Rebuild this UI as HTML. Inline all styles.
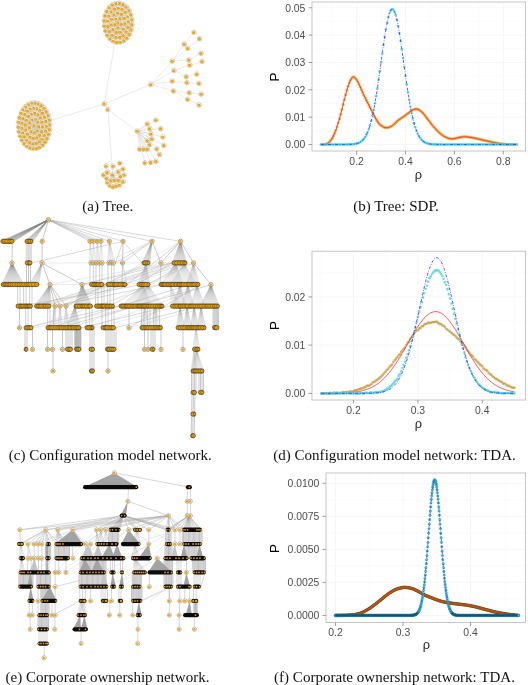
<!DOCTYPE html>
<html><head><meta charset="utf-8"><title>Figure</title>
<style>
html,body{margin:0;padding:0;background:#fff}
svg{display:block}
.cap{font-family:"Liberation Serif",serif;font-size:15.05px;fill:#111}
.tk{font-family:"Liberation Sans",sans-serif;font-size:10.4px;fill:#4d4d4d}
.ax{font-family:"Liberation Sans",sans-serif;font-size:13.5px;fill:#000}
.ar{font-family:"Liberation Sans",sans-serif;font-size:12.8px;fill:#222}
.e{stroke:#d4d4d4;stroke-width:.5;fill:none}
.e2{stroke:#a9a9a9;stroke-width:.45;fill:none}
.e3{stroke:#909090;stroke-width:.5;fill:none}
.e5{stroke:#adadad;stroke-width:.5;fill:none}
.e6{stroke:#a2a2a2;stroke-width:.5;fill:none}
.e4{stroke:#6c6c6c;stroke-opacity:.8;stroke-width:.5;fill:none}
.fa{stroke:#7a7a7a;stroke-opacity:.42;stroke-width:.35;fill:none}
.fb{stroke:#8c8c8c;stroke-opacity:.36;stroke-width:.35;fill:none}
.tr{fill:#a3a3a3;stroke:none}
.tr2{fill:#c4c4c4;stroke:none}
.bk{fill:#0a0a0a}
.gM{stroke:#f0f0f0;stroke-width:.6;fill:none}
.gm{stroke:#f7f7f7;stroke-width:.5;fill:none}
.bd{stroke:#c6c6c6;stroke-width:1;fill:none}
.tm{stroke:#787878;stroke-width:.7;fill:none}
</style></head><body>
<svg width="528" height="685" viewBox="0 0 528 685">
<defs>
<radialGradient id="og" cx="40%" cy="60%" r="65%"><stop offset="0" stop-color="#ffb400"/><stop offset=".7" stop-color="#f0a000"/><stop offset="1" stop-color="#c98200"/></radialGradient>
<g id="na"><circle r="2.35" fill="#fff" stroke="#adadad" stroke-width=".55"/><circle cx="-.25" cy=".25" r="1.62" fill="url(#og)"/></g>
<g id="nc"><circle r="2.15" fill="#fff" stroke="#6c6c6c" stroke-width=".6"/><circle cx="-.2" cy=".2" r="1.38" fill="url(#og)"/></g>
<g id="nd"><circle r="2.1" fill="#f2a200" stroke="#4a4a4a" stroke-opacity=".5" stroke-width=".55"/></g>
<g id="ng"><circle r="2.1" fill="#e8a41c" stroke="#3a3a3a" stroke-opacity=".8" stroke-width=".5"/><circle cx="-.1" cy=".1" r="1.3" fill="#f5a500"/></g>
<g id="ne"><circle r="2.1" fill="#fff" stroke="#858585" stroke-width=".5"/><circle cx="-.25" cy=".25" r="1.3" fill="url(#og)"/></g>
<g id="nf"><circle r="2.15" fill="#111"/><circle r="1.25" fill="#f0a000"/></g>
</defs>
<rect width="528" height="685" fill="#fff"/>
<g id="pa">
<path class="e" d="M118.2 22.7L121.5 24.1"/><path class="e" d="M118.2 22.7L118.2 27.6"/><path class="e" d="M118.2 22.7L114.9 24.3"/><path class="e" d="M118.2 22.7L116.1 18.8"/><path class="e" d="M118.2 22.7L120.2 18.7"/><path class="e" d="M118.2 22.7L123.6 28.8"/><path class="e" d="M118.2 22.7L120.4 32"/><path class="e" d="M118.2 22.7L116.5 32.2"/><path class="e" d="M118.2 22.7L113.2 29.4"/><path class="e" d="M118.2 22.7L111.4 24.5"/><path class="e" d="M118.2 22.7L111.8 19"/><path class="e" d="M118.2 22.7L114.2 14.7"/><path class="e" d="M118.2 22.7L117.9 12.9"/><path class="e" d="M118.2 22.7L121.7 14.2"/><path class="e" d="M118.2 22.7L124.4 18.2"/><path class="e" d="M118.2 22.7L125.1 23.7"/><path class="e" d="M118.2 22.7L123.5 35.4"/><path class="e" d="M118.2 22.7L119.9 37.2"/><path class="e" d="M118.2 22.7L116 37.1"/><path class="e" d="M118.2 22.7L112.5 35"/><path class="e" d="M118.2 22.7L109.7 31.3"/><path class="e" d="M118.2 22.7L108.1 26.4"/><path class="e" d="M118.2 22.7L107.8 21"/><path class="e" d="M118.2 22.7L109 15.8"/><path class="e" d="M118.2 22.7L111.4 11.6"/><path class="e" d="M118.2 22.7L114.7 8.9"/><path class="e" d="M118.2 22.7L118.4 8"/><path class="e" d="M118.2 22.7L122.2 9.1"/><path class="e" d="M118.2 22.7L125.4 12.1"/><path class="e" d="M118.2 22.7L127.6 16.5"/><path class="e" d="M118.2 22.7L128.6 21.7"/><path class="e" d="M118.2 22.7L128.2 27.1"/><path class="e" d="M118.2 22.7L126.4 31.8"/><path class="e" d="M118.2 22.7L120.4 42"/><path class="e" d="M118.2 22.7L116.8 42.2"/><path class="e" d="M118.2 22.7L113.3 41"/><path class="e" d="M118.2 22.7L110.1 38.6"/><path class="e" d="M118.2 22.7L107.4 35.1"/><path class="e" d="M118.2 22.7L105.5 30.7"/><path class="e" d="M118.2 22.7L104.5 25.8"/><path class="e" d="M118.2 22.7L104.4 20.7"/><path class="e" d="M118.2 22.7L105.2 15.7"/><path class="e" d="M118.2 22.7L106.9 11.2"/><path class="e" d="M118.2 22.7L109.4 7.5"/><path class="e" d="M118.2 22.7L112.5 4.8"/><path class="e" d="M118.2 22.7L116 3.4"/><path class="e" d="M118.2 22.7L119.6 3.2"/><path class="e" d="M118.2 22.7L123.1 4.4"/><path class="e" d="M118.2 22.7L126.3 6.8"/><path class="e" d="M118.2 22.7L129 10.3"/><path class="e" d="M118.2 22.7L130.9 14.7"/><path class="e" d="M118.2 22.7L131.9 19.6"/><path class="e" d="M118.2 22.7L132 24.7"/><path class="e" d="M118.2 22.7L131.2 29.7"/><path class="e" d="M118.2 22.7L129.5 34.2"/><path class="e" d="M118.2 22.7L127 37.9"/><path class="e" d="M118.2 22.7L123.9 40.6"/><path class="e" d="M34.2 125.7L38.9 126.4"/><path class="e" d="M34.2 125.7L37.5 130.6"/><path class="e" d="M34.2 125.7L34.5 132.5"/><path class="e" d="M34.2 125.7L31.5 131.3"/><path class="e" d="M34.2 125.7L29.7 127.4"/><path class="e" d="M34.2 125.7L30 122.7"/><path class="e" d="M34.2 125.7L32.3 119.5"/><path class="e" d="M34.2 125.7L35.5 119.1"/><path class="e" d="M34.2 125.7L38.1 121.8"/><path class="e" d="M34.2 125.7L41.8 131.4"/><path class="e" d="M34.2 125.7L39.8 135.2"/><path class="e" d="M34.2 125.7L36.9 137.6"/><path class="e" d="M34.2 125.7L33.5 138.2"/><path class="e" d="M34.2 125.7L30.3 136.9"/><path class="e" d="M34.2 125.7L27.7 133.9"/><path class="e" d="M34.2 125.7L26 129.6"/><path class="e" d="M34.2 125.7L25.6 124.7"/><path class="e" d="M34.2 125.7L26.6 120"/><path class="e" d="M34.2 125.7L28.6 116.2"/><path class="e" d="M34.2 125.7L31.5 113.8"/><path class="e" d="M34.2 125.7L34.9 113.2"/><path class="e" d="M34.2 125.7L38.1 114.5"/><path class="e" d="M34.2 125.7L40.7 117.5"/><path class="e" d="M34.2 125.7L42.4 121.8"/><path class="e" d="M34.2 125.7L42.8 126.7"/><path class="e" d="M34.2 125.7L42.3 139"/><path class="e" d="M34.2 125.7L39.6 141.7"/><path class="e" d="M34.2 125.7L36.4 143.2"/><path class="e" d="M34.2 125.7L33.1 143.5"/><path class="e" d="M34.2 125.7L29.9 142.4"/><path class="e" d="M34.2 125.7L27 140"/><path class="e" d="M34.2 125.7L24.6 136.7"/><path class="e" d="M34.2 125.7L22.9 132.5"/><path class="e" d="M34.2 125.7L22.1 127.8"/><path class="e" d="M34.2 125.7L22.2 122.9"/><path class="e" d="M34.2 125.7L23.1 118.3"/><path class="e" d="M34.2 125.7L24.9 114.2"/><path class="e" d="M34.2 125.7L27.4 110.9"/><path class="e" d="M34.2 125.7L30.4 108.8"/><path class="e" d="M34.2 125.7L33.6 107.9"/><path class="e" d="M34.2 125.7L36.9 108.3"/><path class="e" d="M34.2 125.7L40 110"/><path class="e" d="M34.2 125.7L42.7 112.9"/><path class="e" d="M34.2 125.7L44.7 116.8"/><path class="e" d="M34.2 125.7L46 121.2"/><path class="e" d="M34.2 125.7L46.4 126.1"/><path class="e" d="M34.2 125.7L45.8 130.9"/><path class="e" d="M34.2 125.7L44.5 135.3"/><path class="e" d="M34.2 125.7L39.7 147.1"/><path class="e" d="M34.2 125.7L36.6 148.3"/><path class="e" d="M34.2 125.7L33.3 148.5"/><path class="e" d="M34.2 125.7L30.1 147.7"/><path class="e" d="M34.2 125.7L27 146"/><path class="e" d="M34.2 125.7L24.3 143.4"/><path class="e" d="M34.2 125.7L22 140"/><path class="e" d="M34.2 125.7L20.3 136"/><path class="e" d="M34.2 125.7L19.1 131.5"/><path class="e" d="M34.2 125.7L18.6 126.8"/><path class="e" d="M34.2 125.7L18.8 122"/><path class="e" d="M34.2 125.7L19.7 117.4"/><path class="e" d="M34.2 125.7L21.2 113.1"/><path class="e" d="M34.2 125.7L23.2 109.5"/><path class="e" d="M34.2 125.7L25.8 106.5"/><path class="e" d="M34.2 125.7L28.7 104.3"/><path class="e" d="M34.2 125.7L31.8 103.1"/><path class="e" d="M34.2 125.7L35.1 102.9"/><path class="e" d="M34.2 125.7L38.3 103.7"/><path class="e" d="M34.2 125.7L41.4 105.4"/><path class="e" d="M34.2 125.7L44.1 108"/><path class="e" d="M34.2 125.7L46.4 111.4"/><path class="e" d="M34.2 125.7L48.1 115.4"/><path class="e" d="M34.2 125.7L49.3 119.9"/><path class="e" d="M34.2 125.7L49.8 124.6"/><path class="e" d="M34.2 125.7L49.6 129.4"/><path class="e" d="M34.2 125.7L48.7 134"/><path class="e" d="M34.2 125.7L47.2 138.3"/><path class="e" d="M34.2 125.7L45.2 141.9"/><path class="e" d="M34.2 125.7L42.6 144.9"/><path class="e" d="M104.3 103.8L118 24"/><path class="e" d="M104.3 103.8L34.2 125.7"/><path class="e" d="M104.3 103.8L150.8 84.5"/><path class="e" d="M104.3 103.8L107.9 109.5"/><path class="e" d="M107.9 109.5L137.3 131"/><path class="e" d="M107.9 109.5L112.7 174.9"/><path class="e" d="M150.8 84.5L172.3 61.1"/><path class="e" d="M150.8 84.5L174 70.5"/><path class="e" d="M150.8 84.5L172.3 81.1"/><path class="e" d="M150.8 84.5L173.5 90.9"/><path class="e" d="M172.3 61.1L184.3 44.1"/><path class="e" d="M184.3 44.1L193.9 32.3"/><path class="e" d="M172.3 61.1L187.8 48.3"/><path class="e" d="M187.8 48.3L199.6 38.7"/><path class="e" d="M172.3 61.1L189 59.9"/><path class="e" d="M189 59.9L201.1 53.3"/><path class="e" d="M174 70.5L189.8 65.1"/><path class="e" d="M189.8 65.1L202.1 61.4"/><path class="e" d="M174 70.5L186.3 76.7"/><path class="e" d="M186.3 76.7L196.9 74.2"/><path class="e" d="M172.3 81.1L187 82.6"/><path class="e" d="M187 82.6L199.1 83.3"/><path class="e" d="M173.5 90.9L189.3 92.7"/><path class="e" d="M189.3 92.7L201.3 94.1"/><path class="e" d="M173.5 90.9L187.8 99.3"/><path class="e" d="M187.8 99.3L199.1 105"/><path class="e" d="M137.3 131L155.9 120"/><path class="e" d="M137.3 131L147.4 123.8"/><path class="e" d="M137.3 131L149.8 128.7"/><path class="e" d="M137.3 131L160.8 128.7"/><path class="e" d="M137.3 131L151 133.8"/><path class="e" d="M137.3 131L162.9 137"/><path class="e" d="M137.3 131L151.9 138.9"/><path class="e" d="M137.3 131L147.4 140.5"/><path class="e" d="M137.3 131L149.8 144.6"/><path class="e" d="M137.3 131L163.9 145.4"/><path class="e" d="M137.3 131L139.8 149.2"/><path class="e" d="M137.3 131L143.8 149.2"/><path class="e" d="M137.3 131L147.4 149.2"/><path class="e" d="M137.3 131L156.9 148.8"/><path class="e" d="M137.3 131L159.7 154.5"/><path class="e" d="M137.3 131L144.9 162.8"/><path class="e" d="M137.3 131L150.8 162.4"/><path class="e" d="M137.3 131L156.1 161.3"/><path class="e" d="M112.7 174.9L106.1 166"/><path class="e" d="M112.7 174.9L113.1 166"/><path class="e" d="M112.7 174.9L119.9 163.2"/><path class="e" d="M112.7 174.9L123.1 168.9"/><path class="e" d="M112.7 174.9L107.4 172.3"/><path class="e" d="M112.7 174.9L118.4 171.7"/><path class="e" d="M112.7 174.9L103.6 174.9"/><path class="e" d="M112.7 174.9L124.1 174.9"/><path class="e" d="M112.7 174.9L120.7 176.4"/><path class="e" d="M112.7 174.9L106.7 178.3"/><path class="e" d="M112.7 174.9L110.8 180.6"/><path class="e" d="M112.7 174.9L114.6 180.2"/><path class="e" d="M112.7 174.9L118.4 180.2"/><path class="e" d="M112.7 174.9L123.1 181.7"/><path class="e" d="M112.7 174.9L107.4 182.5"/><path class="e" d="M112.7 174.9L109.9 185.5"/><path class="e" d="M112.7 174.9L113.1 186.9"/><path class="e" d="M112.7 174.9L116.1 185.9"/><path class="e" d="M112.7 174.9L119.4 185"/>
<use href="#na" x="123.9" y="40.6"/>
<use href="#na" x="127" y="37.9"/>
<use href="#na" x="129.5" y="34.2"/>
<use href="#na" x="131.2" y="29.7"/>
<use href="#na" x="132" y="24.7"/>
<use href="#na" x="131.9" y="19.6"/>
<use href="#na" x="130.9" y="14.7"/>
<use href="#na" x="129" y="10.3"/>
<use href="#na" x="126.3" y="6.8"/>
<use href="#na" x="123.1" y="4.4"/>
<use href="#na" x="119.6" y="3.2"/>
<use href="#na" x="116" y="3.4"/>
<use href="#na" x="112.5" y="4.8"/>
<use href="#na" x="109.4" y="7.5"/>
<use href="#na" x="106.9" y="11.2"/>
<use href="#na" x="105.2" y="15.7"/>
<use href="#na" x="104.4" y="20.7"/>
<use href="#na" x="104.5" y="25.8"/>
<use href="#na" x="105.5" y="30.7"/>
<use href="#na" x="107.4" y="35.1"/>
<use href="#na" x="110.1" y="38.6"/>
<use href="#na" x="113.3" y="41"/>
<use href="#na" x="116.8" y="42.2"/>
<use href="#na" x="120.4" y="42"/>
<use href="#na" x="126.4" y="31.8"/>
<use href="#na" x="128.2" y="27.1"/>
<use href="#na" x="128.6" y="21.7"/>
<use href="#na" x="127.6" y="16.5"/>
<use href="#na" x="125.4" y="12.1"/>
<use href="#na" x="122.2" y="9.1"/>
<use href="#na" x="118.4" y="8"/>
<use href="#na" x="114.7" y="8.9"/>
<use href="#na" x="111.4" y="11.6"/>
<use href="#na" x="109" y="15.8"/>
<use href="#na" x="107.8" y="21"/>
<use href="#na" x="108.1" y="26.4"/>
<use href="#na" x="109.7" y="31.3"/>
<use href="#na" x="112.5" y="35"/>
<use href="#na" x="116" y="37.1"/>
<use href="#na" x="119.9" y="37.2"/>
<use href="#na" x="123.5" y="35.4"/>
<use href="#na" x="125.1" y="23.7"/>
<use href="#na" x="124.4" y="18.2"/>
<use href="#na" x="121.7" y="14.2"/>
<use href="#na" x="117.9" y="12.9"/>
<use href="#na" x="114.2" y="14.7"/>
<use href="#na" x="111.8" y="19"/>
<use href="#na" x="111.4" y="24.5"/>
<use href="#na" x="113.2" y="29.4"/>
<use href="#na" x="116.5" y="32.2"/>
<use href="#na" x="120.4" y="32"/>
<use href="#na" x="123.6" y="28.8"/>
<use href="#na" x="120.2" y="18.7"/>
<use href="#na" x="116.1" y="18.8"/>
<use href="#na" x="114.9" y="24.3"/>
<use href="#na" x="118.2" y="27.6"/>
<use href="#na" x="121.5" y="24.1"/>
<use href="#na" x="118.2" y="22.7"/>
<use href="#na" x="42.6" y="144.9"/>
<use href="#na" x="45.2" y="141.9"/>
<use href="#na" x="47.2" y="138.3"/>
<use href="#na" x="48.7" y="134"/>
<use href="#na" x="49.6" y="129.4"/>
<use href="#na" x="49.8" y="124.6"/>
<use href="#na" x="49.3" y="119.9"/>
<use href="#na" x="48.1" y="115.4"/>
<use href="#na" x="46.4" y="111.4"/>
<use href="#na" x="44.1" y="108"/>
<use href="#na" x="41.4" y="105.4"/>
<use href="#na" x="38.3" y="103.7"/>
<use href="#na" x="35.1" y="102.9"/>
<use href="#na" x="31.8" y="103.1"/>
<use href="#na" x="28.7" y="104.3"/>
<use href="#na" x="25.8" y="106.5"/>
<use href="#na" x="23.2" y="109.5"/>
<use href="#na" x="21.2" y="113.1"/>
<use href="#na" x="19.7" y="117.4"/>
<use href="#na" x="18.8" y="122"/>
<use href="#na" x="18.6" y="126.8"/>
<use href="#na" x="19.1" y="131.5"/>
<use href="#na" x="20.3" y="136"/>
<use href="#na" x="22" y="140"/>
<use href="#na" x="24.3" y="143.4"/>
<use href="#na" x="27" y="146"/>
<use href="#na" x="30.1" y="147.7"/>
<use href="#na" x="33.3" y="148.5"/>
<use href="#na" x="36.6" y="148.3"/>
<use href="#na" x="39.7" y="147.1"/>
<use href="#na" x="44.5" y="135.3"/>
<use href="#na" x="45.8" y="130.9"/>
<use href="#na" x="46.4" y="126.1"/>
<use href="#na" x="46" y="121.2"/>
<use href="#na" x="44.7" y="116.8"/>
<use href="#na" x="42.7" y="112.9"/>
<use href="#na" x="40" y="110"/>
<use href="#na" x="36.9" y="108.3"/>
<use href="#na" x="33.6" y="107.9"/>
<use href="#na" x="30.4" y="108.8"/>
<use href="#na" x="27.4" y="110.9"/>
<use href="#na" x="24.9" y="114.2"/>
<use href="#na" x="23.1" y="118.3"/>
<use href="#na" x="22.2" y="122.9"/>
<use href="#na" x="22.1" y="127.8"/>
<use href="#na" x="22.9" y="132.5"/>
<use href="#na" x="24.6" y="136.7"/>
<use href="#na" x="27" y="140"/>
<use href="#na" x="29.9" y="142.4"/>
<use href="#na" x="33.1" y="143.5"/>
<use href="#na" x="36.4" y="143.2"/>
<use href="#na" x="39.6" y="141.7"/>
<use href="#na" x="42.3" y="139"/>
<use href="#na" x="42.8" y="126.7"/>
<use href="#na" x="42.4" y="121.8"/>
<use href="#na" x="40.7" y="117.5"/>
<use href="#na" x="38.1" y="114.5"/>
<use href="#na" x="34.9" y="113.2"/>
<use href="#na" x="31.5" y="113.8"/>
<use href="#na" x="28.6" y="116.2"/>
<use href="#na" x="26.6" y="120"/>
<use href="#na" x="25.6" y="124.7"/>
<use href="#na" x="26" y="129.6"/>
<use href="#na" x="27.7" y="133.9"/>
<use href="#na" x="30.3" y="136.9"/>
<use href="#na" x="33.5" y="138.2"/>
<use href="#na" x="36.9" y="137.6"/>
<use href="#na" x="39.8" y="135.2"/>
<use href="#na" x="41.8" y="131.4"/>
<use href="#na" x="38.1" y="121.8"/>
<use href="#na" x="35.5" y="119.1"/>
<use href="#na" x="32.3" y="119.5"/>
<use href="#na" x="30" y="122.7"/>
<use href="#na" x="29.7" y="127.4"/>
<use href="#na" x="31.5" y="131.3"/>
<use href="#na" x="34.5" y="132.5"/>
<use href="#na" x="37.5" y="130.6"/>
<use href="#na" x="38.9" y="126.4"/>
<use href="#na" x="34.2" y="125.7"/>
<use href="#na" x="172.3" y="61.1"/>
<use href="#na" x="174" y="70.5"/>
<use href="#na" x="172.3" y="81.1"/>
<use href="#na" x="173.5" y="90.9"/>
<use href="#na" x="184.3" y="44.1"/>
<use href="#na" x="193.9" y="32.3"/>
<use href="#na" x="187.8" y="48.3"/>
<use href="#na" x="199.6" y="38.7"/>
<use href="#na" x="189" y="59.9"/>
<use href="#na" x="201.1" y="53.3"/>
<use href="#na" x="189.8" y="65.1"/>
<use href="#na" x="202.1" y="61.4"/>
<use href="#na" x="186.3" y="76.7"/>
<use href="#na" x="196.9" y="74.2"/>
<use href="#na" x="187" y="82.6"/>
<use href="#na" x="199.1" y="83.3"/>
<use href="#na" x="189.3" y="92.7"/>
<use href="#na" x="201.3" y="94.1"/>
<use href="#na" x="187.8" y="99.3"/>
<use href="#na" x="199.1" y="105"/>
<use href="#na" x="155.9" y="120"/>
<use href="#na" x="147.4" y="123.8"/>
<use href="#na" x="149.8" y="128.7"/>
<use href="#na" x="160.8" y="128.7"/>
<use href="#na" x="151" y="133.8"/>
<use href="#na" x="162.9" y="137"/>
<use href="#na" x="151.9" y="138.9"/>
<use href="#na" x="147.4" y="140.5"/>
<use href="#na" x="149.8" y="144.6"/>
<use href="#na" x="163.9" y="145.4"/>
<use href="#na" x="139.8" y="149.2"/>
<use href="#na" x="143.8" y="149.2"/>
<use href="#na" x="147.4" y="149.2"/>
<use href="#na" x="156.9" y="148.8"/>
<use href="#na" x="159.7" y="154.5"/>
<use href="#na" x="144.9" y="162.8"/>
<use href="#na" x="150.8" y="162.4"/>
<use href="#na" x="156.1" y="161.3"/>
<use href="#na" x="106.1" y="166"/>
<use href="#na" x="113.1" y="166"/>
<use href="#na" x="119.9" y="163.2"/>
<use href="#na" x="123.1" y="168.9"/>
<use href="#na" x="107.4" y="172.3"/>
<use href="#na" x="118.4" y="171.7"/>
<use href="#na" x="103.6" y="174.9"/>
<use href="#na" x="124.1" y="174.9"/>
<use href="#na" x="120.7" y="176.4"/>
<use href="#na" x="106.7" y="178.3"/>
<use href="#na" x="110.8" y="180.6"/>
<use href="#na" x="114.6" y="180.2"/>
<use href="#na" x="118.4" y="180.2"/>
<use href="#na" x="123.1" y="181.7"/>
<use href="#na" x="107.4" y="182.5"/>
<use href="#na" x="109.9" y="185.5"/>
<use href="#na" x="113.1" y="186.9"/>
<use href="#na" x="116.1" y="185.9"/>
<use href="#na" x="119.4" y="185"/>
<use href="#na" x="112.7" y="174.9"/>
<use href="#na" x="104.3" y="103.8"/>
<use href="#na" x="107.9" y="109.5"/>
<use href="#na" x="150.8" y="84.5"/>
<use href="#na" x="137.3" y="131"/>
</g>
<g id="pc">
<path class="e3" d="M48.4 219.8L42.2 241.3"/><path class="e2" d="M48.4 219.8L90 241.3"/><path class="e2" d="M48.4 219.8L93.2 241.3"/><path class="e2" d="M48.4 219.8L97.2 241.3"/><path class="e2" d="M48.4 219.8L101 241.3"/><path class="e2" d="M48.4 219.8L109.4 241.3"/><path class="e2" d="M48.4 219.8L123 241.3"/><path class="e2" d="M48.4 219.8L152 241.3"/><path class="e2" d="M48.4 219.8L180.5 241.3"/><path class="e3" d="M12.4 241.3L12 262.9"/><path class="e2" d="M26.2 241.3L26.2 262.9M27.2 241.3L27.2 262.9M28.3 241.3L28.3 262.9M29.3 241.3L29.3 262.9M30.4 241.3L30.4 262.9M31.4 241.3L31.4 262.9"/><path class="e3" d="M26.5 262.9L26.5 284.6M28.5 262.9L28.5 284.6M30.5 262.9L30.5 284.6"/><path class="e3" d="M42.2 241.3L42 262.9"/><path class="e3" d="M123 241.3L122.5 262.9"/><path class="e2" d="M123 241.3L115.5 262.9"/><path class="e2" d="M123 241.3L142 262.9"/><path class="e3" d="M152 241.3L161 262.9"/><path class="e2" d="M152 241.3L122.5 262.9"/><path class="e3" d="M180.5 241.3L161 262.9"/><path class="e3" d="M180.5 241.3L193.5 262.9"/><path class="e2" d="M32 262.9L123 241.3"/><path class="e" d="M42 262.9L89 262.9"/><path class="e" d="M50 284.6L89 284.6"/><path class="e" d="M104 262.9L172 262.9"/><path class="e3" d="M42 262.9L50 284.6"/><path class="e3" d="M42 262.9L82 284.6"/><path class="e6" d="M90 262.9L90 284.6"/><path class="e6" d="M93.6 262.9L93.6 284.6"/><path class="e6" d="M96 262.9L96 284.6"/><path class="e6" d="M99.6 262.9L99.6 284.6"/><path class="e6" d="M102 262.9L102 284.6"/><path class="e6" d="M108 262.9L108 284.6"/><path class="e6" d="M111.6 262.9L111.6 284.6"/><path class="e6" d="M114 262.9L114 284.6"/><path class="e3" d="M122.5 262.9L122 284.6"/><path class="e2" d="M122.5 262.9L127 284.6"/><path class="e3" d="M161 262.9L160 284.6"/><path class="e3" d="M193.5 262.9L211 284.6"/><path class="e6" d="M17.6 284.6L17.6 306.1"/><path class="e6" d="M20 284.6L20 306.1"/><path class="e6" d="M23.6 284.6L23.6 306.1"/><path class="e6" d="M26 284.6L26 306.1"/><path class="e6" d="M29.6 284.6L29.6 306.1"/><path class="e6" d="M32 284.6L32 306.1"/><path class="e3" d="M50 284.6L55 306.1"/><path class="e3" d="M50 284.6L60 306.1"/><path class="e3" d="M50 284.6L66 306.1"/><path class="e6" d="M95.6 284.6L95.6 306.1"/><path class="e6" d="M98 284.6L98 306.1"/><path class="e6" d="M101.6 284.6L101.6 306.1"/><path class="e6" d="M104 284.6L104 306.1"/><path class="e6" d="M107.6 284.6L107.6 306.1"/><path class="e6" d="M110 284.6L110 306.1"/><path class="e6" d="M113.6 284.6L113.6 306.1"/><path class="e2" d="M36 306.1L172 262.9"/><path class="e" d="M40 306.1L176 262.9"/><path class="e2" d="M44 306.1L180 262.9"/><path class="e" d="M48 306.1L184 262.9"/><path class="e2" d="M60 306.1L187 262.9"/><path class="e" d="M66 306.1L193.5 262.9"/><path class="e2" d="M20 306.1L142 284.6"/><path class="e" d="M50 284.6L172 262.9"/><path class="e2" d="M55 306.1L161 284.6"/><path class="e" d="M82 284.6L161 262.9"/><path class="e2" d="M82 284.6L172 262.9"/><path class="e" d="M100 306.1L193.5 262.9"/><path class="e2" d="M110 306.1L186 262.9"/><path class="e" d="M30 327.8L160 284.6"/><path class="e2" d="M50 327.8L190 284.6"/><path class="e" d="M70 327.8L200 284.6"/><path class="e2" d="M60 327.8L211 284.6"/><path class="e" d="M90 327.8L211 284.6"/><path class="e2" d="M129 327.8L200 284.6"/><path class="e" d="M129 327.8L211 306.1"/><path class="e2" d="M25 327.8L120 306.1"/><path class="e" d="M33 327.8L140 306.1"/><path class="e2" d="M81 327.8L170 306.1"/><path class="e" d="M94 327.8L180 306.1"/><path class="e2" d="M115 327.8L200 306.1"/><path class="e" d="M60 306.1L150 262.9"/><path class="e2" d="M66 306.1L146 262.9"/><path class="e" d="M104 284.6L180.5 241.3"/><path class="e2" d="M127 284.6L180.5 241.3"/><path class="e" d="M104 262.9L152 241.3"/><path class="e2" d="M115.5 262.9L152 241.3"/><path class="e" d="M150 284.6L193.5 262.9"/><path class="e2" d="M137 284.6L172 262.9"/><path class="e6" d="M25.6 306.1L25.6 327.8"/><path class="e6" d="M28 306.1L28 327.8"/><path class="e6" d="M31.6 306.1L31.6 327.8"/><path class="e3" d="M19.5 306.1L19.5 327.8"/><path class="e6" d="M47.6 306.1L47.6 327.8"/><path class="e6" d="M50 306.1L50 327.8"/><path class="e6" d="M53.6 306.1L53.6 327.8"/><path class="e6" d="M86 306.1L86 327.8"/><path class="e6" d="M89.6 306.1L89.6 327.8"/><path class="e6" d="M92 306.1L92 327.8"/><path class="e6" d="M102 306.1L102 327.8"/><path class="e6" d="M105.6 306.1L105.6 327.8"/><path class="e6" d="M108 306.1L108 327.8"/><path class="e6" d="M111.6 306.1L111.6 327.8"/><path class="e6" d="M114 306.1L114 327.8"/><path class="e3" d="M129 306.1L129 327.8"/><path class="e6" d="M141.6 306.1L141.6 327.8"/><path class="e6" d="M144 306.1L144 327.8"/><path class="e6" d="M147.6 306.1L147.6 327.8"/><path class="e6" d="M150 306.1L150 327.8"/><path class="e6" d="M153.6 306.1L153.6 327.8"/><path class="e6" d="M156 306.1L156 327.8"/><path class="e6" d="M159.6 306.1L159.6 327.8"/><path class="e3" d="M213 306.1L213 327.8M214.1 306.1L214.1 327.8M215.2 306.1L215.2 327.8M216.3 306.1L216.3 327.8M217.4 306.1L217.4 327.8M218.5 306.1L218.5 327.8"/><path class="e3" d="M25 327.8L25 349.4"/><path class="e3" d="M27 327.8L27 349.4"/><path class="e3" d="M32.5 327.8L32.5 349.4"/><path class="e3" d="M47.5 327.8L47.5 349.4"/><path class="e3" d="M52.5 327.8L52.5 349.4"/><path class="e3" d="M62.5 327.8L62.5 349.4"/><path class="e3" d="M66 327.8L66 349.4"/><path class="e3" d="M68 327.8L68 349.4"/><path class="e3" d="M70 327.8L70 349.4"/><path class="e3" d="M72 327.8L72 349.4"/><path class="e3" d="M75 327.8L75 349.4"/><path class="e3" d="M77 327.8L77 349.4"/><path class="e3" d="M79 327.8L79 349.4"/><path class="e3" d="M81 327.8L81 349.4"/><path class="e3" d="M90 327.8L90 349.4"/><path class="e3" d="M92 327.8L92 349.4"/><path class="e3" d="M94 327.8L94 349.4"/><path class="e3" d="M106 327.8L106 349.4"/><path class="e3" d="M108 327.8L108 349.4"/><path class="e3" d="M110 327.8L110 349.4"/><path class="e3" d="M112 327.8L112 349.4"/><path class="e3" d="M114 327.8L114 349.4"/><path class="e3" d="M116 327.8L116 349.4"/><path class="e3" d="M144.5 327.8L144.5 349.4"/><path class="e3" d="M148 327.8L148 349.4"/><path class="e3" d="M151 327.8L151 349.4"/><path class="e3" d="M153 327.8L153 349.4"/><path class="e3" d="M155 327.8L155 349.4"/><path class="e3" d="M161 327.8L161 349.4"/><path class="e3" d="M183 327.8L183 349.4"/><path class="e3" d="M75 327.8L75 349.4M75.8 327.8L75.8 349.4M76.6 327.8L76.6 349.4M77.4 327.8L77.4 349.4M78.1 327.8L78.1 349.4M78.9 327.8L78.9 349.4M79.7 327.8L79.7 349.4M80.5 327.8L80.5 349.4"/><path class="e3" d="M53 349.4L53 371"/><path class="e3" d="M90 349.4L90 371"/><path class="e3" d="M92 349.4L92 371"/><path class="e3" d="M94 349.4L94 371"/><path class="e3" d="M108 349.4L108 371"/><path class="e3" d="M191.5 371L191.5 392.6"/><path class="e3" d="M193 371L193 392.6"/><path class="e3" d="M194.5 371L194.5 392.6"/><path class="e3" d="M196 371L196 392.6"/><path class="e3" d="M199 371L199 392.6"/><path class="e3" d="M200.5 371L200.5 392.6"/><path class="e3" d="M202 371L202 392.6"/><path class="e3" d="M203.5 371L203.5 392.6"/><path class="e3" d="M192 392.6L191.7 414.1"/><path class="e3" d="M193.5 392.6L193.2 414.1"/><path class="e3" d="M195 392.6L194.7 414.1"/><path class="e3" d="M191.5 414.1L191.2 435.8"/><path class="e3" d="M193 414.1L192.7 435.8"/><path class="e3" d="M194.5 414.1L194.2 435.8"/>
<path class="fa" d="M48.4 219.8L0.8 241.3M48.4 219.8L1.2 241.3M48.4 219.8L1.6 241.3M48.4 219.8L2 241.3M48.4 219.8L2.4 241.3M48.4 219.8L2.8 241.3M48.4 219.8L3.2 241.3M48.4 219.8L3.6 241.3M48.4 219.8L4 241.3M48.4 219.8L4.4 241.3M48.4 219.8L4.8 241.3M48.4 219.8L5.2 241.3M48.4 219.8L5.6 241.3M48.4 219.8L6 241.3M48.4 219.8L6.4 241.3M48.4 219.8L6.8 241.3M48.4 219.8L7.2 241.3M48.4 219.8L7.6 241.3M48.4 219.8L8 241.3M48.4 219.8L8.4 241.3M48.4 219.8L8.8 241.3M48.4 219.8L9.2 241.3M48.4 219.8L9.6 241.3M48.4 219.8L10 241.3M48.4 219.8L10.4 241.3M48.4 219.8L10.8 241.3M48.4 219.8L11.2 241.3M48.4 219.8L11.6 241.3M48.4 219.8L12 241.3M48.4 219.8L12.4 241.3M48.4 219.8L12.8 241.3M48.4 219.8L13.2 241.3M48.4 219.8L13.6 241.3M48.4 219.8L14 241.3"/><path class="fa" d="M48.4 219.8L25 241.3M48.4 219.8L25.4 241.3M48.4 219.8L25.8 241.3M48.4 219.8L26.1 241.3M48.4 219.8L26.5 241.3M48.4 219.8L26.9 241.3M48.4 219.8L27.3 241.3M48.4 219.8L27.7 241.3M48.4 219.8L28 241.3M48.4 219.8L28.4 241.3M48.4 219.8L28.8 241.3M48.4 219.8L29.2 241.3M48.4 219.8L29.6 241.3M48.4 219.8L30 241.3M48.4 219.8L30.3 241.3M48.4 219.8L30.7 241.3M48.4 219.8L31.1 241.3M48.4 219.8L31.5 241.3M48.4 219.8L31.9 241.3M48.4 219.8L32.2 241.3M48.4 219.8L32.6 241.3M48.4 219.8L33 241.3"/><path class="fb" d="M90 241.3L89 262.9M90 241.3L90 262.9M90 241.3L91 262.9M90 241.3L92 262.9M90 241.3L93 262.9"/><path class="fb" d="M93.2 241.3L92 262.9M93.2 241.3L93.2 262.9M93.2 241.3L94.5 262.9M93.2 241.3L95.8 262.9M93.2 241.3L97 262.9"/><path class="fb" d="M97.2 241.3L96 262.9M97.2 241.3L97 262.9M97.2 241.3L98 262.9M97.2 241.3L99 262.9M97.2 241.3L100 262.9"/><path class="fb" d="M101 241.3L99 262.9M101 241.3L100.2 262.9M101 241.3L101.5 262.9M101 241.3L102.8 262.9M101 241.3L104 262.9"/><path class="fb" d="M109.4 241.3L107 262.9M109.4 241.3L107.9 262.9M109.4 241.3L108.9 262.9M109.4 241.3L109.8 262.9M109.4 241.3L110.8 262.9M109.4 241.3L111.7 262.9M109.4 241.3L112.7 262.9M109.4 241.3L113.6 262.9M109.4 241.3L114.6 262.9M109.4 241.3L115.5 262.9"/><path class="fa" d="M152 241.3L142 262.9M152 241.3L142.5 262.9M152 241.3L143.1 262.9M152 241.3L143.6 262.9M152 241.3L144.1 262.9M152 241.3L144.7 262.9M152 241.3L145.2 262.9M152 241.3L145.7 262.9M152 241.3L146.3 262.9M152 241.3L146.8 262.9M152 241.3L147.3 262.9M152 241.3L147.9 262.9M152 241.3L148.4 262.9M152 241.3L148.9 262.9M152 241.3L149.5 262.9M152 241.3L150 262.9"/><path class="fa" d="M180.5 241.3L172 262.9M180.5 241.3L172.6 262.9M180.5 241.3L173.2 262.9M180.5 241.3L173.8 262.9M180.5 241.3L174.4 262.9M180.5 241.3L175 262.9M180.5 241.3L175.6 262.9M180.5 241.3L176.2 262.9M180.5 241.3L176.8 262.9M180.5 241.3L177.4 262.9M180.5 241.3L178 262.9M180.5 241.3L178.6 262.9M180.5 241.3L179.2 262.9M180.5 241.3L179.8 262.9M180.5 241.3L180.4 262.9M180.5 241.3L181 262.9M180.5 241.3L181.6 262.9M180.5 241.3L182.2 262.9M180.5 241.3L182.8 262.9M180.5 241.3L183.4 262.9M180.5 241.3L184 262.9M180.5 241.3L184.6 262.9M180.5 241.3L185.2 262.9M180.5 241.3L185.8 262.9M180.5 241.3L186.4 262.9M180.5 241.3L187 262.9"/><path class="fa" d="M12 262.9L1.2 284.6M12 262.9L1.9 284.6M12 262.9L2.5 284.6M12 262.9L3.2 284.6M12 262.9L3.8 284.6M12 262.9L4.5 284.6M12 262.9L5.1 284.6M12 262.9L5.8 284.6M12 262.9L6.4 284.6M12 262.9L7.1 284.6M12 262.9L7.7 284.6M12 262.9L8.4 284.6M12 262.9L9 284.6M12 262.9L9.7 284.6M12 262.9L10.3 284.6M12 262.9L11 284.6M12 262.9L11.6 284.6M12 262.9L12.3 284.6M12 262.9L12.9 284.6M12 262.9L13.6 284.6M12 262.9L14.2 284.6M12 262.9L14.9 284.6M12 262.9L15.5 284.6M12 262.9L16.2 284.6M12 262.9L16.8 284.6M12 262.9L17.5 284.6M12 262.9L18.1 284.6M12 262.9L18.8 284.6M12 262.9L19.4 284.6M12 262.9L20.1 284.6M12 262.9L20.7 284.6M12 262.9L21.4 284.6M12 262.9L22 284.6M12 262.9L22.7 284.6M12 262.9L23.3 284.6M12 262.9L24 284.6"/><path class="fa" d="M42 262.9L29 284.6M42 262.9L29.8 284.6M42 262.9L30.5 284.6M42 262.9L31.3 284.6M42 262.9L32.1 284.6M42 262.9L32.8 284.6M42 262.9L33.6 284.6M42 262.9L34.4 284.6M42 262.9L35.2 284.6M42 262.9L35.9 284.6M42 262.9L36.7 284.6M42 262.9L37.5 284.6M42 262.9L38.2 284.6M42 262.9L39 284.6"/><path class="fa" d="M146 262.9L138 284.6M146 262.9L138.9 284.6M146 262.9L139.8 284.6M146 262.9L140.8 284.6M146 262.9L141.7 284.6M146 262.9L142.6 284.6M146 262.9L143.5 284.6M146 262.9L144.5 284.6M146 262.9L145.4 284.6M146 262.9L146.3 284.6M146 262.9L147.2 284.6M146 262.9L148.2 284.6M146 262.9L149.1 284.6M146 262.9L150 284.6"/><path class="fb" d="M176 262.9L160 284.6M176 262.9L160.9 284.6M176 262.9L161.8 284.6M176 262.9L162.8 284.6M176 262.9L163.7 284.6M176 262.9L164.6 284.6M176 262.9L165.5 284.6M176 262.9L166.4 284.6M176 262.9L167.4 284.6M176 262.9L168.3 284.6M176 262.9L169.2 284.6M176 262.9L170.1 284.6M176 262.9L171 284.6M176 262.9L172 284.6M176 262.9L172.9 284.6M176 262.9L173.8 284.6M176 262.9L174.7 284.6M176 262.9L175.6 284.6M176 262.9L176.6 284.6M176 262.9L177.5 284.6M176 262.9L178.4 284.6M176 262.9L179.3 284.6M176 262.9L180.2 284.6M176 262.9L181.2 284.6M176 262.9L182.1 284.6M176 262.9L183 284.6"/><path class="fb" d="M184 262.9L170 284.6M184 262.9L171.1 284.6M184 262.9L172.2 284.6M184 262.9L173.2 284.6M184 262.9L174.3 284.6M184 262.9L175.4 284.6M184 262.9L176.5 284.6M184 262.9L177.6 284.6M184 262.9L178.6 284.6M184 262.9L179.7 284.6M184 262.9L180.8 284.6M184 262.9L181.9 284.6M184 262.9L183 284.6M184 262.9L184 284.6M184 262.9L185.1 284.6M184 262.9L186.2 284.6M184 262.9L187.3 284.6M184 262.9L188.4 284.6M184 262.9L189.4 284.6M184 262.9L190.5 284.6M184 262.9L191.6 284.6M184 262.9L192.7 284.6M184 262.9L193.8 284.6M184 262.9L194.8 284.6M184 262.9L195.9 284.6M184 262.9L197 284.6"/><path class="fa" d="M193.5 262.9L186 284.6M193.5 262.9L187.1 284.6M193.5 262.9L188.2 284.6M193.5 262.9L189.2 284.6M193.5 262.9L190.3 284.6M193.5 262.9L191.4 284.6M193.5 262.9L192.5 284.6M193.5 262.9L193.5 284.6M193.5 262.9L194.6 284.6M193.5 262.9L195.7 284.6M193.5 262.9L196.8 284.6M193.5 262.9L197.8 284.6M193.5 262.9L198.9 284.6M193.5 262.9L200 284.6"/><path class="fa" d="M50 284.6L34.5 306.1M50 284.6L35.2 306.1M50 284.6L35.9 306.1M50 284.6L36.7 306.1M50 284.6L37.4 306.1M50 284.6L38.1 306.1M50 284.6L38.8 306.1M50 284.6L39.5 306.1M50 284.6L40.2 306.1M50 284.6L41 306.1M50 284.6L41.7 306.1M50 284.6L42.4 306.1M50 284.6L43.1 306.1M50 284.6L43.8 306.1M50 284.6L44.5 306.1M50 284.6L45.3 306.1M50 284.6L46 306.1M50 284.6L46.7 306.1M50 284.6L47.4 306.1M50 284.6L48.1 306.1M50 284.6L48.8 306.1M50 284.6L49.6 306.1M50 284.6L50.3 306.1M50 284.6L51 306.1"/><path class="fa" d="M82 284.6L74 306.1M82 284.6L74.7 306.1M82 284.6L75.5 306.1M82 284.6L76.2 306.1M82 284.6L77 306.1M82 284.6L77.7 306.1M82 284.6L78.4 306.1M82 284.6L79.2 306.1M82 284.6L79.9 306.1M82 284.6L80.7 306.1M82 284.6L81.4 306.1M82 284.6L82.1 306.1M82 284.6L82.9 306.1M82 284.6L83.6 306.1M82 284.6L84.4 306.1M82 284.6L85.1 306.1M82 284.6L85.8 306.1M82 284.6L86.6 306.1M82 284.6L87.3 306.1M82 284.6L88.1 306.1M82 284.6L88.8 306.1M82 284.6L89.5 306.1M82 284.6L90.3 306.1M82 284.6L91 306.1M82 284.6L91.8 306.1M82 284.6L92.5 306.1"/><path class="fb" d="M143 284.6L121 306.1M143 284.6L122.1 306.1M143 284.6L123.1 306.1M143 284.6L124.2 306.1M143 284.6L125.3 306.1M143 284.6L126.3 306.1M143 284.6L127.4 306.1M143 284.6L128.5 306.1M143 284.6L129.6 306.1M143 284.6L130.6 306.1M143 284.6L131.7 306.1M143 284.6L132.8 306.1M143 284.6L133.8 306.1M143 284.6L134.9 306.1M143 284.6L136 306.1M143 284.6L137 306.1M143 284.6L138.1 306.1M143 284.6L139.2 306.1M143 284.6L140.2 306.1M143 284.6L141.3 306.1M143 284.6L142.4 306.1M143 284.6L143.4 306.1M143 284.6L144.5 306.1M143 284.6L145.6 306.1M143 284.6L146.7 306.1M143 284.6L147.7 306.1M143 284.6L148.8 306.1M143 284.6L149.9 306.1M143 284.6L150.9 306.1M143 284.6L152 306.1"/><path class="fb" d="M148 284.6L132 306.1M148 284.6L133.2 306.1M148 284.6L134.5 306.1M148 284.6L135.7 306.1M148 284.6L137 306.1M148 284.6L138.2 306.1M148 284.6L139.4 306.1M148 284.6L140.7 306.1M148 284.6L141.9 306.1M148 284.6L143.2 306.1M148 284.6L144.4 306.1M148 284.6L145.6 306.1M148 284.6L146.9 306.1M148 284.6L148.1 306.1M148 284.6L149.4 306.1M148 284.6L150.6 306.1M148 284.6L151.8 306.1M148 284.6L153.1 306.1M148 284.6L154.3 306.1M148 284.6L155.6 306.1M148 284.6L156.8 306.1M148 284.6L158 306.1M148 284.6L159.3 306.1M148 284.6L160.5 306.1M148 284.6L161.8 306.1M148 284.6L163 306.1"/><path class="fb" d="M170 284.6L171 306.1M170 284.6L172.1 306.1M170 284.6L173.2 306.1M170 284.6L174.3 306.1M170 284.6L175.4 306.1M170 284.6L176.6 306.1M170 284.6L177.7 306.1M170 284.6L178.8 306.1M170 284.6L179.9 306.1M170 284.6L181 306.1"/><path class="fa" d="M180 284.6L172 306.1M180 284.6L173.1 306.1M180 284.6L174.2 306.1M180 284.6L175.2 306.1M180 284.6L176.3 306.1M180 284.6L177.4 306.1M180 284.6L178.5 306.1M180 284.6L179.5 306.1M180 284.6L180.6 306.1M180 284.6L181.7 306.1M180 284.6L182.8 306.1M180 284.6L183.8 306.1M180 284.6L184.9 306.1M180 284.6L186 306.1"/><path class="fa" d="M188 284.6L181 306.1M188 284.6L182 306.1M188 284.6L183 306.1M188 284.6L184 306.1M188 284.6L185 306.1M188 284.6L186 306.1M188 284.6L187 306.1M188 284.6L188 306.1M188 284.6L189 306.1M188 284.6L190 306.1M188 284.6L191 306.1M188 284.6L192 306.1M188 284.6L193 306.1M188 284.6L194 306.1"/><path class="fa" d="M197 284.6L190 306.1M197 284.6L191.2 306.1M197 284.6L192.3 306.1M197 284.6L193.5 306.1M197 284.6L194.6 306.1M197 284.6L195.8 306.1M197 284.6L196.9 306.1M197 284.6L198.1 306.1M197 284.6L199.2 306.1M197 284.6L200.4 306.1M197 284.6L201.5 306.1M197 284.6L202.7 306.1M197 284.6L203.8 306.1M197 284.6L205 306.1"/><path class="fa" d="M211 284.6L200 306.1M211 284.6L200.8 306.1M211 284.6L201.6 306.1M211 284.6L202.3 306.1M211 284.6L203.1 306.1M211 284.6L203.9 306.1M211 284.6L204.7 306.1M211 284.6L205.5 306.1M211 284.6L206.2 306.1M211 284.6L207 306.1M211 284.6L207.8 306.1M211 284.6L208.6 306.1M211 284.6L209.4 306.1M211 284.6L210.1 306.1M211 284.6L210.9 306.1M211 284.6L211.7 306.1M211 284.6L212.5 306.1M211 284.6L213.3 306.1M211 284.6L214 306.1M211 284.6L214.8 306.1M211 284.6L215.6 306.1M211 284.6L216.4 306.1M211 284.6L217.2 306.1M211 284.6L217.9 306.1M211 284.6L218.7 306.1M211 284.6L219.5 306.1"/><path class="fb" d="M55 306.1L50 327.8M55 306.1L50.9 327.8M55 306.1L51.8 327.8M55 306.1L52.6 327.8M55 306.1L53.5 327.8M55 306.1L54.4 327.8M55 306.1L55.2 327.8M55 306.1L56.1 327.8M55 306.1L57 327.8"/><path class="fb" d="M60 306.1L57 327.8M60 306.1L57.8 327.8M60 306.1L58.5 327.8M60 306.1L59.2 327.8M60 306.1L60 327.8M60 306.1L60.8 327.8M60 306.1L61.5 327.8M60 306.1L62.2 327.8M60 306.1L63 327.8"/><path class="fb" d="M66 306.1L63 327.8M66 306.1L63.9 327.8M66 306.1L64.8 327.8M66 306.1L65.6 327.8M66 306.1L66.5 327.8M66 306.1L67.4 327.8M66 306.1L68.2 327.8M66 306.1L69.1 327.8M66 306.1L70 327.8"/><path class="fa" d="M75 306.1L66 327.8M75 306.1L66.9 327.8M75 306.1L67.8 327.8M75 306.1L68.6 327.8M75 306.1L69.5 327.8M75 306.1L70.4 327.8M75 306.1L71.3 327.8M75 306.1L72.2 327.8M75 306.1L73.1 327.8M75 306.1L73.9 327.8M75 306.1L74.8 327.8M75 306.1L75.7 327.8M75 306.1L76.6 327.8M75 306.1L77.5 327.8M75 306.1L78.4 327.8M75 306.1L79.2 327.8M75 306.1L80.1 327.8M75 306.1L81 327.8"/><path class="fb" d="M145 306.1L140 327.8M145 306.1L141.1 327.8M145 306.1L142.2 327.8M145 306.1L143.3 327.8M145 306.1L144.4 327.8M145 306.1L145.6 327.8M145 306.1L146.7 327.8M145 306.1L147.8 327.8M145 306.1L148.9 327.8M145 306.1L150 327.8"/><path class="fb" d="M155 306.1L150 327.8M155 306.1L151.3 327.8M155 306.1L152.7 327.8M155 306.1L154 327.8M155 306.1L155.3 327.8M155 306.1L156.7 327.8M155 306.1L158 327.8M155 306.1L159.3 327.8M155 306.1L160.7 327.8M155 306.1L162 327.8"/><path class="fa" d="M180 306.1L176 327.8M180 306.1L176.8 327.8M180 306.1L177.6 327.8M180 306.1L178.5 327.8M180 306.1L179.3 327.8M180 306.1L180.1 327.8M180 306.1L180.9 327.8M180 306.1L181.7 327.8M180 306.1L182.5 327.8M180 306.1L183.4 327.8M180 306.1L184.2 327.8M180 306.1L185 327.8"/><path class="fa" d="M187 306.1L183 327.8M187 306.1L183.8 327.8M187 306.1L184.6 327.8M187 306.1L185.5 327.8M187 306.1L186.3 327.8M187 306.1L187.1 327.8M187 306.1L187.9 327.8M187 306.1L188.7 327.8M187 306.1L189.5 327.8M187 306.1L190.4 327.8M187 306.1L191.2 327.8M187 306.1L192 327.8"/><path class="fa" d="M194 306.1L190 327.8M194 306.1L190.8 327.8M194 306.1L191.6 327.8M194 306.1L192.5 327.8M194 306.1L193.3 327.8M194 306.1L194.1 327.8M194 306.1L194.9 327.8M194 306.1L195.7 327.8M194 306.1L196.5 327.8M194 306.1L197.4 327.8M194 306.1L198.2 327.8M194 306.1L199 327.8"/><path class="fa" d="M201 306.1L197 327.8M201 306.1L197.8 327.8M201 306.1L198.6 327.8M201 306.1L199.5 327.8M201 306.1L200.3 327.8M201 306.1L201.1 327.8M201 306.1L201.9 327.8M201 306.1L202.7 327.8M201 306.1L203.5 327.8M201 306.1L204.4 327.8M201 306.1L205.2 327.8M201 306.1L206 327.8"/><path class="fa" d="M196 327.8L192.5 349.4M196 327.8L193.6 349.4M196 327.8L194.6 349.4M196 327.8L195.7 349.4M196 327.8L196.8 349.4M196 327.8L197.9 349.4M196 327.8L198.9 349.4M196 327.8L200 349.4"/><path class="fa" d="M196.5 349.4L191 371M196.5 349.4L192 371M196.5 349.4L193 371M196.5 349.4L194 371M196.5 349.4L195 371M196.5 349.4L196 371M196.5 349.4L197 371M196.5 349.4L198 371M196.5 349.4L199 371M196.5 349.4L200 371M196.5 349.4L201 371M196.5 349.4L202 371M196.5 349.4L203 371M196.5 349.4L204 371"/><path class="fa" d="M194 349.4L191 371M194 349.4L192.2 371M194 349.4L193.4 371M194 349.4L194.6 371M194 349.4L195.8 371M194 349.4L197 371"/>
<use href="#nc" x="48.4" y="219.8"/>
<rect x="0.8" y="239.2" width="13.2" height="4.2" rx="2.1" fill="#e29a00" stroke="#1e1e1e" stroke-opacity=".85" stroke-width=".7"/>
<path d="M4.5 239.2a2.1 2.1 0 0 0 0 4.2M6.7 239.2a2.1 2.1 0 0 0 0 4.2M9.8 239.2a2.1 2.1 0 0 0 0 4.2M11.9 239.2a2.1 2.1 0 0 0 0 4.2" fill="none" stroke="#262626" stroke-opacity=".62" stroke-width=".55"/>
<rect x="25" y="239.2" width="8" height="4.2" rx="2.1" fill="#e29a00" stroke="#1e1e1e" stroke-opacity=".85" stroke-width=".7"/>
<path d="M28.9 239.2a2.1 2.1 0 0 0 0 4.2M30.3 239.2a2.1 2.1 0 0 0 0 4.2M32.5 239.2a2.1 2.1 0 0 0 0 4.2" fill="none" stroke="#262626" stroke-opacity=".62" stroke-width=".55"/>
<use href="#nc" x="42.2" y="241.3"/>
<use href="#nc" x="90" y="241.3"/>
<use href="#nc" x="93.2" y="241.3"/>
<use href="#nc" x="97.2" y="241.3"/>
<use href="#nc" x="101" y="241.3"/>
<use href="#nc" x="109.4" y="241.3"/>
<use href="#nc" x="123" y="241.3"/>
<use href="#nc" x="152" y="241.3"/>
<use href="#nc" x="180.5" y="241.3"/>
<use href="#nc" x="12" y="262.9"/>
<rect x="25.2" y="260.8" width="6.8" height="4.2" rx="2.1" fill="#e29a00" stroke="#1e1e1e" stroke-opacity=".85" stroke-width=".7"/>
<path d="M29.4 260.8a2.1 2.1 0 0 0 0 4.2M30.4 260.8a2.1 2.1 0 0 0 0 4.2" fill="none" stroke="#262626" stroke-opacity=".62" stroke-width=".55"/>
<use href="#nc" x="42" y="262.9"/>
<use href="#nc" x="91.1" y="262.9"/>
<use href="#nc" x="93.8" y="262.9"/>
<use href="#nc" x="96.5" y="262.9"/>
<use href="#nc" x="99.2" y="262.9"/>
<use href="#nc" x="101.9" y="262.9"/>
<use href="#nc" x="109.1" y="262.9"/>
<use href="#nc" x="111.2" y="262.9"/>
<use href="#nc" x="113.4" y="262.9"/>
<use href="#nc" x="122.5" y="262.9"/>
<rect x="142" y="260.8" width="8" height="4.2" rx="2.1" fill="#e29a00" stroke="#1e1e1e" stroke-opacity=".85" stroke-width=".7"/>
<path d="M145.1 260.8a2.1 2.1 0 0 0 0 4.2M147.3 260.8a2.1 2.1 0 0 0 0 4.2M149.4 260.8a2.1 2.1 0 0 0 0 4.2" fill="none" stroke="#262626" stroke-opacity=".62" stroke-width=".55"/>
<use href="#nc" x="161" y="262.9"/>
<rect x="172" y="260.8" width="15" height="4.2" rx="2.1" fill="#e29a00" stroke="#1e1e1e" stroke-opacity=".85" stroke-width=".7"/>
<path d="M176.6 260.8a2.1 2.1 0 0 0 0 4.2M179.7 260.8a2.1 2.1 0 0 0 0 4.2M182.2 260.8a2.1 2.1 0 0 0 0 4.2M184.6 260.8a2.1 2.1 0 0 0 0 4.2M186 260.8a2.1 2.1 0 0 0 0 4.2" fill="none" stroke="#262626" stroke-opacity=".62" stroke-width=".55"/>
<use href="#nc" x="193.5" y="262.9"/>
<rect x="1.2" y="282.4" width="37.8" height="4.2" rx="2.1" fill="#e29a00" stroke="#1e1e1e" stroke-opacity=".85" stroke-width=".7"/>
<path d="M5 282.4a2.1 2.1 0 0 0 0 4.2M6.1 282.4a2.1 2.1 0 0 0 0 4.2M7.6 282.4a2.1 2.1 0 0 0 0 4.2M9.1 282.4a2.1 2.1 0 0 0 0 4.2M10.2 282.4a2.1 2.1 0 0 0 0 4.2M12.2 282.4a2.1 2.1 0 0 0 0 4.2M14.2 282.4a2.1 2.1 0 0 0 0 4.2M17.1 282.4a2.1 2.1 0 0 0 0 4.2M19.3 282.4a2.1 2.1 0 0 0 0 4.2M21.7 282.4a2.1 2.1 0 0 0 0 4.2M23.8 282.4a2.1 2.1 0 0 0 0 4.2M26.3 282.4a2.1 2.1 0 0 0 0 4.2M28.4 282.4a2.1 2.1 0 0 0 0 4.2M30 282.4a2.1 2.1 0 0 0 0 4.2M33.2 282.4a2.1 2.1 0 0 0 0 4.2M36.5 282.4a2.1 2.1 0 0 0 0 4.2" fill="none" stroke="#262626" stroke-opacity=".62" stroke-width=".55"/>
<use href="#nc" x="50" y="284.6"/>
<use href="#nc" x="82" y="284.6"/>
<rect x="89.5" y="282.4" width="14.5" height="4.2" rx="2.1" fill="#e29a00" stroke="#1e1e1e" stroke-opacity=".85" stroke-width=".7"/>
<path d="M93.6 282.4a2.1 2.1 0 0 0 0 4.2M95 282.4a2.1 2.1 0 0 0 0 4.2M96.2 282.4a2.1 2.1 0 0 0 0 4.2M97.5 282.4a2.1 2.1 0 0 0 0 4.2M98.4 282.4a2.1 2.1 0 0 0 0 4.2M100.6 282.4a2.1 2.1 0 0 0 0 4.2M102.1 282.4a2.1 2.1 0 0 0 0 4.2" fill="none" stroke="#262626" stroke-opacity=".62" stroke-width=".55"/>
<rect x="106" y="282.4" width="21" height="4.2" rx="2.1" fill="#e29a00" stroke="#1e1e1e" stroke-opacity=".85" stroke-width=".7"/>
<path d="M109.6 282.4a2.1 2.1 0 0 0 0 4.2M112.1 282.4a2.1 2.1 0 0 0 0 4.2M114.4 282.4a2.1 2.1 0 0 0 0 4.2M115.2 282.4a2.1 2.1 0 0 0 0 4.2M116.4 282.4a2.1 2.1 0 0 0 0 4.2M118.8 282.4a2.1 2.1 0 0 0 0 4.2M120.5 282.4a2.1 2.1 0 0 0 0 4.2M123 282.4a2.1 2.1 0 0 0 0 4.2M124.5 282.4a2.1 2.1 0 0 0 0 4.2M125.5 282.4a2.1 2.1 0 0 0 0 4.2" fill="none" stroke="#262626" stroke-opacity=".62" stroke-width=".55"/>
<rect x="137" y="282.4" width="13" height="4.2" rx="2.1" fill="#e29a00" stroke="#1e1e1e" stroke-opacity=".85" stroke-width=".7"/>
<path d="M141.2 282.4a2.1 2.1 0 0 0 0 4.2M142.8 282.4a2.1 2.1 0 0 0 0 4.2M144 282.4a2.1 2.1 0 0 0 0 4.2M145.8 282.4a2.1 2.1 0 0 0 0 4.2M148.9 282.4a2.1 2.1 0 0 0 0 4.2" fill="none" stroke="#262626" stroke-opacity=".62" stroke-width=".55"/>
<rect x="159" y="282.4" width="41" height="4.2" rx="2.1" fill="#e29a00" stroke="#1e1e1e" stroke-opacity=".85" stroke-width=".7"/>
<path d="M162.1 282.4a2.1 2.1 0 0 0 0 4.2M163.3 282.4a2.1 2.1 0 0 0 0 4.2M164.3 282.4a2.1 2.1 0 0 0 0 4.2M165.2 282.4a2.1 2.1 0 0 0 0 4.2M167.5 282.4a2.1 2.1 0 0 0 0 4.2M168.6 282.4a2.1 2.1 0 0 0 0 4.2M170.4 282.4a2.1 2.1 0 0 0 0 4.2M172 282.4a2.1 2.1 0 0 0 0 4.2M173.1 282.4a2.1 2.1 0 0 0 0 4.2M175.3 282.4a2.1 2.1 0 0 0 0 4.2M176.3 282.4a2.1 2.1 0 0 0 0 4.2M178.3 282.4a2.1 2.1 0 0 0 0 4.2M179.3 282.4a2.1 2.1 0 0 0 0 4.2M180.8 282.4a2.1 2.1 0 0 0 0 4.2M182 282.4a2.1 2.1 0 0 0 0 4.2M183.3 282.4a2.1 2.1 0 0 0 0 4.2M185.8 282.4a2.1 2.1 0 0 0 0 4.2M188.1 282.4a2.1 2.1 0 0 0 0 4.2M189.4 282.4a2.1 2.1 0 0 0 0 4.2M191.8 282.4a2.1 2.1 0 0 0 0 4.2M193 282.4a2.1 2.1 0 0 0 0 4.2M194.5 282.4a2.1 2.1 0 0 0 0 4.2M196.9 282.4a2.1 2.1 0 0 0 0 4.2M198.8 282.4a2.1 2.1 0 0 0 0 4.2" fill="none" stroke="#262626" stroke-opacity=".62" stroke-width=".55"/>
<use href="#nc" x="211" y="284.6"/>
<rect x="16" y="304" width="16.5" height="4.2" rx="2.1" fill="#e29a00" stroke="#1e1e1e" stroke-opacity=".85" stroke-width=".7"/>
<path d="M20.6 304a2.1 2.1 0 0 0 0 4.2M21.8 304a2.1 2.1 0 0 0 0 4.2M23 304a2.1 2.1 0 0 0 0 4.2M25.2 304a2.1 2.1 0 0 0 0 4.2M26.6 304a2.1 2.1 0 0 0 0 4.2M27.9 304a2.1 2.1 0 0 0 0 4.2M28.9 304a2.1 2.1 0 0 0 0 4.2M29.8 304a2.1 2.1 0 0 0 0 4.2M31.7 304a2.1 2.1 0 0 0 0 4.2" fill="none" stroke="#262626" stroke-opacity=".62" stroke-width=".55"/>
<rect x="34.5" y="304" width="16.5" height="4.2" rx="2.1" fill="#e29a00" stroke="#1e1e1e" stroke-opacity=".85" stroke-width=".7"/>
<path d="M38.4 304a2.1 2.1 0 0 0 0 4.2M39.9 304a2.1 2.1 0 0 0 0 4.2M41.5 304a2.1 2.1 0 0 0 0 4.2M44 304a2.1 2.1 0 0 0 0 4.2M45.7 304a2.1 2.1 0 0 0 0 4.2M47.5 304a2.1 2.1 0 0 0 0 4.2M49.9 304a2.1 2.1 0 0 0 0 4.2" fill="none" stroke="#262626" stroke-opacity=".62" stroke-width=".55"/>
<use href="#nc" x="55" y="306.1"/>
<use href="#nc" x="60" y="306.1"/>
<use href="#nc" x="66" y="306.1"/>
<rect x="74" y="304" width="18.5" height="4.2" rx="2.1" fill="#e29a00" stroke="#1e1e1e" stroke-opacity=".85" stroke-width=".7"/>
<path d="M77.2 304a2.1 2.1 0 0 0 0 4.2M79.6 304a2.1 2.1 0 0 0 0 4.2M81.9 304a2.1 2.1 0 0 0 0 4.2M83.1 304a2.1 2.1 0 0 0 0 4.2M84.3 304a2.1 2.1 0 0 0 0 4.2M86.4 304a2.1 2.1 0 0 0 0 4.2M88.9 304a2.1 2.1 0 0 0 0 4.2M90 304a2.1 2.1 0 0 0 0 4.2" fill="none" stroke="#262626" stroke-opacity=".62" stroke-width=".55"/>
<rect x="94.5" y="304" width="20" height="4.2" rx="2.1" fill="#e29a00" stroke="#1e1e1e" stroke-opacity=".85" stroke-width=".7"/>
<path d="M98.9 304a2.1 2.1 0 0 0 0 4.2M100.8 304a2.1 2.1 0 0 0 0 4.2M102.3 304a2.1 2.1 0 0 0 0 4.2M103.3 304a2.1 2.1 0 0 0 0 4.2M104.2 304a2.1 2.1 0 0 0 0 4.2M106.7 304a2.1 2.1 0 0 0 0 4.2M108 304a2.1 2.1 0 0 0 0 4.2M110 304a2.1 2.1 0 0 0 0 4.2M111.3 304a2.1 2.1 0 0 0 0 4.2M113.6 304a2.1 2.1 0 0 0 0 4.2" fill="none" stroke="#262626" stroke-opacity=".62" stroke-width=".55"/>
<rect x="119" y="304" width="45" height="4.2" rx="2.1" fill="#e29a00" stroke="#1e1e1e" stroke-opacity=".85" stroke-width=".7"/>
<path d="M122.4 304a2.1 2.1 0 0 0 0 4.2M123.5 304a2.1 2.1 0 0 0 0 4.2M125.6 304a2.1 2.1 0 0 0 0 4.2M126.5 304a2.1 2.1 0 0 0 0 4.2M127.7 304a2.1 2.1 0 0 0 0 4.2M129.6 304a2.1 2.1 0 0 0 0 4.2M131.9 304a2.1 2.1 0 0 0 0 4.2M133.8 304a2.1 2.1 0 0 0 0 4.2M135.1 304a2.1 2.1 0 0 0 0 4.2M137.5 304a2.1 2.1 0 0 0 0 4.2M138.7 304a2.1 2.1 0 0 0 0 4.2M139.5 304a2.1 2.1 0 0 0 0 4.2M140.8 304a2.1 2.1 0 0 0 0 4.2M142.4 304a2.1 2.1 0 0 0 0 4.2M143.3 304a2.1 2.1 0 0 0 0 4.2M144.5 304a2.1 2.1 0 0 0 0 4.2M145.9 304a2.1 2.1 0 0 0 0 4.2M147.8 304a2.1 2.1 0 0 0 0 4.2M148.8 304a2.1 2.1 0 0 0 0 4.2M150.2 304a2.1 2.1 0 0 0 0 4.2M152.6 304a2.1 2.1 0 0 0 0 4.2M155.2 304a2.1 2.1 0 0 0 0 4.2M157.2 304a2.1 2.1 0 0 0 0 4.2M159.2 304a2.1 2.1 0 0 0 0 4.2M161.1 304a2.1 2.1 0 0 0 0 4.2M162.1 304a2.1 2.1 0 0 0 0 4.2M163 304a2.1 2.1 0 0 0 0 4.2" fill="none" stroke="#262626" stroke-opacity=".62" stroke-width=".55"/>
<rect x="170.5" y="304" width="49" height="4.2" rx="2.1" fill="#e29a00" stroke="#1e1e1e" stroke-opacity=".85" stroke-width=".7"/>
<path d="M174.9 304a2.1 2.1 0 0 0 0 4.2M177 304a2.1 2.1 0 0 0 0 4.2M179.5 304a2.1 2.1 0 0 0 0 4.2M180.4 304a2.1 2.1 0 0 0 0 4.2M182.3 304a2.1 2.1 0 0 0 0 4.2M184 304a2.1 2.1 0 0 0 0 4.2M186.1 304a2.1 2.1 0 0 0 0 4.2M187.5 304a2.1 2.1 0 0 0 0 4.2M190.1 304a2.1 2.1 0 0 0 0 4.2M191 304a2.1 2.1 0 0 0 0 4.2M192.8 304a2.1 2.1 0 0 0 0 4.2M194.9 304a2.1 2.1 0 0 0 0 4.2M197.3 304a2.1 2.1 0 0 0 0 4.2M199.5 304a2.1 2.1 0 0 0 0 4.2M201.5 304a2.1 2.1 0 0 0 0 4.2M203.8 304a2.1 2.1 0 0 0 0 4.2M206.2 304a2.1 2.1 0 0 0 0 4.2M207.6 304a2.1 2.1 0 0 0 0 4.2M209.7 304a2.1 2.1 0 0 0 0 4.2M212.1 304a2.1 2.1 0 0 0 0 4.2M214.5 304a2.1 2.1 0 0 0 0 4.2M216 304a2.1 2.1 0 0 0 0 4.2M218.2 304a2.1 2.1 0 0 0 0 4.2" fill="none" stroke="#262626" stroke-opacity=".62" stroke-width=".55"/>
<use href="#nc" x="19.5" y="327.8"/>
<rect x="24" y="325.6" width="9" height="4.2" rx="2.1" fill="#e29a00" stroke="#1e1e1e" stroke-opacity=".85" stroke-width=".7"/>
<path d="M27.9 325.6a2.1 2.1 0 0 0 0 4.2M29.8 325.6a2.1 2.1 0 0 0 0 4.2M31.3 325.6a2.1 2.1 0 0 0 0 4.2" fill="none" stroke="#262626" stroke-opacity=".62" stroke-width=".55"/>
<rect x="46" y="325.6" width="35" height="4.2" rx="2.1" fill="#e29a00" stroke="#1e1e1e" stroke-opacity=".85" stroke-width=".7"/>
<path d="M49.9 325.6a2.1 2.1 0 0 0 0 4.2M50.9 325.6a2.1 2.1 0 0 0 0 4.2M52.8 325.6a2.1 2.1 0 0 0 0 4.2M55.4 325.6a2.1 2.1 0 0 0 0 4.2M57.8 325.6a2.1 2.1 0 0 0 0 4.2M59.9 325.6a2.1 2.1 0 0 0 0 4.2M61.4 325.6a2.1 2.1 0 0 0 0 4.2M63.5 325.6a2.1 2.1 0 0 0 0 4.2M65.4 325.6a2.1 2.1 0 0 0 0 4.2M67 325.6a2.1 2.1 0 0 0 0 4.2M69.3 325.6a2.1 2.1 0 0 0 0 4.2M70.2 325.6a2.1 2.1 0 0 0 0 4.2M72.4 325.6a2.1 2.1 0 0 0 0 4.2M73.2 325.6a2.1 2.1 0 0 0 0 4.2M75.1 325.6a2.1 2.1 0 0 0 0 4.2M76.8 325.6a2.1 2.1 0 0 0 0 4.2M78 325.6a2.1 2.1 0 0 0 0 4.2M80.1 325.6a2.1 2.1 0 0 0 0 4.2" fill="none" stroke="#262626" stroke-opacity=".62" stroke-width=".55"/>
<rect x="85" y="325.6" width="9" height="4.2" rx="2.1" fill="#e29a00" stroke="#1e1e1e" stroke-opacity=".85" stroke-width=".7"/>
<path d="M88.9 325.6a2.1 2.1 0 0 0 0 4.2M91.4 325.6a2.1 2.1 0 0 0 0 4.2M92.7 325.6a2.1 2.1 0 0 0 0 4.2M93.5 325.6a2.1 2.1 0 0 0 0 4.2" fill="none" stroke="#262626" stroke-opacity=".62" stroke-width=".55"/>
<rect x="101" y="325.6" width="14.5" height="4.2" rx="2.1" fill="#e29a00" stroke="#1e1e1e" stroke-opacity=".85" stroke-width=".7"/>
<path d="M105.1 325.6a2.1 2.1 0 0 0 0 4.2M106.2 325.6a2.1 2.1 0 0 0 0 4.2M107.3 325.6a2.1 2.1 0 0 0 0 4.2M109.8 325.6a2.1 2.1 0 0 0 0 4.2M111.7 325.6a2.1 2.1 0 0 0 0 4.2M113.3 325.6a2.1 2.1 0 0 0 0 4.2" fill="none" stroke="#262626" stroke-opacity=".62" stroke-width=".55"/>
<use href="#nc" x="129" y="327.8"/>
<rect x="140" y="325.6" width="22.5" height="4.2" rx="2.1" fill="#e29a00" stroke="#1e1e1e" stroke-opacity=".85" stroke-width=".7"/>
<path d="M143.5 325.6a2.1 2.1 0 0 0 0 4.2M145.5 325.6a2.1 2.1 0 0 0 0 4.2M146.6 325.6a2.1 2.1 0 0 0 0 4.2M148.2 325.6a2.1 2.1 0 0 0 0 4.2M150.4 325.6a2.1 2.1 0 0 0 0 4.2M152.9 325.6a2.1 2.1 0 0 0 0 4.2M155.3 325.6a2.1 2.1 0 0 0 0 4.2M156.8 325.6a2.1 2.1 0 0 0 0 4.2M158.6 325.6a2.1 2.1 0 0 0 0 4.2M160 325.6a2.1 2.1 0 0 0 0 4.2M161 325.6a2.1 2.1 0 0 0 0 4.2" fill="none" stroke="#262626" stroke-opacity=".62" stroke-width=".55"/>
<rect x="176" y="325.6" width="30" height="4.2" rx="2.1" fill="#e29a00" stroke="#1e1e1e" stroke-opacity=".85" stroke-width=".7"/>
<path d="M180.3 325.6a2.1 2.1 0 0 0 0 4.2M182.7 325.6a2.1 2.1 0 0 0 0 4.2M184.7 325.6a2.1 2.1 0 0 0 0 4.2M187.2 325.6a2.1 2.1 0 0 0 0 4.2M188.5 325.6a2.1 2.1 0 0 0 0 4.2M189.6 325.6a2.1 2.1 0 0 0 0 4.2M191.3 325.6a2.1 2.1 0 0 0 0 4.2M192.6 325.6a2.1 2.1 0 0 0 0 4.2M193.7 325.6a2.1 2.1 0 0 0 0 4.2M195.3 325.6a2.1 2.1 0 0 0 0 4.2M197.2 325.6a2.1 2.1 0 0 0 0 4.2M198.9 325.6a2.1 2.1 0 0 0 0 4.2M200.3 325.6a2.1 2.1 0 0 0 0 4.2M202.6 325.6a2.1 2.1 0 0 0 0 4.2M205.1 325.6a2.1 2.1 0 0 0 0 4.2" fill="none" stroke="#262626" stroke-opacity=".62" stroke-width=".55"/>
<rect x="212.5" y="325.6" width="6.5" height="4.2" rx="2.1" fill="#e29a00" stroke="#1e1e1e" stroke-opacity=".85" stroke-width=".7"/>
<path d="M215.5 325.6a2.1 2.1 0 0 0 0 4.2M216.4 325.6a2.1 2.1 0 0 0 0 4.2" fill="none" stroke="#262626" stroke-opacity=".62" stroke-width=".55"/>
<rect x="24" y="347.2" width="4" height="4.2" rx="2.1" fill="#e29a00" stroke="#1e1e1e" stroke-opacity=".85" stroke-width=".7"/>
<path d="M27 347.2a2.1 2.1 0 0 0 0 4.2" fill="none" stroke="#262626" stroke-opacity=".62" stroke-width=".55"/>
<use href="#nc" x="32.5" y="349.4"/>
<use href="#nc" x="47.5" y="349.4"/>
<use href="#nc" x="52.5" y="349.4"/>
<use href="#nc" x="62.5" y="349.4"/>
<rect x="65.5" y="347.2" width="7" height="4.2" rx="2.1" fill="#e29a00" stroke="#1e1e1e" stroke-opacity=".85" stroke-width=".7"/>
<path d="M69.4 347.2a2.1 2.1 0 0 0 0 4.2M70.7 347.2a2.1 2.1 0 0 0 0 4.2" fill="none" stroke="#262626" stroke-opacity=".62" stroke-width=".55"/>
<rect x="74.5" y="347.2" width="6.5" height="4.2" rx="2.1" fill="#e29a00" stroke="#1e1e1e" stroke-opacity=".85" stroke-width=".7"/>
<path d="M77.4 347.2a2.1 2.1 0 0 0 0 4.2M78.5 347.2a2.1 2.1 0 0 0 0 4.2M80.1 347.2a2.1 2.1 0 0 0 0 4.2" fill="none" stroke="#262626" stroke-opacity=".62" stroke-width=".55"/>
<rect x="89" y="347.2" width="5.5" height="4.2" rx="2.1" fill="#e29a00" stroke="#1e1e1e" stroke-opacity=".85" stroke-width=".7"/>
<path d="M93.3 347.2a2.1 2.1 0 0 0 0 4.2" fill="none" stroke="#262626" stroke-opacity=".62" stroke-width=".55"/>
<rect x="105.5" y="347.2" width="10.5" height="4.2" rx="2.1" fill="#e29a00" stroke="#1e1e1e" stroke-opacity=".85" stroke-width=".7"/>
<path d="M108.6 347.2a2.1 2.1 0 0 0 0 4.2M109.5 347.2a2.1 2.1 0 0 0 0 4.2M111.5 347.2a2.1 2.1 0 0 0 0 4.2M113.1 347.2a2.1 2.1 0 0 0 0 4.2M115 347.2a2.1 2.1 0 0 0 0 4.2" fill="none" stroke="#262626" stroke-opacity=".62" stroke-width=".55"/>
<use href="#nc" x="144.5" y="349.4"/>
<use href="#nc" x="148" y="349.4"/>
<rect x="150" y="347.2" width="5" height="4.2" rx="2.1" fill="#e29a00" stroke="#1e1e1e" stroke-opacity=".85" stroke-width=".7"/>
<path d="M154.3 347.2a2.1 2.1 0 0 0 0 4.2" fill="none" stroke="#262626" stroke-opacity=".62" stroke-width=".55"/>
<use href="#nc" x="161" y="349.4"/>
<use href="#nc" x="183" y="349.4"/>
<rect x="192.5" y="347.2" width="7.5" height="4.2" rx="2.1" fill="#e29a00" stroke="#1e1e1e" stroke-opacity=".85" stroke-width=".7"/>
<path d="M196.6 347.2a2.1 2.1 0 0 0 0 4.2M197.7 347.2a2.1 2.1 0 0 0 0 4.2M199.4 347.2a2.1 2.1 0 0 0 0 4.2" fill="none" stroke="#262626" stroke-opacity=".62" stroke-width=".55"/>
<use href="#nc" x="53" y="371"/>
<rect x="89.3" y="368.9" width="5.2" height="4.2" rx="2.1" fill="#e29a00" stroke="#1e1e1e" stroke-opacity=".85" stroke-width=".7"/>
<path d="M92.2 368.9a2.1 2.1 0 0 0 0 4.2M93.9 368.9a2.1 2.1 0 0 0 0 4.2" fill="none" stroke="#262626" stroke-opacity=".62" stroke-width=".55"/>
<use href="#nc" x="108" y="371"/>
<rect x="191" y="368.9" width="13" height="4.2" rx="2.1" fill="#e29a00" stroke="#1e1e1e" stroke-opacity=".85" stroke-width=".7"/>
<path d="M194.2 368.9a2.1 2.1 0 0 0 0 4.2M195.5 368.9a2.1 2.1 0 0 0 0 4.2M196.9 368.9a2.1 2.1 0 0 0 0 4.2M199 368.9a2.1 2.1 0 0 0 0 4.2M200.7 368.9a2.1 2.1 0 0 0 0 4.2M202.6 368.9a2.1 2.1 0 0 0 0 4.2" fill="none" stroke="#262626" stroke-opacity=".62" stroke-width=".55"/>
<rect x="191" y="390.4" width="5.5" height="4.2" rx="2.1" fill="#e29a00" stroke="#1e1e1e" stroke-opacity=".85" stroke-width=".7"/>
<path d="M194.6 390.4a2.1 2.1 0 0 0 0 4.2" fill="none" stroke="#262626" stroke-opacity=".62" stroke-width=".55"/>
<rect x="198.5" y="390.4" width="5.5" height="4.2" rx="2.1" fill="#e29a00" stroke="#1e1e1e" stroke-opacity=".85" stroke-width=".7"/>
<path d="M202.9 390.4a2.1 2.1 0 0 0 0 4.2" fill="none" stroke="#262626" stroke-opacity=".62" stroke-width=".55"/>
<rect x="190.8" y="412" width="5" height="4.2" rx="2.1" fill="#e29a00" stroke="#1e1e1e" stroke-opacity=".85" stroke-width=".7"/>
<path d="M195.3 412a2.1 2.1 0 0 0 0 4.2" fill="none" stroke="#262626" stroke-opacity=".62" stroke-width=".55"/>
<rect x="190.6" y="433.6" width="4.8" height="4.2" rx="2.1" fill="#e29a00" stroke="#1e1e1e" stroke-opacity=".85" stroke-width=".7"/>
<path d="M193.7 433.6a2.1 2.1 0 0 0 0 4.2" fill="none" stroke="#262626" stroke-opacity=".62" stroke-width=".55"/>
</g>
<g id="pe">
<path class="e5" d="M114.4 472.9L188.8 487.1"/><path class="e5" d="M128.5 487.1L127.9 501.3"/><path class="e5" d="M127.9 501.3L168.6 515.6"/><path class="e5" d="M187.3 487.1L187.3 501.3"/><path class="e5" d="M187.3 501.3L187.3 515.6"/><path class="e5" d="M190.4 487.1L190.4 501.3"/><path class="e5" d="M190.4 501.3L190.4 515.6"/><path class="e2" d="M123 515.6L19.8 529.8"/><path class="e2" d="M123 515.6L45.8 529.8"/><path class="e2" d="M123 515.6L57.7 529.8"/><path class="e2" d="M123 515.6L72.7 529.8"/><path class="e2" d="M123 515.6L96.6 529.8"/><path class="e2" d="M123 515.6L100.7 529.8"/><path class="e2" d="M123 515.6L105.8 529.8"/><path class="e2" d="M123 515.6L128.7 529.8"/><path class="e2" d="M123 515.6L135.2 529.8"/><path class="e2" d="M123 515.6L137.5 529.8"/><path class="e2" d="M123 515.6L139.8 529.8"/><path class="e2" d="M123 515.6L148.8 529.8"/><path class="e2" d="M123 515.6L166 529.8"/><path class="e2" d="M123 515.6L168 529.8"/><path class="e2" d="M123 515.6L170 529.8"/><path class="e2" d="M123 515.6L175 529.8"/><path class="e2" d="M123 515.6L180 529.8"/><path class="e2" d="M168.6 515.6L19.8 529.8"/><path class="e2" d="M168.6 515.6L45.8 529.8"/><path class="e2" d="M168.6 515.6L57.7 529.8"/><path class="e2" d="M168.6 515.6L72.7 529.8"/><path class="e2" d="M168.6 515.6L96.6 529.8"/><path class="e2" d="M168.6 515.6L105.8 529.8"/><path class="e2" d="M168.6 515.6L128.7 529.8"/><path class="e2" d="M168.6 515.6L137.5 529.8"/><path class="e2" d="M168.6 515.6L148.8 529.8"/><path class="e2" d="M168.6 515.6L166 529.8"/><path class="e2" d="M168.6 515.6L168 529.8"/><path class="e2" d="M168.6 515.6L170 529.8"/><path class="e2" d="M168.6 515.6L175 529.8"/><path class="e2" d="M168.6 515.6L180 529.8"/><path class="e2" d="M168.6 515.6L185 529.8"/><path class="e6" d="M188.8 515.6L166.5 529.8"/><path class="e6" d="M188.8 515.6L168.5 529.8"/><path class="e6" d="M188.8 515.6L170 529.8"/><path class="e6" d="M188.8 515.6L175 529.8"/><path class="e6" d="M188.8 515.6L180 529.8"/><path class="e6" d="M188.8 515.6L183 529.8"/><path class="e6" d="M188.8 515.6L194.5 529.8"/><path class="e6" d="M188.8 515.6L197 529.8"/><path class="e6" d="M188.8 515.6L199.5 529.8"/><path class="e6" d="M188.8 515.6L201.5 529.8"/><path class="e" d="M123 515.6L28 544"/><path class="e" d="M123 515.6L34 544"/><path class="e" d="M123 515.6L41.7 544"/><path class="e" d="M123 515.6L85.4 544"/><path class="e" d="M123 515.6L90.6 544"/><path class="e" d="M123 515.6L148.8 544"/><path class="e" d="M123 515.6L175 544"/><path class="e5" d="M19.8 529.8L20.5 544"/><path class="e2" d="M45.8 529.8L19.5 544"/><path class="e2" d="M45.8 529.8L21.5 544"/><path class="e2" d="M45.8 529.8L28 544"/><path class="e2" d="M45.8 529.8L34 544"/><path class="e2" d="M45.8 529.8L38 544"/><path class="e2" d="M45.8 529.8L41.7 544"/><path class="e2" d="M45.8 529.8L46 544"/><path class="e2" d="M45.8 529.8L48 544"/><path class="e2" d="M45.8 529.8L50 544"/><path class="e2" d="M45.8 529.8L56 544"/><path class="e2" d="M45.8 529.8L60 544"/><path class="e2" d="M72.7 529.8L85.4 544"/><path class="e4" d="M108.8 529.8L108.8 544M110 529.8L110 544M111.3 529.8L111.3 544M112.5 529.8L112.5 544M113.8 529.8L113.8 544M115 529.8L115 544M116.2 529.8L116.2 544M117.5 529.8L117.5 544M118.7 529.8L118.7 544"/><path class="e5" d="M148.8 529.8L148.8 544"/><path class="e4" d="M165.7 529.8L165.7 544M167 529.8L167 544M168.3 529.8L168.3 544M169.7 529.8L169.7 544M171 529.8L171 544"/><path class="e5" d="M175 529.8L175 544"/><path class="e5" d="M180 529.8L180 544"/><path class="e4" d="M182.3 529.8L182.3 544M183.5 529.8L183.5 544M184.8 529.8L184.8 544M186 529.8L186 544M187.2 529.8L187.2 544M188.5 529.8L188.5 544M189.7 529.8L189.7 544M190.9 529.8L190.9 544M192.2 529.8L192.2 544M193.4 529.8L193.4 544M194.6 529.8L194.6 544M195.8 529.8L195.8 544M197.1 529.8L197.1 544M198.3 529.8L198.3 544M199.5 529.8L199.5 544M200.8 529.8L200.8 544M202 529.8L202 544"/><path class="e5" d="M28 544L28.3 558.2"/><path class="e5" d="M34 544L34.3 558.2"/><path class="e5" d="M38 544L38.3 558.2"/><path class="e5" d="M41.7 544L42 558.2"/><path class="e5" d="M28 544L31 558.2"/><path class="e4" d="M45.8 544L45.8 558.2M47 544L47 558.2M48.2 544L48.2 558.2M49.4 544L49.4 558.2M50.6 544L50.6 558.2"/><path class="e4" d="M54.8 544L54.8 558.2M56 544L56 558.2M57.2 544L57.2 558.2M58.5 544L58.5 558.2M59.7 544L59.7 558.2M60.9 544L60.9 558.2M62.1 544L62.1 558.2M63.4 544L63.4 558.2M64.6 544L64.6 558.2M65.8 544L65.8 558.2M67 544L67 558.2M68.3 544L68.3 558.2M69.5 544L69.5 558.2"/><path class="e5" d="M72 544L73 558.2"/><path class="e5" d="M85.4 544L85.4 558.2"/><path class="e5" d="M90.6 544L90.6 558.2"/><path class="e4" d="M165 544L165 558.2M166.2 544L166.2 558.2M167.3 544L167.3 558.2M168.5 544L168.5 558.2M169.7 544L169.7 558.2M170.8 544L170.8 558.2M172 544L172 558.2"/><path class="e4" d="M186 544L186 558.2M187.2 544L187.2 558.2M188.4 544L188.4 558.2M189.7 544L189.7 558.2M190.9 544L190.9 558.2M192.1 544L192.1 558.2M193.3 544L193.3 558.2M194.6 544L194.6 558.2M195.8 544L195.8 558.2M197 544L197 558.2"/><path class="e5" d="M28 558.2L27 572.4"/><path class="e5" d="M31 558.2L31 572.4"/><path class="e5" d="M38.5 558.2L38.5 572.4"/><path class="e5" d="M41.7 558.2L41.7 572.4"/><path class="e5" d="M47 558.2L47 572.4"/><path class="e5" d="M49 558.2L49 572.4"/><path class="e4" d="M46 544L46 572.4M46.8 544L46.8 572.4M47.6 544L47.6 572.4"/><path class="e5" d="M55.2 558.2L55.2 572.4"/><path class="e5" d="M58.8 558.2L58.8 572.4"/><path class="e5" d="M66 558.2L66 572.4"/><path class="e4" d="M80 558.2L80 572.4M81.2 558.2L81.2 572.4M82.4 558.2L82.4 572.4M83.5 558.2L83.5 572.4M84.7 558.2L84.7 572.4M85.9 558.2L85.9 572.4M87.1 558.2L87.1 572.4M88.3 558.2L88.3 572.4M89.5 558.2L89.5 572.4M90.6 558.2L90.6 572.4M91.8 558.2L91.8 572.4M93 558.2L93 572.4M94.2 558.2L94.2 572.4M95.4 558.2L95.4 572.4M96.5 558.2L96.5 572.4M97.7 558.2L97.7 572.4M98.9 558.2L98.9 572.4M100.1 558.2L100.1 572.4M101.3 558.2L101.3 572.4M102.5 558.2L102.5 572.4M103.6 558.2L103.6 572.4M104.8 558.2L104.8 572.4M106 558.2L106 572.4"/><path class="e5" d="M110.5 558.2L110.5 572.4"/><path class="e5" d="M112.5 558.2L112.5 572.4"/><path class="e5" d="M114.5 558.2L114.5 572.4"/><path class="e5" d="M120.5 558.2L120.5 572.4"/><path class="e5" d="M122.5 558.2L122.5 572.4"/><path class="e4" d="M164 558.2L164 572.4M165.2 558.2L165.2 572.4M166.4 558.2L166.4 572.4M167.6 558.2L167.6 572.4M168.9 558.2L168.9 572.4M170.1 558.2L170.1 572.4M171.3 558.2L171.3 572.4M172.5 558.2L172.5 572.4"/><path class="e5" d="M177 558.2L177 572.4"/><path class="e5" d="M179 558.2L179 572.4"/><path class="e5" d="M181 558.2L181 572.4"/><path class="e5" d="M186.5 558.2L186.5 572.4"/><path class="e4" d="M192.7 558.2L192.7 572.4M193.9 558.2L193.9 572.4M195 558.2L195 572.4M196.2 558.2L196.2 572.4M197.4 558.2L197.4 572.4M198.5 558.2L198.5 572.4M199.7 558.2L199.7 572.4M200.8 558.2L200.8 572.4M202 558.2L202 572.4M203.2 558.2L203.2 572.4M204.3 558.2L204.3 572.4M205.5 558.2L205.5 572.4"/><path class="e4" d="M18.8 572.4L18.8 586.7M20 572.4L20 586.7M21.2 572.4L21.2 586.7M22.4 572.4L22.4 586.7M23.5 572.4L23.5 586.7M24.7 572.4L24.7 586.7M25.9 572.4L25.9 586.7M27.1 572.4L27.1 586.7M28.3 572.4L28.3 586.7M29.5 572.4L29.5 586.7M30.6 572.4L30.6 586.7M31.8 572.4L31.8 586.7M33 572.4L33 586.7"/><path class="e4" d="M36.8 572.4L36.8 586.7M38 572.4L38 586.7M39.3 572.4L39.3 586.7M40.5 572.4L40.5 586.7M41.7 572.4L41.7 586.7M43 572.4L43 586.7M44.2 572.4L44.2 586.7M45.5 572.4L45.5 586.7M46.7 572.4L46.7 586.7M47.9 572.4L47.9 586.7M49.2 572.4L49.2 586.7M50.4 572.4L50.4 586.7"/><path class="e5" d="M55.2 572.4L55.2 586.7"/><path class="e4" d="M79 572.4L79 586.7M80.2 572.4L80.2 586.7M81.5 572.4L81.5 586.7M82.7 572.4L82.7 586.7M83.9 572.4L83.9 586.7M85.1 572.4L85.1 586.7M86.4 572.4L86.4 586.7M87.6 572.4L87.6 586.7M88.8 572.4L88.8 586.7M90 572.4L90 586.7M91.3 572.4L91.3 586.7M92.5 572.4L92.5 586.7M93.7 572.4L93.7 586.7M95 572.4L95 586.7M96.2 572.4L96.2 586.7M97.4 572.4L97.4 586.7M98.6 572.4L98.6 586.7M99.9 572.4L99.9 586.7M101.1 572.4L101.1 586.7M102.3 572.4L102.3 586.7M103.5 572.4L103.5 586.7M104.8 572.4L104.8 586.7M106 572.4L106 586.7"/><path class="e4" d="M132.3 572.4L132.3 586.7M133.4 572.4L133.4 586.7M134.6 572.4L134.6 586.7M135.7 572.4L135.7 586.7M136.8 572.4L136.8 586.7M137.9 572.4L137.9 586.7M139.1 572.4L139.1 586.7M140.2 572.4L140.2 586.7M141.3 572.4L141.3 586.7"/><path class="e5" d="M149.4 572.4L149.4 586.7"/><path class="e4" d="M164 572.4L164 586.7M165.3 572.4L165.3 586.7M166.5 572.4L166.5 586.7M167.8 572.4L167.8 586.7M169 572.4L169 586.7M170.3 572.4L170.3 586.7M171.5 572.4L171.5 586.7M172.8 572.4L172.8 586.7"/><path class="e5" d="M177 572.4L177 586.7"/><path class="e5" d="M179 572.4L179 586.7"/><path class="e5" d="M181 572.4L181 586.7"/><path class="e5" d="M194 572.4L194 586.7"/><path class="e5" d="M196 572.4L196 586.7"/><path class="e5" d="M198 572.4L198 586.7"/><path class="e5" d="M200 572.4L200 586.7"/><path class="e5" d="M205 572.4L201 586.7"/><path class="e5" d="M38 586.7L38 600.9"/><path class="e4" d="M40.8 586.7L40.8 600.9M42 586.7L42 600.9M43.1 586.7L43.1 600.9M44.3 586.7L44.3 600.9M45.5 586.7L45.5 600.9M46.7 586.7L46.7 600.9M47.8 586.7L47.8 600.9M49 586.7L49 600.9"/><path class="e5" d="M55.2 586.7L55.2 600.9"/><path class="e2" d="M55.2 586.7L80 580.4"/><path class="e5" d="M79.8 586.7L79.8 600.9"/><path class="e5" d="M82.6 586.7L82.6 600.9"/><path class="e5" d="M85.4 586.7L85.4 600.9"/><path class="e5" d="M90.6 586.7L90.6 600.9"/><path class="e5" d="M101 586.7L101 600.9"/><path class="e5" d="M103 586.7L103 600.9"/><path class="e5" d="M105 586.7L105 600.9"/><path class="e5" d="M107.5 586.7L107.5 600.9"/><path class="e5" d="M111.5 586.7L111.5 600.9"/><path class="e5" d="M119 586.7L119 600.9"/><path class="e5" d="M121 586.7L121 600.9"/><path class="e4" d="M131.5 586.7L131.5 600.9M132.7 586.7L132.7 600.9M133.8 586.7L133.8 600.9M135 586.7L135 600.9M136.2 586.7L136.2 600.9M137.3 586.7L137.3 600.9M138.5 586.7L138.5 600.9M139.7 586.7L139.7 600.9M140.8 586.7L140.8 600.9M142 586.7L142 600.9"/><path class="e5" d="M169.4 586.7L169.4 600.9"/><path class="e5" d="M179.8 586.7L179.8 600.9"/><path class="e5" d="M184.8 586.7L184.8 600.9"/><path class="e5" d="M189.6 586.7L189.6 600.9"/><path class="e5" d="M193.5 586.7L193.5 600.9"/><path class="e5" d="M196.2 586.7L196.2 600.9"/><path class="e2" d="M141 600.9L170 586.7"/><path class="e2" d="M53 615.1L80 600.9"/><path class="e5" d="M29.2 600.9L29.2 615.1"/><path class="e5" d="M32.3 600.9L32.3 615.1"/><path class="e5" d="M38 600.9L38 615.1"/><path class="e5" d="M52 600.9L52 615.1"/><path class="e5" d="M55.2 600.9L55.2 615.1"/><path class="e5" d="M109.8 600.9L109.8 615.1"/><path class="e5" d="M119.8 600.9L119.8 615.1"/><path class="e5" d="M132.7 600.9L132.7 615.1"/><path class="e5" d="M169.4 600.9L169.4 615.1"/><path class="e5" d="M179.5 600.9L179.5 615.1"/><path class="e4" d="M40.8 600.9L40.8 615.1M42 600.9L42 615.1M43.1 600.9L43.1 615.1M44.3 600.9L44.3 615.1M45.5 600.9L45.5 615.1M46.7 600.9L46.7 615.1M47.8 600.9L47.8 615.1M49 600.9L49 615.1"/><path class="e4" d="M193.8 600.9L193.8 615.1M194.7 600.9L194.7 615.1M195.5 600.9L195.5 615.1M196.3 600.9L196.3 615.1M197.2 600.9L197.2 615.1"/><path class="e5" d="M30.2 615.1L30.2 629.3"/><path class="e4" d="M38 615.1L38 629.3M39.2 615.1L39.2 629.3M40.3 615.1L40.3 629.3M41.5 615.1L41.5 629.3M42.7 615.1L42.7 629.3M43.8 615.1L43.8 629.3M45 615.1L45 629.3M46.2 615.1L46.2 629.3M47.3 615.1L47.3 629.3M48.5 615.1L48.5 629.3"/><path class="e5" d="M55 615.1L54.8 629.3"/><path class="e5" d="M138 615.1L138 629.3"/><path class="e5" d="M179.2 615.1L179.2 629.3"/><path class="e5" d="M194.4 615.1L194.4 629.3"/><path class="e5" d="M39 629.3L39 643.5"/><path class="e5" d="M41 629.3L41 643.5"/><path class="e5" d="M43 629.3L43 643.5"/><path class="e5" d="M45 629.3L45 643.5"/><path class="e5" d="M47 629.3L47 643.5"/><path class="e5" d="M81.2 629.3L81.2 643.5"/><path class="e5" d="M138 629.3L137.7 643.5"/><path class="e5" d="M44.2 643.5L44.2 657.8"/><path class="e2" d="M168.7 515.6L169.2 600.9"/><path class="e" d="M205 558.2L150 600.9"/><path class="e" d="M205 572.4L142 600.9"/><path class="e" d="M192 558.2L100 586.7"/><path class="e" d="M165 544L124 586.7"/><path class="e" d="M157.3 558.2L110 586.7"/><path class="e" d="M148.8 544L85 586.7"/><path class="e" d="M120 529.8L60 572.4"/><path class="e" d="M108 529.8L30 572.4"/><path class="e" d="M175 529.8L125 558.2"/><path class="e" d="M180 529.8L80 558.2"/><path class="e" d="M128.7 529.8L66 572.4"/><path class="e" d="M96.6 529.8L55 572.4"/><path class="e" d="M72.7 529.8L110 572.4"/>
<path class="tr" d="M114.4 472.9L84 487.1L137.5 487.1Z"/><path class="tr" d="M127.9 501.3L120.5 515.6L126 515.6Z"/><path class="fa" d="M123 515.6L108.8 529.8M123 515.6L109.5 529.8M123 515.6L110.2 529.8M123 515.6L110.9 529.8M123 515.6L111.6 529.8M123 515.6L112.2 529.8M123 515.6L112.9 529.8M123 515.6L113.6 529.8M123 515.6L114.3 529.8M123 515.6L115 529.8M123 515.6L115.7 529.8M123 515.6L116.4 529.8M123 515.6L117.1 529.8M123 515.6L117.7 529.8M123 515.6L118.4 529.8M123 515.6L119.1 529.8M123 515.6L119.8 529.8M123 515.6L120.5 529.8"/><path class="fa" d="M188.8 515.6L184.2 529.8M188.8 515.6L184.7 529.8M188.8 515.6L185.3 529.8M188.8 515.6L185.8 529.8M188.8 515.6L186.3 529.8M188.8 515.6L186.9 529.8M188.8 515.6L187.4 529.8M188.8 515.6L187.9 529.8M188.8 515.6L188.5 529.8M188.8 515.6L189 529.8M188.8 515.6L189.5 529.8M188.8 515.6L190.1 529.8M188.8 515.6L190.6 529.8M188.8 515.6L191.1 529.8M188.8 515.6L191.7 529.8M188.8 515.6L192.2 529.8"/><path class="fa" d="M57.7 529.8L54.6 544M57.7 529.8L55.6 544M57.7 529.8L56.7 544M57.7 529.8L57.7 544M57.7 529.8L58.7 544M57.7 529.8L59.8 544M57.7 529.8L60.8 544M57.7 529.8L61.9 544M57.7 529.8L62.9 544M57.7 529.8L63.9 544M57.7 529.8L65 544M57.7 529.8L66 544"/><path class="tr" d="M72.7 529.8L55 544L83 544Z"/><path class="fa" d="M96.6 529.8L95.4 544M96.6 529.8L96.3 544M96.6 529.8L97.2 544M96.6 529.8L98.2 544M96.6 529.8L99.1 544M96.6 529.8L100 544"/><path class="fa" d="M100.7 529.8L98 544M100.7 529.8L99.2 544M100.7 529.8L100.4 544M100.7 529.8L101.6 544M100.7 529.8L102.8 544M100.7 529.8L104 544"/><path class="fa" d="M105.8 529.8L102 544M105.8 529.8L103.6 544M105.8 529.8L105.2 544M105.8 529.8L106.8 544M105.8 529.8L108.4 544M105.8 529.8L110 544"/><path class="tr" d="M128.7 529.8L121.3 544L140 544Z"/><path class="fa" d="M137.5 529.8L131 544M137.5 529.8L132.4 544M137.5 529.8L133.7 544M137.5 529.8L135.1 544M137.5 529.8L136.5 544M137.5 529.8L137.9 544M137.5 529.8L139.2 544M137.5 529.8L140.6 544"/><path class="fa" d="M20.5 544L18.8 558.2M20.5 544L20 558.2M20.5 544L21.2 558.2M20.5 544L22.5 558.2M20.5 544L23.8 558.2M20.5 544L25 558.2"/><path class="tr2" d="M88 544L81 558.2L94 558.2Z"/><path class="tr2" d="M98 544L93 558.2L103 558.2Z"/><path class="tr" d="M109.4 544L101 558.2L115 558.2Z"/><path class="tr" d="M117 544L112 558.2L122.5 558.2Z"/><path class="tr" d="M148.8 544L138.5 558.2L151.5 558.2Z"/><path class="fa" d="M135 544L131 558.2M135 544L132.1 558.2M135 544L133.2 558.2M135 544L134.4 558.2M135 544L135.5 558.2M135 544L136.6 558.2M135 544L137.8 558.2M135 544L138.9 558.2M135 544L140 558.2"/><path class="tr2" d="M174.7 544L171.2 558.2L178 558.2Z"/><path class="tr" d="M184 544L180.5 558.2L187.5 558.2Z"/><path class="tr" d="M199.5 544L196 558.2L203.5 558.2Z"/><path class="fa" d="M21.5 558.2L18.8 572.4M21.5 558.2L19.8 572.4M21.5 558.2L20.8 572.4M21.5 558.2L21.9 572.4M21.5 558.2L22.9 572.4M21.5 558.2L24 572.4M21.5 558.2L25 572.4"/><path class="tr2" d="M34.4 558.2L29.5 572.4L38.5 572.4Z"/><path class="tr" d="M85 558.2L79 572.4L92 572.4Z"/><path class="tr" d="M97 558.2L91 572.4L104 572.4Z"/><path class="fa" d="M135 558.2L132.3 572.4M135 558.2L133.4 572.4M135 558.2L134.5 572.4M135 558.2L135.7 572.4M135 558.2L136.8 572.4M135 558.2L137.9 572.4M135 558.2L139 572.4M135 558.2L140.2 572.4M135 558.2L141.3 572.4M135 558.2L142.4 572.4M135 558.2L143.5 572.4M135 558.2L144.7 572.4M135 558.2L145.8 572.4M135 558.2L146.9 572.4"/><path class="tr" d="M157.3 558.2L148 572.4L172.5 572.4Z"/><path class="tr" d="M30.6 572.4L27 586.7L33 586.7Z"/><path class="tr2" d="M104 572.4L100 586.7L108 586.7Z"/><path class="tr" d="M112.5 572.4L110.4 586.7L116 586.7Z"/><path class="tr" d="M122 572.4L119 586.7L124 586.7Z"/><path class="tr" d="M186.4 572.4L183.3 586.7L190 586.7Z"/><path class="tr" d="M30.6 586.7L28 600.9L33.8 600.9Z"/><path class="tr" d="M50 586.7L41 600.9L56.5 600.9Z"/><path class="fa" d="M81 600.9L76.7 615.1M81 600.9L78.2 615.1M81 600.9L79.6 615.1M81 600.9L81.1 615.1M81 600.9L82.6 615.1M81 600.9L84.1 615.1M81 600.9L85.5 615.1M81 600.9L87 615.1"/><path class="fa" d="M84 600.9L78 615.1M84 600.9L79.8 615.1M84 600.9L81.6 615.1M84 600.9L83.4 615.1M84 600.9L85.2 615.1M84 600.9L87 615.1"/><path class="tr" d="M139 600.9L136 615.1L141.5 615.1Z"/><path class="tr" d="M189.6 600.9L185.6 615.1L192 615.1Z"/><path class="tr" d="M80.2 615.1L73 629.3L81 629.3Z"/><path class="tr" d="M84.4 615.1L81 629.3L87.5 629.3Z"/>
<use href="#ne" x="114.4" y="472.9"/>
<rect class="bk" x="83" y="485" width="55.3" height="4.3" rx="2.15"/>
<circle cx="136.3" cy="487.1" r="0.88" fill="#e89a00"/>
<rect class="bk" x="185.8" y="485" width="6.1" height="4.3" rx="2.15"/>
<circle cx="189.4" cy="487.1" r="0.88" fill="#e89a00"/>
<use href="#ne" x="127.9" y="501.3"/>
<use href="#ne" x="187.3" y="501.3"/>
<use href="#ne" x="190.4" y="501.3"/>
<rect class="bk" x="119.6" y="513.4" width="7.1" height="4.3" rx="2.15"/>
<circle cx="121.6" cy="515.6" r="0.88" fill="#e89a00"/>
<circle cx="124.6" cy="515.6" r="0.88" fill="#e89a00"/>
<use href="#ne" x="168.6" y="515.6"/>
<use href="#ne" x="187.3" y="515.6"/>
<use href="#ne" x="190.4" y="515.6"/>
<use href="#ne" x="19.8" y="529.8"/>
<use href="#ne" x="45.8" y="529.8"/>
<use href="#ne" x="57.7" y="529.8"/>
<use href="#ne" x="72.7" y="529.8"/>
<use href="#ne" x="96.6" y="529.8"/>
<use href="#ne" x="100.7" y="529.8"/>
<use href="#ne" x="105.8" y="529.8"/>
<rect class="bk" x="108.8" y="527.6" width="11.7" height="4.3" rx="2.15"/>
<circle cx="110" cy="529.8" r="0.88" fill="#e89a00"/>
<circle cx="112.5" cy="529.8" r="0.88" fill="#e89a00"/>
<circle cx="116" cy="529.8" r="0.88" fill="#e89a00"/>
<circle cx="119.5" cy="529.8" r="0.88" fill="#e89a00"/>
<use href="#ne" x="128.7" y="529.8"/>
<use href="#nf" x="135.2" y="529.8"/>
<use href="#nf" x="137.5" y="529.8"/>
<use href="#nf" x="139.8" y="529.8"/>
<use href="#ne" x="148.8" y="529.8"/>
<rect class="bk" x="165.7" y="527.6" width="4.8" height="4.3" rx="2.15"/>
<circle cx="166.8" cy="529.8" r="0.88" fill="#e89a00"/>
<circle cx="169.3" cy="529.8" r="0.88" fill="#e89a00"/>
<use href="#ne" x="175" y="529.8"/>
<use href="#ne" x="180" y="529.8"/>
<rect class="bk" x="182" y="527.6" width="20" height="4.3" rx="2.15"/>
<circle cx="183" cy="529.8" r="0.88" fill="#e89a00"/>
<circle cx="185" cy="529.8" r="0.88" fill="#e89a00"/>
<circle cx="187.5" cy="529.8" r="0.88" fill="#e89a00"/>
<circle cx="197" cy="529.8" r="0.88" fill="#e89a00"/>
<circle cx="199" cy="529.8" r="0.88" fill="#e89a00"/>
<circle cx="201" cy="529.8" r="0.88" fill="#e89a00"/>
<use href="#nf" x="19.3" y="544"/>
<use href="#nf" x="21.7" y="544"/>
<use href="#ne" x="28" y="544"/>
<use href="#ne" x="34" y="544"/>
<use href="#ne" x="38" y="544"/>
<use href="#ne" x="41.7" y="544"/>
<rect class="bk" x="45.8" y="541.9" width="5.2" height="4.3" rx="2.15"/>
<circle cx="47" cy="544" r="0.88" fill="#e89a00"/>
<circle cx="49.8" cy="544" r="0.88" fill="#e89a00"/>
<rect class="bk" x="54.6" y="541.9" width="28.7" height="4.3" rx="2.15"/>
<circle cx="56" cy="544" r="0.88" fill="#e89a00"/>
<circle cx="58" cy="544" r="0.88" fill="#e89a00"/>
<circle cx="60" cy="544" r="0.88" fill="#e89a00"/>
<circle cx="63" cy="544" r="0.88" fill="#e89a00"/>
<circle cx="81.5" cy="544" r="0.88" fill="#e89a00"/>
<use href="#ne" x="85.4" y="544"/>
<use href="#ne" x="90.6" y="544"/>
<rect class="bk" x="95.4" y="541.9" width="23.3" height="4.3" rx="2.15"/>
<circle cx="96.5" cy="544" r="0.88" fill="#e89a00"/>
<circle cx="99" cy="544" r="0.88" fill="#e89a00"/>
<circle cx="101.5" cy="544" r="0.88" fill="#e89a00"/>
<circle cx="104" cy="544" r="0.88" fill="#e89a00"/>
<circle cx="107" cy="544" r="0.88" fill="#e89a00"/>
<circle cx="112" cy="544" r="0.88" fill="#e89a00"/>
<circle cx="116" cy="544" r="0.88" fill="#e89a00"/>
<rect class="bk" x="120.8" y="541.9" width="19.8" height="4.3" rx="2.15"/>
<circle cx="139.3" cy="544" r="0.88" fill="#e89a00"/>
<use href="#ne" x="148.8" y="544"/>
<rect class="bk" x="165" y="541.9" width="7" height="4.3" rx="2.15"/>
<circle cx="166.3" cy="544" r="0.88" fill="#e89a00"/>
<circle cx="168.6" cy="544" r="0.88" fill="#e89a00"/>
<circle cx="170.8" cy="544" r="0.88" fill="#e89a00"/>
<use href="#ne" x="175" y="544"/>
<use href="#ne" x="180" y="544"/>
<rect class="bk" x="182.3" y="541.9" width="19.7" height="4.3" rx="2.15"/>
<circle cx="183.5" cy="544" r="0.88" fill="#e89a00"/>
<circle cx="186" cy="544" r="0.88" fill="#e89a00"/>
<circle cx="188.5" cy="544" r="0.88" fill="#e89a00"/>
<circle cx="193" cy="544" r="0.88" fill="#e89a00"/>
<circle cx="196" cy="544" r="0.88" fill="#e89a00"/>
<circle cx="198.5" cy="544" r="0.88" fill="#e89a00"/>
<circle cx="200.8" cy="544" r="0.88" fill="#e89a00"/>
<rect class="bk" x="18.8" y="556.1" width="6.2" height="4.3" rx="2.15"/>
<circle cx="20" cy="558.2" r="0.88" fill="#e89a00"/>
<circle cx="23.5" cy="558.2" r="0.88" fill="#e89a00"/>
<use href="#ne" x="28" y="558.2"/>
<use href="#ne" x="31" y="558.2"/>
<use href="#ne" x="34.4" y="558.2"/>
<use href="#ne" x="38.5" y="558.2"/>
<use href="#ne" x="41.7" y="558.2"/>
<rect class="bk" x="45.4" y="556.1" width="5.2" height="4.3" rx="2.15"/>
<circle cx="46.6" cy="558.2" r="0.88" fill="#e89a00"/>
<circle cx="49.4" cy="558.2" r="0.88" fill="#e89a00"/>
<rect class="bk" x="54.6" y="556.1" width="15.2" height="4.3" rx="2.15"/>
<circle cx="56" cy="558.2" r="0.88" fill="#e89a00"/>
<circle cx="58" cy="558.2" r="0.88" fill="#e89a00"/>
<circle cx="60" cy="558.2" r="0.88" fill="#e89a00"/>
<circle cx="62" cy="558.2" r="0.88" fill="#e89a00"/>
<circle cx="68.4" cy="558.2" r="0.88" fill="#e89a00"/>
<use href="#ne" x="73" y="558.2"/>
<rect class="bk" x="80" y="556.1" width="45.4" height="4.3" rx="2.15"/>
<circle cx="81.3" cy="558.2" r="0.88" fill="#e89a00"/>
<circle cx="84" cy="558.2" r="0.88" fill="#e89a00"/>
<circle cx="88" cy="558.2" r="0.88" fill="#e89a00"/>
<circle cx="91" cy="558.2" r="0.88" fill="#e89a00"/>
<circle cx="95" cy="558.2" r="0.88" fill="#e89a00"/>
<circle cx="98" cy="558.2" r="0.88" fill="#e89a00"/>
<circle cx="103" cy="558.2" r="0.88" fill="#e89a00"/>
<circle cx="107" cy="558.2" r="0.88" fill="#e89a00"/>
<circle cx="111" cy="558.2" r="0.88" fill="#e89a00"/>
<circle cx="116" cy="558.2" r="0.88" fill="#e89a00"/>
<circle cx="121" cy="558.2" r="0.88" fill="#e89a00"/>
<circle cx="124" cy="558.2" r="0.88" fill="#e89a00"/>
<rect class="bk" x="131" y="556.1" width="20.7" height="4.3" rx="2.15"/>
<circle cx="132.3" cy="558.2" r="0.88" fill="#e89a00"/>
<circle cx="134.5" cy="558.2" r="0.88" fill="#e89a00"/>
<circle cx="137" cy="558.2" r="0.88" fill="#e89a00"/>
<circle cx="150.4" cy="558.2" r="0.88" fill="#e89a00"/>
<use href="#ne" x="157.3" y="558.2"/>
<rect class="bk" x="163.5" y="556.1" width="25" height="4.3" rx="2.15"/>
<circle cx="164.8" cy="558.2" r="0.88" fill="#e89a00"/>
<circle cx="167" cy="558.2" r="0.88" fill="#e89a00"/>
<circle cx="170" cy="558.2" r="0.88" fill="#e89a00"/>
<circle cx="176" cy="558.2" r="0.88" fill="#e89a00"/>
<circle cx="179" cy="558.2" r="0.88" fill="#e89a00"/>
<circle cx="183" cy="558.2" r="0.88" fill="#e89a00"/>
<circle cx="187" cy="558.2" r="0.88" fill="#e89a00"/>
<rect class="bk" x="189.6" y="556.1" width="16.2" height="4.3" rx="2.15"/>
<circle cx="191" cy="558.2" r="0.88" fill="#e89a00"/>
<circle cx="194" cy="558.2" r="0.88" fill="#e89a00"/>
<circle cx="197" cy="558.2" r="0.88" fill="#e89a00"/>
<circle cx="200" cy="558.2" r="0.88" fill="#e89a00"/>
<circle cx="204.5" cy="558.2" r="0.88" fill="#e89a00"/>
<rect class="bk" x="18.8" y="570.3" width="31.9" height="4.3" rx="2.15"/>
<circle cx="20" cy="572.4" r="0.88" fill="#e89a00"/>
<circle cx="22" cy="572.4" r="0.88" fill="#e89a00"/>
<circle cx="24" cy="572.4" r="0.88" fill="#e89a00"/>
<circle cx="28" cy="572.4" r="0.88" fill="#e89a00"/>
<circle cx="30.5" cy="572.4" r="0.88" fill="#e89a00"/>
<circle cx="38" cy="572.4" r="0.88" fill="#e89a00"/>
<circle cx="41" cy="572.4" r="0.88" fill="#e89a00"/>
<circle cx="44" cy="572.4" r="0.88" fill="#e89a00"/>
<circle cx="49.3" cy="572.4" r="0.88" fill="#e89a00"/>
<use href="#ne" x="55.2" y="572.4"/>
<use href="#ne" x="58.8" y="572.4"/>
<use href="#ne" x="66" y="572.4"/>
<rect class="bk" x="78.8" y="570.3" width="27.2" height="4.3" rx="2.15"/>
<circle cx="80" cy="572.4" r="0.88" fill="#e89a00"/>
<circle cx="83" cy="572.4" r="0.88" fill="#e89a00"/>
<circle cx="87" cy="572.4" r="0.88" fill="#e89a00"/>
<circle cx="90" cy="572.4" r="0.88" fill="#e89a00"/>
<circle cx="93" cy="572.4" r="0.88" fill="#e89a00"/>
<circle cx="96" cy="572.4" r="0.88" fill="#e89a00"/>
<circle cx="99" cy="572.4" r="0.88" fill="#e89a00"/>
<circle cx="102" cy="572.4" r="0.88" fill="#e89a00"/>
<circle cx="104.8" cy="572.4" r="0.88" fill="#e89a00"/>
<rect class="bk" x="109.4" y="570.3" width="6.2" height="4.3" rx="2.15"/>
<circle cx="110.6" cy="572.4" r="0.88" fill="#e89a00"/>
<circle cx="114.4" cy="572.4" r="0.88" fill="#e89a00"/>
<rect class="bk" x="119.8" y="570.3" width="4.2" height="4.3" rx="2.15"/>
<circle cx="121" cy="572.4" r="0.88" fill="#e89a00"/>
<circle cx="122.8" cy="572.4" r="0.88" fill="#e89a00"/>
<rect class="bk" x="132.3" y="570.3" width="14.6" height="4.3" rx="2.15"/>
<circle cx="133.5" cy="572.4" r="0.88" fill="#e89a00"/>
<circle cx="135.5" cy="572.4" r="0.88" fill="#e89a00"/>
<circle cx="137.5" cy="572.4" r="0.88" fill="#e89a00"/>
<circle cx="139.5" cy="572.4" r="0.88" fill="#e89a00"/>
<circle cx="141.5" cy="572.4" r="0.88" fill="#e89a00"/>
<circle cx="143.5" cy="572.4" r="0.88" fill="#e89a00"/>
<circle cx="145.6" cy="572.4" r="0.88" fill="#e89a00"/>
<rect class="bk" x="147.5" y="570.3" width="25.4" height="4.3" rx="2.15"/>
<circle cx="165" cy="572.4" r="0.88" fill="#e89a00"/>
<circle cx="168" cy="572.4" r="0.88" fill="#e89a00"/>
<circle cx="171.6" cy="572.4" r="0.88" fill="#e89a00"/>
<rect class="bk" x="176" y="570.3" width="6.3" height="4.3" rx="2.15"/>
<circle cx="177.2" cy="572.4" r="0.88" fill="#e89a00"/>
<circle cx="181" cy="572.4" r="0.88" fill="#e89a00"/>
<use href="#ne" x="186.5" y="572.4"/>
<rect class="bk" x="192.7" y="570.3" width="13.1" height="4.3" rx="2.15"/>
<circle cx="194" cy="572.4" r="0.88" fill="#e89a00"/>
<circle cx="196.5" cy="572.4" r="0.88" fill="#e89a00"/>
<circle cx="199" cy="572.4" r="0.88" fill="#e89a00"/>
<circle cx="202" cy="572.4" r="0.88" fill="#e89a00"/>
<circle cx="204.5" cy="572.4" r="0.88" fill="#e89a00"/>
<rect class="bk" x="18.3" y="584.5" width="14.7" height="4.3" rx="2.15"/>
<circle cx="19.6" cy="586.7" r="0.88" fill="#e89a00"/>
<circle cx="31.5" cy="586.7" r="0.88" fill="#e89a00"/>
<rect class="bk" x="36.5" y="584.5" width="14.1" height="4.3" rx="2.15"/>
<circle cx="37.8" cy="586.7" r="0.88" fill="#e89a00"/>
<circle cx="40.5" cy="586.7" r="0.88" fill="#e89a00"/>
<circle cx="43" cy="586.7" r="0.88" fill="#e89a00"/>
<circle cx="45.5" cy="586.7" r="0.88" fill="#e89a00"/>
<circle cx="49.3" cy="586.7" r="0.88" fill="#e89a00"/>
<use href="#ne" x="55.2" y="586.7"/>
<rect class="bk" x="78.8" y="584.5" width="29.5" height="4.3" rx="2.15"/>
<circle cx="80" cy="586.7" r="0.88" fill="#e89a00"/>
<circle cx="83" cy="586.7" r="0.88" fill="#e89a00"/>
<circle cx="87" cy="586.7" r="0.88" fill="#e89a00"/>
<circle cx="91" cy="586.7" r="0.88" fill="#e89a00"/>
<circle cx="95" cy="586.7" r="0.88" fill="#e89a00"/>
<circle cx="98" cy="586.7" r="0.88" fill="#e89a00"/>
<circle cx="101" cy="586.7" r="0.88" fill="#e89a00"/>
<circle cx="104" cy="586.7" r="0.88" fill="#e89a00"/>
<circle cx="107" cy="586.7" r="0.88" fill="#e89a00"/>
<rect class="bk" x="110.2" y="584.5" width="5.8" height="4.3" rx="2.15"/>
<circle cx="111.4" cy="586.7" r="0.88" fill="#e89a00"/>
<circle cx="114.8" cy="586.7" r="0.88" fill="#e89a00"/>
<rect class="bk" x="118.8" y="584.5" width="5.2" height="4.3" rx="2.15"/>
<circle cx="120" cy="586.7" r="0.88" fill="#e89a00"/>
<circle cx="122.8" cy="586.7" r="0.88" fill="#e89a00"/>
<rect class="bk" x="131.2" y="584.5" width="10.2" height="4.3" rx="2.15"/>
<circle cx="132.5" cy="586.7" r="0.88" fill="#e89a00"/>
<circle cx="135" cy="586.7" r="0.88" fill="#e89a00"/>
<circle cx="137.5" cy="586.7" r="0.88" fill="#e89a00"/>
<circle cx="140.2" cy="586.7" r="0.88" fill="#e89a00"/>
<use href="#ne" x="149.4" y="586.7"/>
<rect class="bk" x="163.5" y="584.5" width="9.5" height="4.3" rx="2.15"/>
<circle cx="164.8" cy="586.7" r="0.88" fill="#e89a00"/>
<circle cx="167" cy="586.7" r="0.88" fill="#e89a00"/>
<circle cx="169.4" cy="586.7" r="0.88" fill="#e89a00"/>
<circle cx="171.8" cy="586.7" r="0.88" fill="#e89a00"/>
<rect class="bk" x="176" y="584.5" width="15.7" height="4.3" rx="2.15"/>
<circle cx="177.3" cy="586.7" r="0.88" fill="#e89a00"/>
<circle cx="180" cy="586.7" r="0.88" fill="#e89a00"/>
<circle cx="189" cy="586.7" r="0.88" fill="#e89a00"/>
<circle cx="190.4" cy="586.7" r="0.88" fill="#e89a00"/>
<rect class="bk" x="192.7" y="584.5" width="8.3" height="4.3" rx="2.15"/>
<circle cx="194" cy="586.7" r="0.88" fill="#e89a00"/>
<circle cx="196.5" cy="586.7" r="0.88" fill="#e89a00"/>
<circle cx="199.7" cy="586.7" r="0.88" fill="#e89a00"/>
<rect class="bk" x="27.5" y="598.7" width="6.9" height="4.3" rx="2.15"/>
<circle cx="28.8" cy="600.9" r="0.88" fill="#e89a00"/>
<circle cx="33.1" cy="600.9" r="0.88" fill="#e89a00"/>
<use href="#ne" x="38" y="600.9"/>
<rect class="bk" x="40.6" y="598.7" width="16.7" height="4.3" rx="2.15"/>
<circle cx="42" cy="600.9" r="0.88" fill="#e89a00"/>
<circle cx="45" cy="600.9" r="0.88" fill="#e89a00"/>
<circle cx="47.5" cy="600.9" r="0.88" fill="#e89a00"/>
<circle cx="56" cy="600.9" r="0.88" fill="#e89a00"/>
<use href="#nf" x="80.8" y="600.9"/>
<use href="#nf" x="82.6" y="600.9"/>
<use href="#nf" x="84.4" y="600.9"/>
<use href="#ne" x="90.6" y="600.9"/>
<use href="#nf" x="103" y="600.9"/>
<use href="#nf" x="104.6" y="600.9"/>
<use href="#nf" x="106.2" y="600.9"/>
<use href="#ne" x="111.5" y="600.9"/>
<use href="#nf" x="119.9" y="600.9"/>
<use href="#nf" x="121" y="600.9"/>
<rect class="bk" x="131.2" y="598.7" width="11.1" height="4.3" rx="2.15"/>
<circle cx="132.5" cy="600.9" r="0.88" fill="#e89a00"/>
<circle cx="135" cy="600.9" r="0.88" fill="#e89a00"/>
<circle cx="137.5" cy="600.9" r="0.88" fill="#e89a00"/>
<circle cx="141" cy="600.9" r="0.88" fill="#e89a00"/>
<use href="#ne" x="169.4" y="600.9"/>
<use href="#ne" x="179.8" y="600.9"/>
<use href="#ne" x="184.8" y="600.9"/>
<use href="#ne" x="189.6" y="600.9"/>
<use href="#nf" x="193.5" y="600.9"/>
<use href="#nf" x="196.2" y="600.9"/>
<use href="#ne" x="29.2" y="615.1"/>
<use href="#ne" x="32.3" y="615.1"/>
<rect class="bk" x="37.5" y="613" width="11.5" height="4.3" rx="2.15"/>
<circle cx="38.8" cy="615.1" r="0.88" fill="#e89a00"/>
<circle cx="41" cy="615.1" r="0.88" fill="#e89a00"/>
<circle cx="43.5" cy="615.1" r="0.88" fill="#e89a00"/>
<circle cx="46" cy="615.1" r="0.88" fill="#e89a00"/>
<circle cx="47.8" cy="615.1" r="0.88" fill="#e89a00"/>
<use href="#ne" x="52" y="615.1"/>
<use href="#ne" x="55.2" y="615.1"/>
<rect class="bk" x="76.7" y="613" width="10.3" height="4.3" rx="2.15"/>
<circle cx="78" cy="615.1" r="0.88" fill="#e89a00"/>
<circle cx="81" cy="615.1" r="0.88" fill="#e89a00"/>
<circle cx="84" cy="615.1" r="0.88" fill="#e89a00"/>
<circle cx="85.8" cy="615.1" r="0.88" fill="#e89a00"/>
<use href="#ne" x="109.4" y="615.1"/>
<use href="#ne" x="119.8" y="615.1"/>
<use href="#ne" x="132.7" y="615.1"/>
<rect class="bk" x="135.8" y="613" width="5.9" height="4.3" rx="2.15"/>
<circle cx="137" cy="615.1" r="0.88" fill="#e89a00"/>
<circle cx="140.4" cy="615.1" r="0.88" fill="#e89a00"/>
<use href="#ne" x="169.4" y="615.1"/>
<use href="#ne" x="179.2" y="615.1"/>
<rect class="bk" x="183" y="613" width="16" height="4.3" rx="2.15"/>
<circle cx="195.5" cy="615.1" r="0.88" fill="#e89a00"/>
<use href="#ne" x="30.2" y="629.3"/>
<rect class="bk" x="37" y="627.2" width="12" height="4.3" rx="2.15"/>
<circle cx="38.3" cy="629.3" r="0.88" fill="#e89a00"/>
<circle cx="41.5" cy="629.3" r="0.88" fill="#e89a00"/>
<circle cx="44.7" cy="629.3" r="0.88" fill="#e89a00"/>
<circle cx="47.7" cy="629.3" r="0.88" fill="#e89a00"/>
<use href="#ne" x="54.8" y="629.3"/>
<rect class="bk" x="72.5" y="627.2" width="15.5" height="4.3" rx="2.15"/>
<circle cx="79.5" cy="629.3" r="0.88" fill="#e89a00"/>
<circle cx="85.5" cy="629.3" r="0.88" fill="#e89a00"/>
<use href="#ne" x="138" y="629.3"/>
<use href="#ne" x="179.2" y="629.3"/>
<use href="#ne" x="194.4" y="629.3"/>
<rect class="bk" x="37.5" y="641.4" width="11.5" height="4.3" rx="2.15"/>
<circle cx="38.8" cy="643.5" r="0.88" fill="#e89a00"/>
<circle cx="41" cy="643.5" r="0.88" fill="#e89a00"/>
<circle cx="43.5" cy="643.5" r="0.88" fill="#e89a00"/>
<circle cx="46" cy="643.5" r="0.88" fill="#e89a00"/>
<circle cx="47.8" cy="643.5" r="0.88" fill="#e89a00"/>
<use href="#ne" x="81.2" y="643.5"/>
<use href="#ne" x="137.7" y="643.5"/>
<use href="#ne" x="44.2" y="657.8"/>
</g>
<g id="pb">
<rect x="312" y="2" width="213.5" height="149" fill="#fff"/>
<path class="gm" d="M332.2 2V151M381.1 2V151M430 2V151M478.9 2V151M312 130.8H525.5M312 103.5H525.5M312 76.1H525.5M312 48.8H525.5M312 21.4H525.5"/>
<path class="gM" d="M356.6 2V151M405.5 2V151M454.4 2V151M503.3 2V151M312 144.5H525.5M312 117.2H525.5M312 89.8H525.5M312 62.5H525.5M312 35.1H525.5M312 7.8H525.5"/>
<g fill="#f0b050" fill-opacity="1"><circle cx="321.1" cy="144.50" r="1.5"/><circle cx="322.4" cy="144.48" r="1.5"/><circle cx="323.6" cy="144.45" r="1.5"/><circle cx="324.8" cy="144.33" r="1.5"/><circle cx="326" cy="144.06" r="1.5"/><circle cx="327.3" cy="143.57" r="1.5"/><circle cx="328.5" cy="142.79" r="1.5"/><circle cx="329.7" cy="141.66" r="1.5"/><circle cx="330.9" cy="140.17" r="1.5"/><circle cx="332.2" cy="138.28" r="1.5"/><circle cx="333.4" cy="135.98" r="1.5"/><circle cx="334.6" cy="133.27" r="1.5"/><circle cx="335.8" cy="130.17" r="1.5"/><circle cx="337" cy="126.69" r="1.5"/><circle cx="338.3" cy="122.85" r="1.5"/><circle cx="339.5" cy="118.68" r="1.5"/><circle cx="340.7" cy="114.22" r="1.5"/><circle cx="341.9" cy="109.49" r="1.5"/><circle cx="343.2" cy="104.56" r="1.5"/><circle cx="344.4" cy="99.60" r="1.5"/><circle cx="345.6" cy="94.79" r="1.5"/><circle cx="346.8" cy="90.31" r="1.5"/><circle cx="348" cy="86.32" r="1.5"/><circle cx="349.3" cy="82.90" r="1.5"/><circle cx="350.5" cy="80.13" r="1.5"/><circle cx="351.7" cy="78.15" r="1.5"/><circle cx="352.9" cy="77.09" r="1.5"/><circle cx="354.2" cy="77.08" r="1.5"/><circle cx="355.4" cy="78.01" r="1.5"/><circle cx="356.6" cy="79.67" r="1.5"/><circle cx="357.8" cy="81.83" r="1.5"/><circle cx="359" cy="84.32" r="1.5"/><circle cx="360.3" cy="87.01" r="1.5"/><circle cx="361.5" cy="89.80" r="1.5"/><circle cx="362.7" cy="92.58" r="1.5"/><circle cx="363.9" cy="95.25" r="1.5"/><circle cx="365.2" cy="97.78" r="1.5"/><circle cx="366.4" cy="100.20" r="1.5"/><circle cx="367.6" cy="102.58" r="1.5"/><circle cx="368.8" cy="104.96" r="1.5"/><circle cx="370" cy="107.38" r="1.5"/><circle cx="371.3" cy="109.84" r="1.5"/><circle cx="372.5" cy="112.29" r="1.5"/><circle cx="373.7" cy="114.73" r="1.5"/><circle cx="374.9" cy="117.09" r="1.5"/><circle cx="376.2" cy="119.31" r="1.5"/><circle cx="377.4" cy="121.32" r="1.5"/><circle cx="378.6" cy="123.03" r="1.5"/><circle cx="379.8" cy="124.42" r="1.5"/><circle cx="381.1" cy="125.51" r="1.5"/><circle cx="382.3" cy="126.36" r="1.5"/><circle cx="383.5" cy="126.99" r="1.5"/><circle cx="384.7" cy="127.43" r="1.5"/><circle cx="385.9" cy="127.66" r="1.5"/><circle cx="387.2" cy="127.69" r="1.5"/><circle cx="388.4" cy="127.50" r="1.5"/><circle cx="389.6" cy="127.11" r="1.5"/><circle cx="390.8" cy="126.52" r="1.5"/><circle cx="392.1" cy="125.72" r="1.5"/><circle cx="393.3" cy="124.74" r="1.5"/><circle cx="394.5" cy="123.65" r="1.5"/><circle cx="395.7" cy="122.50" r="1.5"/><circle cx="396.9" cy="121.38" r="1.5"/><circle cx="398.2" cy="120.35" r="1.5"/><circle cx="399.4" cy="119.42" r="1.5"/><circle cx="400.6" cy="118.56" r="1.5"/><circle cx="401.8" cy="117.73" r="1.5"/><circle cx="403.1" cy="116.90" r="1.5"/><circle cx="404.3" cy="116.04" r="1.5"/><circle cx="405.5" cy="115.14" r="1.5"/><circle cx="406.7" cy="114.23" r="1.5"/><circle cx="407.9" cy="113.31" r="1.5"/><circle cx="409.2" cy="112.40" r="1.5"/><circle cx="410.4" cy="111.52" r="1.5"/><circle cx="411.6" cy="110.69" r="1.5"/><circle cx="412.8" cy="109.97" r="1.5"/><circle cx="414.1" cy="109.41" r="1.5"/><circle cx="415.3" cy="109.07" r="1.5"/><circle cx="416.5" cy="109.01" r="1.5"/><circle cx="417.7" cy="109.24" r="1.5"/><circle cx="418.9" cy="109.74" r="1.5"/><circle cx="420.2" cy="110.50" r="1.5"/><circle cx="421.4" cy="111.50" r="1.5"/><circle cx="422.6" cy="112.71" r="1.5"/><circle cx="423.8" cy="114.10" r="1.5"/><circle cx="425.1" cy="115.61" r="1.5"/><circle cx="426.3" cy="117.22" r="1.5"/><circle cx="427.5" cy="118.86" r="1.5"/><circle cx="428.7" cy="120.50" r="1.5"/><circle cx="430" cy="122.11" r="1.5"/><circle cx="431.2" cy="123.68" r="1.5"/><circle cx="432.4" cy="125.20" r="1.5"/><circle cx="433.6" cy="126.67" r="1.5"/><circle cx="434.8" cy="128.08" r="1.5"/><circle cx="436.1" cy="129.44" r="1.5"/><circle cx="437.3" cy="130.74" r="1.5"/><circle cx="438.5" cy="131.95" r="1.5"/><circle cx="439.7" cy="133.09" r="1.5"/><circle cx="441" cy="134.12" r="1.5"/><circle cx="442.2" cy="135.05" r="1.5"/><circle cx="443.4" cy="135.87" r="1.5"/><circle cx="444.6" cy="136.58" r="1.5"/><circle cx="445.8" cy="137.19" r="1.5"/><circle cx="447.1" cy="137.72" r="1.5"/><circle cx="448.3" cy="138.17" r="1.5"/><circle cx="449.5" cy="138.54" r="1.5"/><circle cx="450.7" cy="138.79" r="1.5"/><circle cx="452" cy="138.90" r="1.5"/><circle cx="453.2" cy="138.84" r="1.5"/><circle cx="454.4" cy="138.64" r="1.5"/><circle cx="455.6" cy="138.35" r="1.5"/><circle cx="456.8" cy="138.01" r="1.5"/><circle cx="458.1" cy="137.68" r="1.5"/><circle cx="459.3" cy="137.40" r="1.5"/><circle cx="460.5" cy="137.17" r="1.5"/><circle cx="461.7" cy="136.99" r="1.5"/><circle cx="463" cy="136.87" r="1.5"/><circle cx="464.2" cy="136.81" r="1.5"/><circle cx="465.4" cy="136.81" r="1.5"/><circle cx="466.6" cy="136.86" r="1.5"/><circle cx="467.8" cy="136.96" r="1.5"/><circle cx="469.1" cy="137.10" r="1.5"/><circle cx="470.3" cy="137.28" r="1.5"/><circle cx="471.5" cy="137.48" r="1.5"/><circle cx="472.7" cy="137.71" r="1.5"/><circle cx="474" cy="137.96" r="1.5"/><circle cx="475.2" cy="138.22" r="1.5"/><circle cx="476.4" cy="138.49" r="1.5"/><circle cx="477.6" cy="138.77" r="1.5"/><circle cx="478.9" cy="139.06" r="1.5"/><circle cx="480.1" cy="139.35" r="1.5"/><circle cx="481.3" cy="139.64" r="1.5"/><circle cx="482.5" cy="139.93" r="1.5"/><circle cx="483.7" cy="140.21" r="1.5"/><circle cx="485" cy="140.50" r="1.5"/><circle cx="486.2" cy="140.78" r="1.5"/><circle cx="487.4" cy="141.06" r="1.5"/><circle cx="488.6" cy="141.34" r="1.5"/><circle cx="489.9" cy="141.61" r="1.5"/><circle cx="491.1" cy="141.88" r="1.5"/><circle cx="492.3" cy="142.15" r="1.5"/><circle cx="493.5" cy="142.41" r="1.5"/><circle cx="494.7" cy="142.66" r="1.5"/><circle cx="496" cy="142.90" r="1.5"/><circle cx="497.2" cy="143.12" r="1.5"/><circle cx="498.4" cy="143.32" r="1.5"/><circle cx="499.6" cy="143.51" r="1.5"/><circle cx="500.9" cy="143.67" r="1.5"/><circle cx="502.1" cy="143.82" r="1.5"/><circle cx="503.3" cy="143.95" r="1.5"/><circle cx="504.5" cy="144.06" r="1.5"/><circle cx="505.7" cy="144.16" r="1.5"/><circle cx="507" cy="144.24" r="1.5"/><circle cx="508.2" cy="144.31" r="1.5"/><circle cx="509.4" cy="144.37" r="1.5"/><circle cx="510.6" cy="144.41" r="1.5"/><circle cx="511.9" cy="144.44" r="1.5"/><circle cx="513.1" cy="144.47" r="1.5"/><circle cx="514.3" cy="144.49" r="1.5"/><circle cx="515.5" cy="144.50" r="1.5"/><circle cx="516.7" cy="144.50" r="1.5"/></g>
<path d="M321.1 144.50L322.1 144.49L323.1 144.47L324.1 144.41L325.1 144.29L326 144.06L327 143.69L328 143.14L329 142.38L329.9 141.40L330.9 140.17L331.9 138.69L332.9 136.95L333.9 134.95L334.8 132.68L335.8 130.17L336.8 127.41L337.8 124.43L338.8 121.22L339.7 117.81L340.7 114.22L341.7 110.45L342.7 106.54L343.6 102.57L344.6 98.62L345.6 94.79L346.6 91.17L347.6 87.85L348.5 84.88L349.5 82.29L350.5 80.13L351.5 78.48L352.4 77.39L353.4 76.96L354.4 77.20L355.4 78.01L356.4 79.29L357.3 80.92L358.3 82.80L359.3 84.85L360.3 87.01L361.2 89.24L362.2 91.47L363.2 93.67L364.2 95.77L365.2 97.78L366.1 99.72L367.1 101.63L368.1 103.53L369.1 105.44L370 107.38L371 109.34L372 111.31L373 113.27L374 115.21L374.9 117.09L375.9 118.88L376.9 120.55L377.9 122.04L378.8 123.33L379.8 124.42L380.8 125.31L381.8 126.05L382.8 126.63L383.7 127.09L384.7 127.43L385.7 127.63L386.7 127.70L387.7 127.64L388.6 127.44L389.6 127.11L390.6 126.65L391.6 126.06L392.5 125.35L393.5 124.53L394.5 123.65L395.5 122.73L396.5 121.83L397.4 120.96L398.4 120.16L399.4 119.42L400.4 118.73L401.3 118.06L402.3 117.40L403.3 116.73L404.3 116.04L405.3 115.32L406.2 114.59L407.2 113.86L408.2 113.13L409.2 112.40L410.1 111.70L411.1 111.01L412.1 110.39L413.1 109.84L414.1 109.41L415 109.12L416 109.00L417 109.06L418 109.32L418.9 109.74L419.9 110.33L420.9 111.08L421.9 111.96L422.9 112.98L423.8 114.10L424.8 115.30L425.8 116.57L426.8 117.87L427.7 119.19L428.7 120.50L429.7 121.79L430.7 123.06L431.7 124.29L432.6 125.49L433.6 126.67L434.6 127.80L435.6 128.90L436.6 129.97L437.5 130.99L438.5 131.95L439.5 132.87L440.5 133.72L441.4 134.51L442.4 135.23L443.4 135.87L444.4 136.45L445.4 136.96L446.3 137.41L447.3 137.82L448.3 138.17L449.3 138.47L450.2 138.70L451.2 138.85L452.2 138.90L453.2 138.84L454.2 138.69L455.1 138.48L456.1 138.22L457.1 137.95L458.1 137.68L459 137.45L460 137.25L461 137.09L462 136.96L463 136.87L463.9 136.82L464.9 136.80L465.9 136.82L466.9 136.87L467.8 136.96L468.8 137.07L469.8 137.20L470.8 137.36L471.8 137.53L472.7 137.71L473.7 137.91L474.7 138.11L475.7 138.33L476.6 138.55L477.6 138.77L478.6 139.00L479.6 139.23L480.6 139.47L481.5 139.70L482.5 139.93L483.5 140.16L484.5 140.39L485.5 140.61L486.4 140.84L487.4 141.06L488.4 141.28L489.4 141.50L490.3 141.72L491.3 141.94L492.3 142.15L493.3 142.36L494.3 142.56L495.2 142.76L496.2 142.94L497.2 143.12L498.2 143.28L499.1 143.44L500.1 143.58L501.1 143.71L502.1 143.82L503.1 143.93L504 144.02L505 144.10L506 144.18L507 144.24L507.9 144.30L508.9 144.34L509.9 144.39L510.9 144.42L511.9 144.44L512.8 144.47L513.8 144.48L514.8 144.49L515.8 144.50L516.7 144.50" fill="none" stroke="#f4341e" stroke-width="0.95" stroke-opacity="1"/>
<g fill="#45d4dc" fill-opacity="0.85"><circle cx="321.1" cy="144.50" r="1.3"/><circle cx="322.4" cy="144.50" r="1.3"/><circle cx="323.6" cy="144.50" r="1.3"/><circle cx="324.8" cy="144.50" r="1.3"/><circle cx="326" cy="144.50" r="1.3"/><circle cx="327.3" cy="144.50" r="1.3"/><circle cx="328.5" cy="144.50" r="1.3"/><circle cx="329.7" cy="144.50" r="1.3"/><circle cx="330.9" cy="144.50" r="1.3"/><circle cx="332.2" cy="144.50" r="1.3"/><circle cx="333.4" cy="144.50" r="1.3"/><circle cx="334.6" cy="144.50" r="1.3"/><circle cx="335.8" cy="144.50" r="1.3"/><circle cx="337" cy="144.50" r="1.3"/><circle cx="338.3" cy="144.50" r="1.3"/><circle cx="339.5" cy="144.50" r="1.3"/><circle cx="340.7" cy="144.50" r="1.3"/><circle cx="341.9" cy="144.49" r="1.3"/><circle cx="343.2" cy="144.49" r="1.3"/><circle cx="344.4" cy="144.48" r="1.3"/><circle cx="345.6" cy="144.47" r="1.3"/><circle cx="346.8" cy="144.46" r="1.3"/><circle cx="348" cy="144.44" r="1.3"/><circle cx="349.3" cy="144.41" r="1.3"/><circle cx="350.5" cy="144.36" r="1.3"/><circle cx="351.7" cy="144.29" r="1.3"/><circle cx="352.9" cy="144.19" r="1.3"/><circle cx="354.2" cy="144.05" r="1.3"/><circle cx="355.4" cy="143.86" r="1.3"/><circle cx="356.6" cy="143.59" r="1.3"/><circle cx="357.8" cy="143.23" r="1.3"/><circle cx="359" cy="142.74" r="1.3"/><circle cx="360.3" cy="142.10" r="1.3"/><circle cx="361.5" cy="141.25" r="1.3"/><circle cx="362.7" cy="140.16" r="1.3"/><circle cx="363.9" cy="138.77" r="1.3"/><circle cx="365.2" cy="137.03" r="1.3"/><circle cx="366.4" cy="134.86" r="1.3"/><circle cx="367.6" cy="132.21" r="1.3"/><circle cx="368.8" cy="129.01" r="1.3"/><circle cx="370" cy="125.21" r="1.3"/><circle cx="371.3" cy="120.75" r="1.3"/><circle cx="372.5" cy="115.61" r="1.3"/><circle cx="373.7" cy="109.76" r="1.3"/><circle cx="374.9" cy="103.21" r="1.3"/><circle cx="376.2" cy="96.00" r="1.3"/><circle cx="377.4" cy="88.20" r="1.3"/><circle cx="378.6" cy="79.90" r="1.3"/><circle cx="379.8" cy="71.24" r="1.3"/><circle cx="381.1" cy="62.39" r="1.3"/><circle cx="382.3" cy="53.54" r="1.3"/><circle cx="383.5" cy="44.90" r="1.3"/><circle cx="384.7" cy="36.72" r="1.3"/><circle cx="385.9" cy="29.23" r="1.3"/><circle cx="387.2" cy="22.65" r="1.3"/><circle cx="388.4" cy="17.19" r="1.3"/><circle cx="389.6" cy="13.04" r="1.3"/><circle cx="390.8" cy="10.33" r="1.3"/><circle cx="392.1" cy="9.16" r="1.3"/><circle cx="393.3" cy="9.57" r="1.3"/><circle cx="394.5" cy="11.55" r="1.3"/><circle cx="395.7" cy="15.02" r="1.3"/><circle cx="396.9" cy="19.87" r="1.3"/><circle cx="398.2" cy="25.94" r="1.3"/><circle cx="399.4" cy="33.02" r="1.3"/><circle cx="400.6" cy="40.91" r="1.3"/><circle cx="401.8" cy="49.35" r="1.3"/><circle cx="403.1" cy="58.12" r="1.3"/><circle cx="404.3" cy="67.00" r="1.3"/><circle cx="405.5" cy="75.78" r="1.3"/><circle cx="406.7" cy="84.27" r="1.3"/><circle cx="407.9" cy="92.33" r="1.3"/><circle cx="409.2" cy="99.83" r="1.3"/><circle cx="410.4" cy="106.70" r="1.3"/><circle cx="411.6" cy="112.89" r="1.3"/><circle cx="412.8" cy="118.37" r="1.3"/><circle cx="414.1" cy="123.15" r="1.3"/><circle cx="415.3" cy="127.26" r="1.3"/><circle cx="416.5" cy="130.74" r="1.3"/><circle cx="417.7" cy="133.65" r="1.3"/><circle cx="418.9" cy="136.04" r="1.3"/><circle cx="420.2" cy="137.98" r="1.3"/><circle cx="421.4" cy="139.54" r="1.3"/><circle cx="422.6" cy="140.76" r="1.3"/><circle cx="423.8" cy="141.72" r="1.3"/><circle cx="425.1" cy="142.46" r="1.3"/><circle cx="426.3" cy="143.02" r="1.3"/><circle cx="427.5" cy="143.43" r="1.3"/><circle cx="428.7" cy="143.74" r="1.3"/><circle cx="430" cy="143.97" r="1.3"/><circle cx="431.2" cy="144.13" r="1.3"/><circle cx="432.4" cy="144.25" r="1.3"/><circle cx="433.6" cy="144.33" r="1.3"/><circle cx="434.8" cy="144.39" r="1.3"/><circle cx="436.1" cy="144.42" r="1.3"/><circle cx="437.3" cy="144.45" r="1.3"/><circle cx="438.5" cy="144.47" r="1.3"/><circle cx="439.7" cy="144.48" r="1.3"/><circle cx="441" cy="144.49" r="1.3"/><circle cx="442.2" cy="144.49" r="1.3"/><circle cx="443.4" cy="144.50" r="1.3"/><circle cx="444.6" cy="144.50" r="1.3"/><circle cx="445.8" cy="144.50" r="1.3"/><circle cx="447.1" cy="144.50" r="1.3"/><circle cx="448.3" cy="144.50" r="1.3"/><circle cx="449.5" cy="144.50" r="1.3"/><circle cx="450.7" cy="144.50" r="1.3"/><circle cx="452" cy="144.50" r="1.3"/><circle cx="453.2" cy="144.50" r="1.3"/><circle cx="454.4" cy="144.50" r="1.3"/><circle cx="455.6" cy="144.50" r="1.3"/><circle cx="456.8" cy="144.50" r="1.3"/><circle cx="458.1" cy="144.50" r="1.3"/><circle cx="459.3" cy="144.50" r="1.3"/><circle cx="460.5" cy="144.50" r="1.3"/><circle cx="461.7" cy="144.50" r="1.3"/><circle cx="463" cy="144.50" r="1.3"/><circle cx="464.2" cy="144.50" r="1.3"/><circle cx="465.4" cy="144.50" r="1.3"/><circle cx="466.6" cy="144.50" r="1.3"/><circle cx="467.8" cy="144.50" r="1.3"/><circle cx="469.1" cy="144.50" r="1.3"/><circle cx="470.3" cy="144.50" r="1.3"/><circle cx="471.5" cy="144.50" r="1.3"/><circle cx="472.7" cy="144.50" r="1.3"/><circle cx="474" cy="144.50" r="1.3"/><circle cx="475.2" cy="144.50" r="1.3"/><circle cx="476.4" cy="144.50" r="1.3"/><circle cx="477.6" cy="144.50" r="1.3"/><circle cx="478.9" cy="144.50" r="1.3"/><circle cx="480.1" cy="144.50" r="1.3"/><circle cx="481.3" cy="144.50" r="1.3"/><circle cx="482.5" cy="144.50" r="1.3"/><circle cx="483.7" cy="144.50" r="1.3"/><circle cx="485" cy="144.50" r="1.3"/><circle cx="486.2" cy="144.50" r="1.3"/><circle cx="487.4" cy="144.50" r="1.3"/><circle cx="488.6" cy="144.50" r="1.3"/><circle cx="489.9" cy="144.50" r="1.3"/><circle cx="491.1" cy="144.50" r="1.3"/><circle cx="492.3" cy="144.50" r="1.3"/><circle cx="493.5" cy="144.50" r="1.3"/><circle cx="494.7" cy="144.50" r="1.3"/><circle cx="496" cy="144.50" r="1.3"/><circle cx="497.2" cy="144.50" r="1.3"/><circle cx="498.4" cy="144.50" r="1.3"/><circle cx="499.6" cy="144.50" r="1.3"/><circle cx="500.9" cy="144.50" r="1.3"/><circle cx="502.1" cy="144.50" r="1.3"/><circle cx="503.3" cy="144.50" r="1.3"/><circle cx="504.5" cy="144.50" r="1.3"/><circle cx="505.7" cy="144.50" r="1.3"/><circle cx="507" cy="144.50" r="1.3"/><circle cx="508.2" cy="144.50" r="1.3"/><circle cx="509.4" cy="144.50" r="1.3"/><circle cx="510.6" cy="144.50" r="1.3"/><circle cx="511.9" cy="144.50" r="1.3"/><circle cx="513.1" cy="144.50" r="1.3"/><circle cx="514.3" cy="144.50" r="1.3"/><circle cx="515.5" cy="144.50" r="1.3"/><circle cx="516.7" cy="144.50" r="1.3"/></g>
<path d="M321.1 144.50L322.1 144.50L323.1 144.50L324.1 144.50L325.1 144.50L326 144.50L327 144.50L328 144.50L329 144.50L329.9 144.50L330.9 144.50L331.9 144.50L332.9 144.50L333.9 144.50L334.8 144.50L335.8 144.50L336.8 144.50L337.8 144.50L338.8 144.50L339.7 144.50L340.7 144.50L341.7 144.49L342.7 144.49L343.6 144.49L344.6 144.48L345.6 144.47L346.6 144.46L347.6 144.45L348.5 144.43L349.5 144.40L350.5 144.36L351.5 144.31L352.4 144.24L353.4 144.14L354.4 144.02L355.4 143.86L356.4 143.65L357.3 143.39L358.3 143.05L359.3 142.63L360.3 142.10L361.2 141.44L362.2 140.63L363.2 139.65L364.2 138.45L365.2 137.03L366.1 135.33L367.1 133.33L368.1 131.00L369.1 128.30L370 125.21L371 121.70L372 117.75L373 113.35L374 108.50L374.9 103.21L375.9 97.50L376.9 91.39L377.9 84.93L378.8 78.19L379.8 71.24L380.8 64.16L381.8 57.06L382.8 50.04L383.7 43.22L384.7 36.72L385.7 30.66L386.7 25.15L387.7 20.32L388.6 16.25L389.6 13.04L390.6 10.75L391.6 9.44L392.5 9.14L393.5 9.85L394.5 11.55L395.5 14.22L396.5 17.78L397.4 22.17L398.4 27.28L399.4 33.02L400.4 39.28L401.3 45.92L402.3 52.83L403.3 59.90L404.3 67.00L405.3 74.04L406.2 80.92L407.2 87.55L408.2 93.87L409.2 99.83L410.1 105.38L411.1 110.50L412.1 115.17L413.1 119.38L414.1 123.15L415 126.49L416 129.42L417 131.97L418 134.17L418.9 136.04L419.9 137.63L420.9 138.96L421.9 140.06L422.9 140.98L423.8 141.72L424.8 142.33L425.8 142.81L426.8 143.20L427.7 143.50L428.7 143.74L429.7 143.93L430.7 144.07L431.7 144.18L432.6 144.27L433.6 144.33L434.6 144.38L435.6 144.41L436.6 144.44L437.5 144.45L438.5 144.47L439.5 144.48L440.5 144.48L441.4 144.49L442.4 144.49L443.4 144.50L444.4 144.50L445.4 144.50L446.3 144.50L447.3 144.50L448.3 144.50L449.3 144.50L450.2 144.50L451.2 144.50L452.2 144.50L453.2 144.50L454.2 144.50L455.1 144.50L456.1 144.50L457.1 144.50L458.1 144.50L459 144.50L460 144.50L461 144.50L462 144.50L463 144.50L463.9 144.50L464.9 144.50L465.9 144.50L466.9 144.50L467.8 144.50L468.8 144.50L469.8 144.50L470.8 144.50L471.8 144.50L472.7 144.50L473.7 144.50L474.7 144.50L475.7 144.50L476.6 144.50L477.6 144.50L478.6 144.50L479.6 144.50L480.6 144.50L481.5 144.50L482.5 144.50L483.5 144.50L484.5 144.50L485.5 144.50L486.4 144.50L487.4 144.50L488.4 144.50L489.4 144.50L490.3 144.50L491.3 144.50L492.3 144.50L493.3 144.50L494.3 144.50L495.2 144.50L496.2 144.50L497.2 144.50L498.2 144.50L499.1 144.50L500.1 144.50L501.1 144.50L502.1 144.50L503.1 144.50L504 144.50L505 144.50L506 144.50L507 144.50L507.9 144.50L508.9 144.50L509.9 144.50L510.9 144.50L511.9 144.50L512.8 144.50L513.8 144.50L514.8 144.50L515.8 144.50L516.7 144.50" fill="none" stroke="#2a2af0" stroke-width="0.75" stroke-opacity="1" stroke-dasharray="3 1.6 0.8 1.6"/>
<rect class="bd" x="312" y="2" width="213.5" height="149"/>
<path class="tm" d="M356.6 151v3.5M405.5 151v3.5M454.4 151v3.5M503.3 151v3.5M312 144.5h-3.5M312 117.2h-3.5M312 89.8h-3.5M312 62.5h-3.5M312 35.1h-3.5M312 7.8h-3.5"/>
<text class="tk" text-anchor="middle" x="356.6" y="164.5">0.2</text>
<text class="tk" text-anchor="middle" x="405.5" y="164.5">0.4</text>
<text class="tk" text-anchor="middle" x="454.4" y="164.5">0.6</text>
<text class="tk" text-anchor="middle" x="503.3" y="164.5">0.8</text>
<text class="tk" text-anchor="end" x="305.4" y="148.4">0.00</text>
<text class="tk" text-anchor="end" x="305.4" y="121.1">0.01</text>
<text class="tk" text-anchor="end" x="305.4" y="93.7">0.02</text>
<text class="tk" text-anchor="end" x="305.4" y="66.4">0.03</text>
<text class="tk" text-anchor="end" x="305.4" y="39">0.04</text>
<text class="tk" text-anchor="end" x="305.4" y="11.7">0.05</text>
<text class="ar" text-anchor="middle" x="418.5" y="178.5">ρ</text>
<text class="ax" text-anchor="middle" transform="translate(278.5 77.1) rotate(-90)">P</text>
</g>
<g id="pd">
<rect x="312" y="251.3" width="213.5" height="148.7" fill="#fff"/>
<path class="gm" d="M321.3 251.3V400M385.7 251.3V400M450.1 251.3V400M514.5 251.3V400M312 369.3H525.5M312 321H525.5M312 272.8H525.5"/>
<path class="gM" d="M353.5 251.3V400M417.9 251.3V400M482.3 251.3V400M312 393.4H525.5M312 345.1H525.5M312 296.9H525.5"/>
<g fill="#c9a04a" fill-opacity="0.8"><circle cx="321.3" cy="393.40" r="1.3"/><circle cx="322.6" cy="393.34" r="1.3"/><circle cx="323.9" cy="393.40" r="1.3"/><circle cx="325.2" cy="393.25" r="1.3"/><circle cx="326.5" cy="393.20" r="1.3"/><circle cx="327.7" cy="393.40" r="1.3"/><circle cx="329" cy="393.40" r="1.3"/><circle cx="330.3" cy="392.86" r="1.3"/><circle cx="331.6" cy="393.40" r="1.3"/><circle cx="332.9" cy="393.40" r="1.3"/><circle cx="334.2" cy="392.55" r="1.3"/><circle cx="335.5" cy="393.12" r="1.3"/><circle cx="336.8" cy="392.64" r="1.3"/><circle cx="338" cy="392.99" r="1.3"/><circle cx="339.3" cy="392.72" r="1.3"/><circle cx="340.6" cy="393.20" r="1.3"/><circle cx="341.9" cy="392.54" r="1.3"/><circle cx="343.2" cy="392.16" r="1.3"/><circle cx="344.5" cy="392.44" r="1.3"/><circle cx="345.8" cy="392.06" r="1.3"/><circle cx="347.1" cy="391.99" r="1.3"/><circle cx="348.3" cy="392.51" r="1.3"/><circle cx="349.6" cy="391.50" r="1.3"/><circle cx="350.9" cy="391.45" r="1.3"/><circle cx="352.2" cy="391.52" r="1.3"/><circle cx="353.5" cy="391.55" r="1.3"/><circle cx="354.8" cy="390.27" r="1.3"/><circle cx="356.1" cy="390.40" r="1.3"/><circle cx="357.4" cy="389.78" r="1.3"/><circle cx="358.7" cy="389.24" r="1.3"/><circle cx="359.9" cy="389.02" r="1.3"/><circle cx="361.2" cy="388.33" r="1.3"/><circle cx="362.5" cy="388.45" r="1.3"/><circle cx="363.8" cy="387.46" r="1.3"/><circle cx="365.1" cy="387.31" r="1.3"/><circle cx="366.4" cy="386.15" r="1.3"/><circle cx="367.7" cy="385.58" r="1.3"/><circle cx="369" cy="385.78" r="1.3"/><circle cx="370.2" cy="384.97" r="1.3"/><circle cx="371.5" cy="384.06" r="1.3"/><circle cx="372.8" cy="382.33" r="1.3"/><circle cx="374.1" cy="382.05" r="1.3"/><circle cx="375.4" cy="380.90" r="1.3"/><circle cx="376.7" cy="380.32" r="1.3"/><circle cx="378" cy="379.08" r="1.3"/><circle cx="379.3" cy="378.16" r="1.3"/><circle cx="380.5" cy="377.09" r="1.3"/><circle cx="381.8" cy="375.66" r="1.3"/><circle cx="383.1" cy="374.45" r="1.3"/><circle cx="384.4" cy="372.82" r="1.3"/><circle cx="385.7" cy="371.74" r="1.3"/><circle cx="387" cy="370.02" r="1.3"/><circle cx="388.3" cy="368.58" r="1.3"/><circle cx="389.6" cy="366.84" r="1.3"/><circle cx="390.9" cy="365.61" r="1.3"/><circle cx="392.1" cy="364.59" r="1.3"/><circle cx="393.4" cy="362.12" r="1.3"/><circle cx="394.7" cy="360.30" r="1.3"/><circle cx="396" cy="358.64" r="1.3"/><circle cx="397.3" cy="357.30" r="1.3"/><circle cx="398.6" cy="355.41" r="1.3"/><circle cx="399.9" cy="354.30" r="1.3"/><circle cx="401.2" cy="351.89" r="1.3"/><circle cx="402.4" cy="350.48" r="1.3"/><circle cx="403.7" cy="349.08" r="1.3"/><circle cx="405" cy="347.56" r="1.3"/><circle cx="406.3" cy="344.77" r="1.3"/><circle cx="407.6" cy="342.64" r="1.3"/><circle cx="408.9" cy="341.68" r="1.3"/><circle cx="410.2" cy="338.88" r="1.3"/><circle cx="411.5" cy="337.45" r="1.3"/><circle cx="412.7" cy="335.99" r="1.3"/><circle cx="414" cy="334.11" r="1.3"/><circle cx="415.3" cy="331.96" r="1.3"/><circle cx="416.6" cy="330.46" r="1.3"/><circle cx="417.9" cy="330.21" r="1.3"/><circle cx="419.2" cy="328.43" r="1.3"/><circle cx="420.5" cy="328.06" r="1.3"/><circle cx="421.8" cy="326.36" r="1.3"/><circle cx="423.1" cy="326.00" r="1.3"/><circle cx="424.3" cy="324.64" r="1.3"/><circle cx="425.6" cy="323.84" r="1.3"/><circle cx="426.9" cy="323.76" r="1.3"/><circle cx="428.2" cy="322.63" r="1.3"/><circle cx="429.5" cy="322.96" r="1.3"/><circle cx="430.8" cy="322.87" r="1.3"/><circle cx="432.1" cy="321.95" r="1.3"/><circle cx="433.4" cy="322.34" r="1.3"/><circle cx="434.6" cy="321.98" r="1.3"/><circle cx="435.9" cy="321.76" r="1.3"/><circle cx="437.2" cy="321.92" r="1.3"/><circle cx="438.5" cy="323.13" r="1.3"/><circle cx="439.8" cy="324.12" r="1.3"/><circle cx="441.1" cy="324.08" r="1.3"/><circle cx="442.4" cy="325.60" r="1.3"/><circle cx="443.7" cy="325.80" r="1.3"/><circle cx="444.9" cy="326.95" r="1.3"/><circle cx="446.2" cy="328.69" r="1.3"/><circle cx="447.5" cy="329.75" r="1.3"/><circle cx="448.8" cy="330.80" r="1.3"/><circle cx="450.1" cy="331.73" r="1.3"/><circle cx="451.4" cy="332.83" r="1.3"/><circle cx="452.7" cy="333.93" r="1.3"/><circle cx="454" cy="334.93" r="1.3"/><circle cx="455.3" cy="335.69" r="1.3"/><circle cx="456.5" cy="337.36" r="1.3"/><circle cx="457.8" cy="338.66" r="1.3"/><circle cx="459.1" cy="339.57" r="1.3"/><circle cx="460.4" cy="341.43" r="1.3"/><circle cx="461.7" cy="342.73" r="1.3"/><circle cx="463" cy="343.41" r="1.3"/><circle cx="464.3" cy="345.55" r="1.3"/><circle cx="465.6" cy="347.26" r="1.3"/><circle cx="466.8" cy="349.66" r="1.3"/><circle cx="468.1" cy="350.96" r="1.3"/><circle cx="469.4" cy="352.43" r="1.3"/><circle cx="470.7" cy="354.67" r="1.3"/><circle cx="472" cy="355.55" r="1.3"/><circle cx="473.3" cy="357.06" r="1.3"/><circle cx="474.6" cy="359.21" r="1.3"/><circle cx="475.9" cy="359.98" r="1.3"/><circle cx="477.1" cy="361.55" r="1.3"/><circle cx="478.4" cy="362.64" r="1.3"/><circle cx="479.7" cy="364.32" r="1.3"/><circle cx="481" cy="365.19" r="1.3"/><circle cx="482.3" cy="366.40" r="1.3"/><circle cx="483.6" cy="368.45" r="1.3"/><circle cx="484.9" cy="369.61" r="1.3"/><circle cx="486.2" cy="370.10" r="1.3"/><circle cx="487.5" cy="370.98" r="1.3"/><circle cx="488.7" cy="373.00" r="1.3"/><circle cx="490" cy="373.94" r="1.3"/><circle cx="491.3" cy="374.92" r="1.3"/><circle cx="492.6" cy="376.31" r="1.3"/><circle cx="493.9" cy="377.28" r="1.3"/><circle cx="495.2" cy="378.28" r="1.3"/><circle cx="496.5" cy="379.10" r="1.3"/><circle cx="497.8" cy="379.69" r="1.3"/><circle cx="499" cy="380.84" r="1.3"/><circle cx="500.3" cy="381.53" r="1.3"/><circle cx="501.6" cy="381.83" r="1.3"/><circle cx="502.9" cy="383.42" r="1.3"/><circle cx="504.2" cy="383.50" r="1.3"/><circle cx="505.5" cy="384.02" r="1.3"/><circle cx="506.8" cy="385.20" r="1.3"/><circle cx="508.1" cy="385.94" r="1.3"/><circle cx="509.3" cy="385.86" r="1.3"/><circle cx="510.6" cy="387.03" r="1.3"/><circle cx="511.9" cy="387.56" r="1.3"/><circle cx="513.2" cy="387.70" r="1.3"/><circle cx="514.5" cy="387.79" r="1.3"/></g>
<path d="M321.3 393.38L322.6 393.38L323.9 393.37L325.2 393.37L326.5 393.36L327.7 393.35L329 393.34L330.3 393.33L331.6 393.32L332.9 393.30L334.2 393.28L335.5 393.26L336.8 393.24L338 393.21L339.3 393.18L340.6 393.14L341.9 393.10L343.2 393.05L344.5 392.99L345.8 392.92L347.1 392.85L348.3 392.76L349.6 392.66L350.9 392.55L352.2 392.43L353.5 392.29L354.8 392.13L356.1 391.95L357.4 391.75L358.7 391.52L359.9 391.27L361.2 390.99L362.5 390.68L363.8 390.34L365.1 389.96L366.4 389.54L367.7 389.08L369 388.58L370.2 388.02L371.5 387.42L372.8 386.77L374.1 386.05L375.4 385.28L376.7 384.45L378 383.55L379.3 382.58L380.5 381.55L381.8 380.44L383.1 379.26L384.4 378.00L385.7 376.67L387 375.26L388.3 373.78L389.6 372.22L390.9 370.58L392.1 368.86L393.4 367.08L394.7 365.22L396 363.30L397.3 361.31L398.6 359.26L399.9 357.16L401.2 355.01L402.4 352.82L403.7 350.60L405 348.34L406.3 346.07L407.6 343.80L408.9 341.52L410.2 339.25L411.5 337.00L412.7 334.78L414 332.60L415.3 330.48L416.6 328.42L417.9 326.43L419.2 324.53L420.5 322.72L421.8 321.02L423.1 319.43L424.3 317.97L425.6 316.65L426.9 315.46L428.2 314.42L429.5 313.54L430.8 312.82L432.1 312.27L433.4 311.88L434.6 311.66L435.9 311.62L437.2 311.75L438.5 312.05L439.8 312.52L441.1 313.16L442.4 313.96L443.7 314.92L444.9 316.04L446.2 317.29L447.5 318.69L448.8 320.21L450.1 321.86L451.4 323.61L452.7 325.47L454 327.41L455.3 329.44L456.5 331.53L457.8 333.69L459.1 335.88L460.4 338.12L461.7 340.38L463 342.66L464.3 344.94L465.6 347.21L466.8 349.47L468.1 351.71L469.4 353.92L470.7 356.09L472 358.22L473.3 360.29L474.6 362.31L475.9 364.27L477.1 366.16L478.4 367.98L479.7 369.73L481 371.41L482.3 373.01L483.6 374.53L484.9 375.98L486.2 377.35L487.5 378.64L488.7 379.86L490 381.00L491.3 382.08L492.6 383.08L493.9 384.01L495.2 384.87L496.5 385.68L497.8 386.42L499 387.10L500.3 387.73L501.6 388.31L502.9 388.83L504.2 389.32L505.5 389.75L506.8 390.15L508.1 390.51L509.3 390.84L510.6 391.13L511.9 391.40L513.2 391.64L514.5 391.85" fill="none" stroke="#ff2a2a" stroke-width="0.8" stroke-opacity="1"/>
<g fill="#4fd3d3" fill-opacity="0.8"><circle cx="321.3" cy="393.40" r="1.3"/><circle cx="322.6" cy="393.40" r="1.3"/><circle cx="323.9" cy="393.40" r="1.3"/><circle cx="325.2" cy="393.08" r="1.3"/><circle cx="326.5" cy="393.40" r="1.3"/><circle cx="327.7" cy="393.06" r="1.3"/><circle cx="329" cy="393.40" r="1.3"/><circle cx="330.3" cy="393.40" r="1.3"/><circle cx="331.6" cy="393.25" r="1.3"/><circle cx="332.9" cy="393.03" r="1.3"/><circle cx="334.2" cy="393.40" r="1.3"/><circle cx="335.5" cy="393.40" r="1.3"/><circle cx="336.8" cy="393.40" r="1.3"/><circle cx="338" cy="393.37" r="1.3"/><circle cx="339.3" cy="393.40" r="1.3"/><circle cx="340.6" cy="393.10" r="1.3"/><circle cx="341.9" cy="393.07" r="1.3"/><circle cx="343.2" cy="393.40" r="1.3"/><circle cx="344.5" cy="393.40" r="1.3"/><circle cx="345.8" cy="393.10" r="1.3"/><circle cx="347.1" cy="393.26" r="1.3"/><circle cx="348.3" cy="393.10" r="1.3"/><circle cx="349.6" cy="393.40" r="1.3"/><circle cx="350.9" cy="393.40" r="1.3"/><circle cx="352.2" cy="393.40" r="1.3"/><circle cx="353.5" cy="393.11" r="1.3"/><circle cx="354.8" cy="393.40" r="1.3"/><circle cx="356.1" cy="393.40" r="1.3"/><circle cx="357.4" cy="393.40" r="1.3"/><circle cx="358.7" cy="393.40" r="1.3"/><circle cx="359.9" cy="393.40" r="1.3"/><circle cx="361.2" cy="392.94" r="1.3"/><circle cx="362.5" cy="393.40" r="1.3"/><circle cx="363.8" cy="393.40" r="1.3"/><circle cx="365.1" cy="392.85" r="1.3"/><circle cx="366.4" cy="392.88" r="1.3"/><circle cx="367.7" cy="392.73" r="1.3"/><circle cx="369" cy="393.21" r="1.3"/><circle cx="370.2" cy="392.65" r="1.3"/><circle cx="371.5" cy="392.59" r="1.3"/><circle cx="372.8" cy="393.17" r="1.3"/><circle cx="374.1" cy="392.54" r="1.3"/><circle cx="375.4" cy="392.31" r="1.3"/><circle cx="376.7" cy="392.30" r="1.3"/><circle cx="378" cy="392.22" r="1.3"/><circle cx="379.3" cy="392.18" r="1.3"/><circle cx="380.5" cy="391.82" r="1.3"/><circle cx="381.8" cy="391.56" r="1.3"/><circle cx="383.1" cy="391.27" r="1.3"/><circle cx="384.4" cy="390.26" r="1.3"/><circle cx="385.7" cy="389.95" r="1.3"/><circle cx="387" cy="388.74" r="1.3"/><circle cx="388.3" cy="388.67" r="1.3"/><circle cx="389.6" cy="386.91" r="1.3"/><circle cx="390.9" cy="386.04" r="1.3"/><circle cx="392.1" cy="384.59" r="1.3"/><circle cx="393.4" cy="383.23" r="1.3"/><circle cx="394.7" cy="381.66" r="1.3"/><circle cx="396" cy="380.22" r="1.3"/><circle cx="397.3" cy="378.80" r="1.3"/><circle cx="398.6" cy="375.92" r="1.3"/><circle cx="399.9" cy="374.07" r="1.3"/><circle cx="401.2" cy="371.31" r="1.3"/><circle cx="402.4" cy="368.08" r="1.3"/><circle cx="403.7" cy="365.09" r="1.3"/><circle cx="405" cy="361.83" r="1.3"/><circle cx="406.3" cy="357.71" r="1.3"/><circle cx="407.6" cy="354.18" r="1.3"/><circle cx="408.9" cy="350.37" r="1.3"/><circle cx="410.2" cy="346.17" r="1.3"/><circle cx="411.5" cy="341.10" r="1.3"/><circle cx="412.7" cy="336.83" r="1.3"/><circle cx="414" cy="331.74" r="1.3"/><circle cx="415.3" cy="327.26" r="1.3"/><circle cx="416.6" cy="322.45" r="1.3"/><circle cx="417.9" cy="317.12" r="1.3"/><circle cx="419.2" cy="311.87" r="1.3"/><circle cx="420.5" cy="307.57" r="1.3"/><circle cx="421.8" cy="302.16" r="1.3"/><circle cx="423.1" cy="297.38" r="1.3"/><circle cx="424.3" cy="293.05" r="1.3"/><circle cx="425.6" cy="288.85" r="1.3"/><circle cx="426.9" cy="285.77" r="1.3"/><circle cx="428.2" cy="281.65" r="1.3"/><circle cx="429.5" cy="278.31" r="1.3"/><circle cx="430.8" cy="276.42" r="1.3"/><circle cx="432.1" cy="274.01" r="1.3"/><circle cx="433.4" cy="272.31" r="1.3"/><circle cx="434.6" cy="270.89" r="1.3"/><circle cx="435.9" cy="270.36" r="1.3"/><circle cx="437.2" cy="270.23" r="1.3"/><circle cx="438.5" cy="270.45" r="1.3"/><circle cx="439.8" cy="272.30" r="1.3"/><circle cx="441.1" cy="273.93" r="1.3"/><circle cx="442.4" cy="276.10" r="1.3"/><circle cx="443.7" cy="278.86" r="1.3"/><circle cx="444.9" cy="282.16" r="1.3"/><circle cx="446.2" cy="284.96" r="1.3"/><circle cx="447.5" cy="289.14" r="1.3"/><circle cx="448.8" cy="294.29" r="1.3"/><circle cx="450.1" cy="298.56" r="1.3"/><circle cx="451.4" cy="303.64" r="1.3"/><circle cx="452.7" cy="308.71" r="1.3"/><circle cx="454" cy="313.84" r="1.3"/><circle cx="455.3" cy="318.78" r="1.3"/><circle cx="456.5" cy="324.05" r="1.3"/><circle cx="457.8" cy="329.44" r="1.3"/><circle cx="459.1" cy="334.67" r="1.3"/><circle cx="460.4" cy="339.47" r="1.3"/><circle cx="461.7" cy="344.43" r="1.3"/><circle cx="463" cy="348.58" r="1.3"/><circle cx="464.3" cy="352.76" r="1.3"/><circle cx="465.6" cy="357.18" r="1.3"/><circle cx="466.8" cy="361.32" r="1.3"/><circle cx="468.1" cy="364.80" r="1.3"/><circle cx="469.4" cy="367.92" r="1.3"/><circle cx="470.7" cy="370.74" r="1.3"/><circle cx="472" cy="373.34" r="1.3"/><circle cx="473.3" cy="376.25" r="1.3"/><circle cx="474.6" cy="378.11" r="1.3"/><circle cx="475.9" cy="380.32" r="1.3"/><circle cx="477.1" cy="382.32" r="1.3"/><circle cx="478.4" cy="383.99" r="1.3"/><circle cx="479.7" cy="385.28" r="1.3"/><circle cx="481" cy="386.32" r="1.3"/><circle cx="482.3" cy="387.67" r="1.3"/><circle cx="483.6" cy="388.34" r="1.3"/><circle cx="484.9" cy="389.37" r="1.3"/><circle cx="486.2" cy="390.27" r="1.3"/><circle cx="487.5" cy="390.57" r="1.3"/><circle cx="488.7" cy="390.91" r="1.3"/><circle cx="490" cy="391.93" r="1.3"/><circle cx="491.3" cy="391.94" r="1.3"/><circle cx="492.6" cy="392.23" r="1.3"/><circle cx="493.9" cy="392.03" r="1.3"/><circle cx="495.2" cy="392.17" r="1.3"/><circle cx="496.5" cy="392.88" r="1.3"/><circle cx="497.8" cy="392.50" r="1.3"/><circle cx="499" cy="392.71" r="1.3"/><circle cx="500.3" cy="393.31" r="1.3"/><circle cx="501.6" cy="393.18" r="1.3"/><circle cx="502.9" cy="393.40" r="1.3"/><circle cx="504.2" cy="392.95" r="1.3"/><circle cx="505.5" cy="393.13" r="1.3"/><circle cx="506.8" cy="392.94" r="1.3"/><circle cx="508.1" cy="393.05" r="1.3"/><circle cx="509.3" cy="393.19" r="1.3"/><circle cx="510.6" cy="393.13" r="1.3"/><circle cx="511.9" cy="393.31" r="1.3"/><circle cx="513.2" cy="393.40" r="1.3"/><circle cx="514.5" cy="393.30" r="1.3"/></g>
<path d="M321.3 393.40L322.6 393.40L323.9 393.40L325.2 393.40L326.5 393.40L327.7 393.40L329 393.40L330.3 393.40L331.6 393.40L332.9 393.40L334.2 393.40L335.5 393.40L336.8 393.40L338 393.40L339.3 393.40L340.6 393.40L341.9 393.40L343.2 393.40L344.5 393.40L345.8 393.40L347.1 393.40L348.3 393.40L349.6 393.40L350.9 393.40L352.2 393.40L353.5 393.40L354.8 393.40L356.1 393.40L357.4 393.39L358.7 393.39L359.9 393.39L361.2 393.38L362.5 393.38L363.8 393.37L365.1 393.36L366.4 393.34L367.7 393.33L369 393.30L370.2 393.27L371.5 393.23L372.8 393.18L374.1 393.12L375.4 393.03L376.7 392.93L378 392.81L379.3 392.65L380.5 392.45L381.8 392.22L383.1 391.92L384.4 391.57L385.7 391.15L387 390.64L388.3 390.03L389.6 389.31L390.9 388.46L392.1 387.46L393.4 386.31L394.7 384.97L396 383.43L397.3 381.67L398.6 379.68L399.9 377.42L401.2 374.90L402.4 372.09L403.7 368.97L405 365.55L406.3 361.81L407.6 357.76L408.9 353.40L410.2 348.74L411.5 343.79L412.7 338.58L414 333.14L415.3 327.51L416.6 321.72L417.9 315.83L419.2 309.89L420.5 303.96L421.8 298.11L423.1 292.41L424.3 286.92L425.6 281.72L426.9 276.88L428.2 272.45L429.5 268.51L430.8 265.11L432.1 262.31L433.4 260.13L434.6 258.63L435.9 257.82L437.2 257.72L438.5 258.32L439.8 259.61L441.1 261.59L442.4 264.20L443.7 267.43L444.9 271.21L446.2 275.50L447.5 280.23L448.8 285.33L450.1 290.74L451.4 296.39L452.7 302.20L454 308.11L455.3 314.05L456.5 319.96L457.8 325.78L459.1 331.47L460.4 336.97L461.7 342.25L463 347.28L464.3 352.03L465.6 356.49L466.8 360.63L468.1 364.46L469.4 367.98L470.7 371.18L472 374.09L473.3 376.70L474.6 379.03L475.9 381.10L477.1 382.93L478.4 384.53L479.7 385.93L481 387.13L482.3 388.18L483.6 389.07L484.9 389.82L486.2 390.46L487.5 391.00L488.7 391.45L490 391.83L491.3 392.13L492.6 392.39L493.9 392.59L495.2 392.76L496.5 392.90L497.8 393.01L499 393.09L500.3 393.16L501.6 393.22L502.9 393.26L504.2 393.29L505.5 393.32L506.8 393.34L508.1 393.35L509.3 393.37L510.6 393.37L511.9 393.38L513.2 393.39L514.5 393.39" fill="none" stroke="#2a2af0" stroke-width="0.8" stroke-opacity="1" stroke-dasharray="3 1.5 0.8 1.5"/>
<rect class="bd" x="312" y="251.3" width="213.5" height="148.7"/>
<path class="tm" d="M353.5 400v3.5M417.9 400v3.5M482.3 400v3.5M312 393.4h-3.5M312 345.1h-3.5M312 296.9h-3.5"/>
<text class="tk" text-anchor="middle" x="353.5" y="413.5">0.2</text>
<text class="tk" text-anchor="middle" x="417.9" y="413.5">0.3</text>
<text class="tk" text-anchor="middle" x="482.3" y="413.5">0.4</text>
<text class="tk" text-anchor="end" x="305.4" y="397.3">0.00</text>
<text class="tk" text-anchor="end" x="305.4" y="349">0.01</text>
<text class="tk" text-anchor="end" x="305.4" y="300.8">0.02</text>
<text class="ar" text-anchor="middle" x="418.5" y="427.5">ρ</text>
<text class="ax" text-anchor="middle" transform="translate(278.5 325.6) rotate(-90)">P</text>
</g>
<g id="pf">
<rect x="326" y="473" width="199.5" height="149.5" fill="#fff"/>
<path class="gm" d="M369.2 473V622.5M436.8 473V622.5M504.2 473V622.5M326 598.9H525.5M326 565.9H525.5M326 532.8H525.5M326 499.8H525.5"/>
<path class="gM" d="M335.5 473V622.5M403 473V622.5M470.5 473V622.5M326 615.5H525.5M326 582.4H525.5M326 549.4H525.5M326 516.3H525.5M326 483.3H525.5"/>
<g fill="#c98a2a" fill-opacity="1" stroke="#4a3a08" stroke-width="0.5"><circle cx="335.5" cy="615.45" r="1.3"/><circle cx="336.2" cy="615.45" r="1.3"/><circle cx="336.9" cy="615.44" r="1.3"/><circle cx="337.5" cy="615.44" r="1.3"/><circle cx="338.2" cy="615.43" r="1.3"/><circle cx="338.9" cy="615.42" r="1.3"/><circle cx="339.6" cy="615.41" r="1.3"/><circle cx="340.2" cy="615.40" r="1.3"/><circle cx="340.9" cy="615.39" r="1.3"/><circle cx="341.6" cy="615.38" r="1.3"/><circle cx="342.2" cy="615.36" r="1.3"/><circle cx="342.9" cy="615.35" r="1.3"/><circle cx="343.6" cy="615.33" r="1.3"/><circle cx="344.3" cy="615.32" r="1.3"/><circle cx="344.9" cy="615.30" r="1.3"/><circle cx="345.6" cy="615.28" r="1.3"/><circle cx="346.3" cy="615.26" r="1.3"/><circle cx="347" cy="615.24" r="1.3"/><circle cx="347.7" cy="615.21" r="1.3"/><circle cx="348.3" cy="615.18" r="1.3"/><circle cx="349" cy="615.15" r="1.3"/><circle cx="349.7" cy="615.11" r="1.3"/><circle cx="350.4" cy="615.07" r="1.3"/><circle cx="351" cy="615.03" r="1.3"/><circle cx="351.7" cy="614.98" r="1.3"/><circle cx="352.4" cy="614.93" r="1.3"/><circle cx="353.1" cy="614.87" r="1.3"/><circle cx="353.7" cy="614.79" r="1.3"/><circle cx="354.4" cy="614.69" r="1.3"/><circle cx="355.1" cy="614.57" r="1.3"/><circle cx="355.8" cy="614.43" r="1.3"/><circle cx="356.4" cy="614.28" r="1.3"/><circle cx="357.1" cy="614.12" r="1.3"/><circle cx="357.8" cy="613.94" r="1.3"/><circle cx="358.4" cy="613.75" r="1.3"/><circle cx="359.1" cy="613.56" r="1.3"/><circle cx="359.8" cy="613.35" r="1.3"/><circle cx="360.5" cy="613.14" r="1.3"/><circle cx="361.1" cy="612.91" r="1.3"/><circle cx="361.8" cy="612.64" r="1.3"/><circle cx="362.5" cy="612.35" r="1.3"/><circle cx="363.2" cy="612.03" r="1.3"/><circle cx="363.9" cy="611.69" r="1.3"/><circle cx="364.5" cy="611.33" r="1.3"/><circle cx="365.2" cy="610.96" r="1.3"/><circle cx="365.9" cy="610.58" r="1.3"/><circle cx="366.6" cy="610.19" r="1.3"/><circle cx="367.2" cy="609.79" r="1.3"/><circle cx="367.9" cy="609.40" r="1.3"/><circle cx="368.6" cy="609.00" r="1.3"/><circle cx="369.2" cy="608.57" r="1.3"/><circle cx="369.9" cy="608.13" r="1.3"/><circle cx="370.6" cy="607.68" r="1.3"/><circle cx="371.3" cy="607.21" r="1.3"/><circle cx="371.9" cy="606.73" r="1.3"/><circle cx="372.6" cy="606.24" r="1.3"/><circle cx="373.3" cy="605.75" r="1.3"/><circle cx="374" cy="605.24" r="1.3"/><circle cx="374.6" cy="604.74" r="1.3"/><circle cx="375.3" cy="604.23" r="1.3"/><circle cx="376" cy="603.72" r="1.3"/><circle cx="376.7" cy="603.19" r="1.3"/><circle cx="377.4" cy="602.65" r="1.3"/><circle cx="378" cy="602.10" r="1.3"/><circle cx="378.7" cy="601.54" r="1.3"/><circle cx="379.4" cy="600.97" r="1.3"/><circle cx="380.1" cy="600.41" r="1.3"/><circle cx="380.7" cy="599.84" r="1.3"/><circle cx="381.4" cy="599.29" r="1.3"/><circle cx="382.1" cy="598.74" r="1.3"/><circle cx="382.8" cy="598.20" r="1.3"/><circle cx="383.4" cy="597.67" r="1.3"/><circle cx="384.1" cy="597.13" r="1.3"/><circle cx="384.8" cy="596.59" r="1.3"/><circle cx="385.4" cy="596.04" r="1.3"/><circle cx="386.1" cy="595.50" r="1.3"/><circle cx="386.8" cy="594.97" r="1.3"/><circle cx="387.5" cy="594.45" r="1.3"/><circle cx="388.2" cy="593.94" r="1.3"/><circle cx="388.8" cy="593.46" r="1.3"/><circle cx="389.5" cy="592.99" r="1.3"/><circle cx="390.2" cy="592.56" r="1.3"/><circle cx="390.9" cy="592.15" r="1.3"/><circle cx="391.5" cy="591.75" r="1.3"/><circle cx="392.2" cy="591.36" r="1.3"/><circle cx="392.9" cy="590.97" r="1.3"/><circle cx="393.6" cy="590.59" r="1.3"/><circle cx="394.2" cy="590.23" r="1.3"/><circle cx="394.9" cy="589.89" r="1.3"/><circle cx="395.6" cy="589.56" r="1.3"/><circle cx="396.2" cy="589.27" r="1.3"/><circle cx="396.9" cy="589.00" r="1.3"/><circle cx="397.6" cy="588.77" r="1.3"/><circle cx="398.3" cy="588.58" r="1.3"/><circle cx="399" cy="588.40" r="1.3"/><circle cx="399.6" cy="588.23" r="1.3"/><circle cx="400.3" cy="588.06" r="1.3"/><circle cx="401" cy="587.90" r="1.3"/><circle cx="401.7" cy="587.75" r="1.3"/><circle cx="402.3" cy="587.63" r="1.3"/><circle cx="403" cy="587.53" r="1.3"/><circle cx="403.7" cy="587.45" r="1.3"/><circle cx="404.4" cy="587.41" r="1.3"/><circle cx="405" cy="587.40" r="1.3"/><circle cx="405.7" cy="587.43" r="1.3"/><circle cx="406.4" cy="587.48" r="1.3"/><circle cx="407" cy="587.56" r="1.3"/><circle cx="407.7" cy="587.65" r="1.3"/><circle cx="408.4" cy="587.77" r="1.3"/><circle cx="409.1" cy="587.90" r="1.3"/><circle cx="409.8" cy="588.04" r="1.3"/><circle cx="410.4" cy="588.18" r="1.3"/><circle cx="411.1" cy="588.33" r="1.3"/><circle cx="411.8" cy="588.49" r="1.3"/><circle cx="412.4" cy="588.69" r="1.3"/><circle cx="413.1" cy="588.93" r="1.3"/><circle cx="413.8" cy="589.19" r="1.3"/><circle cx="414.5" cy="589.49" r="1.3"/><circle cx="415.1" cy="589.81" r="1.3"/><circle cx="415.8" cy="590.15" r="1.3"/><circle cx="416.5" cy="590.50" r="1.3"/><circle cx="417.2" cy="590.85" r="1.3"/><circle cx="417.9" cy="591.21" r="1.3"/><circle cx="418.5" cy="591.56" r="1.3"/><circle cx="419.2" cy="591.90" r="1.3"/><circle cx="419.9" cy="592.26" r="1.3"/><circle cx="420.6" cy="592.65" r="1.3"/><circle cx="421.2" cy="593.04" r="1.3"/><circle cx="421.9" cy="593.45" r="1.3"/><circle cx="422.6" cy="593.85" r="1.3"/><circle cx="423.2" cy="594.24" r="1.3"/><circle cx="423.9" cy="594.61" r="1.3"/><circle cx="424.6" cy="594.95" r="1.3"/><circle cx="425.3" cy="595.27" r="1.3"/><circle cx="425.9" cy="595.57" r="1.3"/><circle cx="426.6" cy="595.85" r="1.3"/><circle cx="427.3" cy="596.13" r="1.3"/><circle cx="428" cy="596.40" r="1.3"/><circle cx="428.6" cy="596.66" r="1.3"/><circle cx="429.3" cy="596.93" r="1.3"/><circle cx="430" cy="597.20" r="1.3"/><circle cx="430.7" cy="597.47" r="1.3"/><circle cx="431.4" cy="597.75" r="1.3"/><circle cx="432" cy="598.02" r="1.3"/><circle cx="432.7" cy="598.30" r="1.3"/><circle cx="433.4" cy="598.56" r="1.3"/><circle cx="434" cy="598.83" r="1.3"/><circle cx="434.7" cy="599.08" r="1.3"/><circle cx="435.4" cy="599.33" r="1.3"/><circle cx="436.1" cy="599.57" r="1.3"/><circle cx="436.8" cy="599.81" r="1.3"/><circle cx="437.4" cy="600.05" r="1.3"/><circle cx="438.1" cy="600.28" r="1.3"/><circle cx="438.8" cy="600.51" r="1.3"/><circle cx="439.4" cy="600.74" r="1.3"/><circle cx="440.1" cy="600.96" r="1.3"/><circle cx="440.8" cy="601.16" r="1.3"/><circle cx="441.5" cy="601.36" r="1.3"/><circle cx="442.1" cy="601.54" r="1.3"/><circle cx="442.8" cy="601.71" r="1.3"/><circle cx="443.5" cy="601.87" r="1.3"/><circle cx="444.2" cy="602.01" r="1.3"/><circle cx="444.8" cy="602.14" r="1.3"/><circle cx="445.5" cy="602.27" r="1.3"/><circle cx="446.2" cy="602.39" r="1.3"/><circle cx="446.9" cy="602.51" r="1.3"/><circle cx="447.5" cy="602.62" r="1.3"/><circle cx="448.2" cy="602.72" r="1.3"/><circle cx="448.9" cy="602.83" r="1.3"/><circle cx="449.6" cy="602.93" r="1.3"/><circle cx="450.2" cy="603.03" r="1.3"/><circle cx="450.9" cy="603.13" r="1.3"/><circle cx="451.6" cy="603.23" r="1.3"/><circle cx="452.3" cy="603.33" r="1.3"/><circle cx="452.9" cy="603.42" r="1.3"/><circle cx="453.6" cy="603.51" r="1.3"/><circle cx="454.3" cy="603.60" r="1.3"/><circle cx="455" cy="603.68" r="1.3"/><circle cx="455.6" cy="603.77" r="1.3"/><circle cx="456.3" cy="603.85" r="1.3"/><circle cx="457" cy="603.94" r="1.3"/><circle cx="457.7" cy="604.02" r="1.3"/><circle cx="458.4" cy="604.11" r="1.3"/><circle cx="459" cy="604.19" r="1.3"/><circle cx="459.7" cy="604.27" r="1.3"/><circle cx="460.4" cy="604.34" r="1.3"/><circle cx="461.1" cy="604.42" r="1.3"/><circle cx="461.7" cy="604.49" r="1.3"/><circle cx="462.4" cy="604.56" r="1.3"/><circle cx="463.1" cy="604.64" r="1.3"/><circle cx="463.8" cy="604.72" r="1.3"/><circle cx="464.4" cy="604.80" r="1.3"/><circle cx="465.1" cy="604.89" r="1.3"/><circle cx="465.8" cy="604.98" r="1.3"/><circle cx="466.5" cy="605.08" r="1.3"/><circle cx="467.1" cy="605.19" r="1.3"/><circle cx="467.8" cy="605.30" r="1.3"/><circle cx="468.5" cy="605.41" r="1.3"/><circle cx="469.1" cy="605.53" r="1.3"/><circle cx="469.8" cy="605.66" r="1.3"/><circle cx="470.5" cy="605.79" r="1.3"/><circle cx="471.2" cy="605.92" r="1.3"/><circle cx="471.9" cy="606.06" r="1.3"/><circle cx="472.5" cy="606.19" r="1.3"/><circle cx="473.2" cy="606.34" r="1.3"/><circle cx="473.9" cy="606.48" r="1.3"/><circle cx="474.6" cy="606.63" r="1.3"/><circle cx="475.2" cy="606.79" r="1.3"/><circle cx="475.9" cy="606.96" r="1.3"/><circle cx="476.6" cy="607.13" r="1.3"/><circle cx="477.2" cy="607.31" r="1.3"/><circle cx="477.9" cy="607.49" r="1.3"/><circle cx="478.6" cy="607.67" r="1.3"/><circle cx="479.3" cy="607.85" r="1.3"/><circle cx="480" cy="608.03" r="1.3"/><circle cx="480.6" cy="608.20" r="1.3"/><circle cx="481.3" cy="608.38" r="1.3"/><circle cx="482" cy="608.55" r="1.3"/><circle cx="482.6" cy="608.73" r="1.3"/><circle cx="483.3" cy="608.91" r="1.3"/><circle cx="484" cy="609.09" r="1.3"/><circle cx="484.7" cy="609.27" r="1.3"/><circle cx="485.4" cy="609.45" r="1.3"/><circle cx="486" cy="609.63" r="1.3"/><circle cx="486.7" cy="609.81" r="1.3"/><circle cx="487.4" cy="609.98" r="1.3"/><circle cx="488.1" cy="610.16" r="1.3"/><circle cx="488.7" cy="610.33" r="1.3"/><circle cx="489.4" cy="610.51" r="1.3"/><circle cx="490.1" cy="610.68" r="1.3"/><circle cx="490.8" cy="610.86" r="1.3"/><circle cx="491.4" cy="611.04" r="1.3"/><circle cx="492.1" cy="611.21" r="1.3"/><circle cx="492.8" cy="611.39" r="1.3"/><circle cx="493.5" cy="611.56" r="1.3"/><circle cx="494.1" cy="611.73" r="1.3"/><circle cx="494.8" cy="611.89" r="1.3"/><circle cx="495.5" cy="612.04" r="1.3"/><circle cx="496.2" cy="612.19" r="1.3"/><circle cx="496.8" cy="612.33" r="1.3"/><circle cx="497.5" cy="612.47" r="1.3"/><circle cx="498.2" cy="612.60" r="1.3"/><circle cx="498.9" cy="612.73" r="1.3"/><circle cx="499.5" cy="612.86" r="1.3"/><circle cx="500.2" cy="612.98" r="1.3"/><circle cx="500.9" cy="613.10" r="1.3"/><circle cx="501.6" cy="613.22" r="1.3"/><circle cx="502.2" cy="613.34" r="1.3"/><circle cx="502.9" cy="613.45" r="1.3"/><circle cx="503.6" cy="613.56" r="1.3"/><circle cx="504.2" cy="613.67" r="1.3"/><circle cx="504.9" cy="613.78" r="1.3"/><circle cx="505.6" cy="613.89" r="1.3"/><circle cx="506.3" cy="613.99" r="1.3"/><circle cx="506.9" cy="614.09" r="1.3"/><circle cx="507.6" cy="614.19" r="1.3"/><circle cx="508.3" cy="614.29" r="1.3"/><circle cx="509" cy="614.38" r="1.3"/><circle cx="509.6" cy="614.48" r="1.3"/><circle cx="510.3" cy="614.56" r="1.3"/><circle cx="511" cy="614.65" r="1.3"/><circle cx="511.7" cy="614.73" r="1.3"/><circle cx="512.4" cy="614.81" r="1.3"/><circle cx="513" cy="614.89" r="1.3"/><circle cx="513.7" cy="614.97" r="1.3"/><circle cx="514.4" cy="615.04" r="1.3"/><circle cx="515" cy="615.12" r="1.3"/><circle cx="515.7" cy="615.19" r="1.3"/><circle cx="516.4" cy="615.25" r="1.3"/><circle cx="517.1" cy="615.32" r="1.3"/><circle cx="517.8" cy="615.38" r="1.3"/><circle cx="518.4" cy="615.44" r="1.3"/></g>
<path d="M335.5 615.45L336.2 615.45L336.9 615.44L337.5 615.44L338.2 615.43L338.9 615.42L339.6 615.41L340.2 615.40L340.9 615.39L341.6 615.38L342.2 615.36L342.9 615.35L343.6 615.33L344.3 615.32L344.9 615.30L345.6 615.28L346.3 615.26L347 615.24L347.7 615.21L348.3 615.18L349 615.15L349.7 615.11L350.4 615.07L351 615.03L351.7 614.98L352.4 614.93L353.1 614.87L353.7 614.79L354.4 614.69L355.1 614.57L355.8 614.43L356.4 614.28L357.1 614.12L357.8 613.94L358.4 613.75L359.1 613.56L359.8 613.35L360.5 613.14L361.1 612.91L361.8 612.64L362.5 612.35L363.2 612.03L363.9 611.69L364.5 611.33L365.2 610.96L365.9 610.58L366.6 610.19L367.2 609.79L367.9 609.40L368.6 609.00L369.2 608.57L369.9 608.13L370.6 607.68L371.3 607.21L371.9 606.73L372.6 606.24L373.3 605.75L374 605.24L374.6 604.74L375.3 604.23L376 603.72L376.7 603.19L377.4 602.65L378 602.10L378.7 601.54L379.4 600.97L380.1 600.41L380.7 599.84L381.4 599.29L382.1 598.74L382.8 598.20L383.4 597.67L384.1 597.13L384.8 596.59L385.4 596.04L386.1 595.50L386.8 594.97L387.5 594.45L388.2 593.94L388.8 593.46L389.5 592.99L390.2 592.56L390.9 592.15L391.5 591.75L392.2 591.36L392.9 590.97L393.6 590.59L394.2 590.23L394.9 589.89L395.6 589.56L396.2 589.27L396.9 589.00L397.6 588.77L398.3 588.58L399 588.40L399.6 588.23L400.3 588.06L401 587.90L401.7 587.75L402.3 587.63L403 587.53L403.7 587.45L404.4 587.41L405 587.40L405.7 587.43L406.4 587.48L407 587.56L407.7 587.65L408.4 587.77L409.1 587.90L409.8 588.04L410.4 588.18L411.1 588.33L411.8 588.49L412.4 588.69L413.1 588.93L413.8 589.19L414.5 589.49L415.1 589.81L415.8 590.15L416.5 590.50L417.2 590.85L417.9 591.21L418.5 591.56L419.2 591.90L419.9 592.26L420.6 592.65L421.2 593.04L421.9 593.45L422.6 593.85L423.2 594.24L423.9 594.61L424.6 594.95L425.3 595.27L425.9 595.57L426.6 595.85L427.3 596.13L428 596.40L428.6 596.66L429.3 596.93L430 597.20L430.7 597.47L431.4 597.75L432 598.02L432.7 598.30L433.4 598.56L434 598.83L434.7 599.08L435.4 599.33L436.1 599.57L436.8 599.81L437.4 600.05L438.1 600.28L438.8 600.51L439.4 600.74L440.1 600.96L440.8 601.16L441.5 601.36L442.1 601.54L442.8 601.71L443.5 601.87L444.2 602.01L444.8 602.14L445.5 602.27L446.2 602.39L446.9 602.51L447.5 602.62L448.2 602.72L448.9 602.83L449.6 602.93L450.2 603.03L450.9 603.13L451.6 603.23L452.3 603.33L452.9 603.42L453.6 603.51L454.3 603.60L455 603.68L455.6 603.77L456.3 603.85L457 603.94L457.7 604.02L458.4 604.11L459 604.19L459.7 604.27L460.4 604.34L461.1 604.42L461.7 604.49L462.4 604.56L463.1 604.64L463.8 604.72L464.4 604.80L465.1 604.89L465.8 604.98L466.5 605.08L467.1 605.19L467.8 605.30L468.5 605.41L469.1 605.53L469.8 605.66L470.5 605.79L471.2 605.92L471.9 606.06L472.5 606.19L473.2 606.34L473.9 606.48L474.6 606.63L475.2 606.79L475.9 606.96L476.6 607.13L477.2 607.31L477.9 607.49L478.6 607.67L479.3 607.85L480 608.03L480.6 608.20L481.3 608.38L482 608.55L482.6 608.73L483.3 608.91L484 609.09L484.7 609.27L485.4 609.45L486 609.63L486.7 609.81L487.4 609.98L488.1 610.16L488.7 610.33L489.4 610.51L490.1 610.68L490.8 610.86L491.4 611.04L492.1 611.21L492.8 611.39L493.5 611.56L494.1 611.73L494.8 611.89L495.5 612.04L496.2 612.19L496.8 612.33L497.5 612.47L498.2 612.60L498.9 612.73L499.5 612.86L500.2 612.98L500.9 613.10L501.6 613.22L502.2 613.34L502.9 613.45L503.6 613.56L504.2 613.67L504.9 613.78L505.6 613.89L506.3 613.99L506.9 614.09L507.6 614.19L508.3 614.29L509 614.38L509.6 614.48L510.3 614.56L511 614.65L511.7 614.73L512.4 614.81L513 614.89L513.7 614.97L514.4 615.04L515 615.12L515.7 615.19L516.4 615.25L517.1 615.32L517.8 615.38L518.4 615.44" fill="none" stroke="#e2431a" stroke-width="1.1" stroke-opacity="1"/>
<g fill="#38d4ec" fill-opacity="1" stroke="#0a5565" stroke-width="0.3"><circle cx="335.5" cy="615.45" r="1.2"/><circle cx="335.8" cy="615.45" r="1.2"/><circle cx="336.2" cy="615.45" r="1.2"/><circle cx="336.5" cy="615.45" r="1.2"/><circle cx="336.9" cy="615.45" r="1.2"/><circle cx="337.2" cy="615.45" r="1.2"/><circle cx="337.5" cy="615.45" r="1.2"/><circle cx="337.9" cy="615.45" r="1.2"/><circle cx="338.2" cy="615.45" r="1.2"/><circle cx="338.5" cy="615.45" r="1.2"/><circle cx="338.9" cy="615.45" r="1.2"/><circle cx="339.2" cy="615.45" r="1.2"/><circle cx="339.6" cy="615.45" r="1.2"/><circle cx="339.9" cy="615.45" r="1.2"/><circle cx="340.2" cy="615.45" r="1.2"/><circle cx="340.6" cy="615.45" r="1.2"/><circle cx="340.9" cy="615.45" r="1.2"/><circle cx="341.2" cy="615.45" r="1.2"/><circle cx="341.6" cy="615.45" r="1.2"/><circle cx="341.9" cy="615.45" r="1.2"/><circle cx="342.2" cy="615.45" r="1.2"/><circle cx="342.6" cy="615.45" r="1.2"/><circle cx="342.9" cy="615.45" r="1.2"/><circle cx="343.3" cy="615.45" r="1.2"/><circle cx="343.6" cy="615.45" r="1.2"/><circle cx="343.9" cy="615.45" r="1.2"/><circle cx="344.3" cy="615.45" r="1.2"/><circle cx="344.6" cy="615.45" r="1.2"/><circle cx="344.9" cy="615.45" r="1.2"/><circle cx="345.3" cy="615.45" r="1.2"/><circle cx="345.6" cy="615.45" r="1.2"/><circle cx="346" cy="615.45" r="1.2"/><circle cx="346.3" cy="615.45" r="1.2"/><circle cx="346.6" cy="615.45" r="1.2"/><circle cx="347" cy="615.45" r="1.2"/><circle cx="347.3" cy="615.45" r="1.2"/><circle cx="347.7" cy="615.45" r="1.2"/><circle cx="348" cy="615.45" r="1.2"/><circle cx="348.3" cy="615.45" r="1.2"/><circle cx="348.7" cy="615.45" r="1.2"/><circle cx="349" cy="615.45" r="1.2"/><circle cx="349.3" cy="615.45" r="1.2"/><circle cx="349.7" cy="615.45" r="1.2"/><circle cx="350" cy="615.45" r="1.2"/><circle cx="350.4" cy="615.45" r="1.2"/><circle cx="350.7" cy="615.45" r="1.2"/><circle cx="351" cy="615.45" r="1.2"/><circle cx="351.4" cy="615.45" r="1.2"/><circle cx="351.7" cy="615.45" r="1.2"/><circle cx="352" cy="615.45" r="1.2"/><circle cx="352.4" cy="615.45" r="1.2"/><circle cx="352.7" cy="615.45" r="1.2"/><circle cx="353.1" cy="615.45" r="1.2"/><circle cx="353.4" cy="615.45" r="1.2"/><circle cx="353.7" cy="615.45" r="1.2"/><circle cx="354.1" cy="615.45" r="1.2"/><circle cx="354.4" cy="615.45" r="1.2"/><circle cx="354.7" cy="615.45" r="1.2"/><circle cx="355.1" cy="615.45" r="1.2"/><circle cx="355.4" cy="615.45" r="1.2"/><circle cx="355.8" cy="615.45" r="1.2"/><circle cx="356.1" cy="615.45" r="1.2"/><circle cx="356.4" cy="615.45" r="1.2"/><circle cx="356.8" cy="615.45" r="1.2"/><circle cx="357.1" cy="615.45" r="1.2"/><circle cx="357.4" cy="615.45" r="1.2"/><circle cx="357.8" cy="615.45" r="1.2"/><circle cx="358.1" cy="615.45" r="1.2"/><circle cx="358.4" cy="615.45" r="1.2"/><circle cx="358.8" cy="615.45" r="1.2"/><circle cx="359.1" cy="615.45" r="1.2"/><circle cx="359.5" cy="615.45" r="1.2"/><circle cx="359.8" cy="615.45" r="1.2"/><circle cx="360.1" cy="615.45" r="1.2"/><circle cx="360.5" cy="615.45" r="1.2"/><circle cx="360.8" cy="615.45" r="1.2"/><circle cx="361.1" cy="615.45" r="1.2"/><circle cx="361.5" cy="615.45" r="1.2"/><circle cx="361.8" cy="615.45" r="1.2"/><circle cx="362.2" cy="615.45" r="1.2"/><circle cx="362.5" cy="615.45" r="1.2"/><circle cx="362.8" cy="615.45" r="1.2"/><circle cx="363.2" cy="615.45" r="1.2"/><circle cx="363.5" cy="615.45" r="1.2"/><circle cx="363.9" cy="615.45" r="1.2"/><circle cx="364.2" cy="615.45" r="1.2"/><circle cx="364.5" cy="615.45" r="1.2"/><circle cx="364.9" cy="615.45" r="1.2"/><circle cx="365.2" cy="615.45" r="1.2"/><circle cx="365.5" cy="615.45" r="1.2"/><circle cx="365.9" cy="615.45" r="1.2"/><circle cx="366.2" cy="615.45" r="1.2"/><circle cx="366.6" cy="615.45" r="1.2"/><circle cx="366.9" cy="615.45" r="1.2"/><circle cx="367.2" cy="615.45" r="1.2"/><circle cx="367.6" cy="615.45" r="1.2"/><circle cx="367.9" cy="615.45" r="1.2"/><circle cx="368.2" cy="615.45" r="1.2"/><circle cx="368.6" cy="615.45" r="1.2"/><circle cx="368.9" cy="615.45" r="1.2"/><circle cx="369.2" cy="615.45" r="1.2"/><circle cx="369.6" cy="615.45" r="1.2"/><circle cx="369.9" cy="615.45" r="1.2"/><circle cx="370.3" cy="615.45" r="1.2"/><circle cx="370.6" cy="615.45" r="1.2"/><circle cx="370.9" cy="615.45" r="1.2"/><circle cx="371.3" cy="615.45" r="1.2"/><circle cx="371.6" cy="615.45" r="1.2"/><circle cx="371.9" cy="615.45" r="1.2"/><circle cx="372.3" cy="615.45" r="1.2"/><circle cx="372.6" cy="615.45" r="1.2"/><circle cx="373" cy="615.45" r="1.2"/><circle cx="373.3" cy="615.45" r="1.2"/><circle cx="373.6" cy="615.45" r="1.2"/><circle cx="374" cy="615.45" r="1.2"/><circle cx="374.3" cy="615.45" r="1.2"/><circle cx="374.6" cy="615.45" r="1.2"/><circle cx="375" cy="615.45" r="1.2"/><circle cx="375.3" cy="615.45" r="1.2"/><circle cx="375.7" cy="615.45" r="1.2"/><circle cx="376" cy="615.45" r="1.2"/><circle cx="376.3" cy="615.45" r="1.2"/><circle cx="376.7" cy="615.45" r="1.2"/><circle cx="377" cy="615.45" r="1.2"/><circle cx="377.4" cy="615.45" r="1.2"/><circle cx="377.7" cy="615.45" r="1.2"/><circle cx="378" cy="615.45" r="1.2"/><circle cx="378.4" cy="615.45" r="1.2"/><circle cx="378.7" cy="615.45" r="1.2"/><circle cx="379" cy="615.45" r="1.2"/><circle cx="379.4" cy="615.45" r="1.2"/><circle cx="379.7" cy="615.45" r="1.2"/><circle cx="380.1" cy="615.45" r="1.2"/><circle cx="380.4" cy="615.45" r="1.2"/><circle cx="380.7" cy="615.45" r="1.2"/><circle cx="381.1" cy="615.45" r="1.2"/><circle cx="381.4" cy="615.45" r="1.2"/><circle cx="381.7" cy="615.45" r="1.2"/><circle cx="382.1" cy="615.45" r="1.2"/><circle cx="382.4" cy="615.45" r="1.2"/><circle cx="382.8" cy="615.45" r="1.2"/><circle cx="383.1" cy="615.45" r="1.2"/><circle cx="383.4" cy="615.45" r="1.2"/><circle cx="383.8" cy="615.45" r="1.2"/><circle cx="384.1" cy="615.45" r="1.2"/><circle cx="384.4" cy="615.45" r="1.2"/><circle cx="384.8" cy="615.45" r="1.2"/><circle cx="385.1" cy="615.45" r="1.2"/><circle cx="385.4" cy="615.45" r="1.2"/><circle cx="385.8" cy="615.45" r="1.2"/><circle cx="386.1" cy="615.45" r="1.2"/><circle cx="386.5" cy="615.45" r="1.2"/><circle cx="386.8" cy="615.45" r="1.2"/><circle cx="387.1" cy="615.45" r="1.2"/><circle cx="387.5" cy="615.45" r="1.2"/><circle cx="387.8" cy="615.45" r="1.2"/><circle cx="388.2" cy="615.45" r="1.2"/><circle cx="388.5" cy="615.45" r="1.2"/><circle cx="388.8" cy="615.45" r="1.2"/><circle cx="389.2" cy="615.45" r="1.2"/><circle cx="389.5" cy="615.45" r="1.2"/><circle cx="389.8" cy="615.45" r="1.2"/><circle cx="390.2" cy="615.45" r="1.2"/><circle cx="390.5" cy="615.45" r="1.2"/><circle cx="390.9" cy="615.45" r="1.2"/><circle cx="391.2" cy="615.45" r="1.2"/><circle cx="391.5" cy="615.45" r="1.2"/><circle cx="391.9" cy="615.45" r="1.2"/><circle cx="392.2" cy="615.45" r="1.2"/><circle cx="392.5" cy="615.45" r="1.2"/><circle cx="392.9" cy="615.45" r="1.2"/><circle cx="393.2" cy="615.45" r="1.2"/><circle cx="393.6" cy="615.45" r="1.2"/><circle cx="393.9" cy="615.45" r="1.2"/><circle cx="394.2" cy="615.45" r="1.2"/><circle cx="394.6" cy="615.45" r="1.2"/><circle cx="394.9" cy="615.45" r="1.2"/><circle cx="395.2" cy="615.45" r="1.2"/><circle cx="395.6" cy="615.45" r="1.2"/><circle cx="395.9" cy="615.45" r="1.2"/><circle cx="396.2" cy="615.45" r="1.2"/><circle cx="396.6" cy="615.45" r="1.2"/><circle cx="396.9" cy="615.45" r="1.2"/><circle cx="397.3" cy="615.45" r="1.2"/><circle cx="397.6" cy="615.45" r="1.2"/><circle cx="397.9" cy="615.45" r="1.2"/><circle cx="398.3" cy="615.45" r="1.2"/><circle cx="398.6" cy="615.45" r="1.2"/><circle cx="399" cy="615.45" r="1.2"/><circle cx="399.3" cy="615.45" r="1.2"/><circle cx="399.6" cy="615.45" r="1.2"/><circle cx="400" cy="615.45" r="1.2"/><circle cx="400.3" cy="615.45" r="1.2"/><circle cx="400.6" cy="615.45" r="1.2"/><circle cx="401" cy="615.45" r="1.2"/><circle cx="401.3" cy="615.45" r="1.2"/><circle cx="401.7" cy="615.45" r="1.2"/><circle cx="402" cy="615.45" r="1.2"/><circle cx="402.3" cy="615.45" r="1.2"/><circle cx="402.7" cy="615.45" r="1.2"/><circle cx="403" cy="615.45" r="1.2"/><circle cx="403.3" cy="615.45" r="1.2"/><circle cx="403.7" cy="615.45" r="1.2"/><circle cx="404" cy="615.45" r="1.2"/><circle cx="404.4" cy="615.45" r="1.2"/><circle cx="404.7" cy="615.45" r="1.2"/><circle cx="405" cy="615.45" r="1.2"/><circle cx="405.4" cy="615.45" r="1.2"/><circle cx="405.7" cy="615.45" r="1.2"/><circle cx="406" cy="615.45" r="1.2"/><circle cx="406.4" cy="615.45" r="1.2"/><circle cx="406.7" cy="615.45" r="1.2"/><circle cx="407" cy="615.45" r="1.2"/><circle cx="407.4" cy="615.44" r="1.2"/><circle cx="407.7" cy="615.44" r="1.2"/><circle cx="408.1" cy="615.44" r="1.2"/><circle cx="408.4" cy="615.44" r="1.2"/><circle cx="408.7" cy="615.44" r="1.2"/><circle cx="409.1" cy="615.43" r="1.2"/><circle cx="409.4" cy="615.43" r="1.2"/><circle cx="409.8" cy="615.42" r="1.2"/><circle cx="410.1" cy="615.41" r="1.2"/><circle cx="410.4" cy="615.40" r="1.2"/><circle cx="410.8" cy="615.39" r="1.2"/><circle cx="411.1" cy="615.38" r="1.2"/><circle cx="411.4" cy="615.36" r="1.2"/><circle cx="411.8" cy="615.34" r="1.2"/><circle cx="412.1" cy="615.32" r="1.2"/><circle cx="412.4" cy="615.29" r="1.2"/><circle cx="412.8" cy="615.25" r="1.2"/><circle cx="413.1" cy="615.21" r="1.2"/><circle cx="413.5" cy="615.15" r="1.2"/><circle cx="413.8" cy="615.09" r="1.2"/><circle cx="414.1" cy="615.02" r="1.2"/><circle cx="414.5" cy="614.93" r="1.2"/><circle cx="414.8" cy="614.82" r="1.2"/><circle cx="415.1" cy="614.70" r="1.2"/><circle cx="415.5" cy="614.55" r="1.2"/><circle cx="415.8" cy="614.38" r="1.2"/><circle cx="416.2" cy="614.18" r="1.2"/><circle cx="416.5" cy="613.94" r="1.2"/><circle cx="416.8" cy="613.67" r="1.2"/><circle cx="417.2" cy="613.36" r="1.2"/><circle cx="417.5" cy="613.00" r="1.2"/><circle cx="417.9" cy="612.59" r="1.2"/><circle cx="418.2" cy="612.12" r="1.2"/><circle cx="418.5" cy="611.58" r="1.2"/><circle cx="418.9" cy="610.97" r="1.2"/><circle cx="419.2" cy="610.28" r="1.2"/><circle cx="419.5" cy="609.50" r="1.2"/><circle cx="419.9" cy="608.62" r="1.2"/><circle cx="420.2" cy="607.64" r="1.2"/><circle cx="420.6" cy="606.54" r="1.2"/><circle cx="420.9" cy="605.33" r="1.2"/><circle cx="421.2" cy="603.98" r="1.2"/><circle cx="421.6" cy="602.49" r="1.2"/><circle cx="421.9" cy="600.86" r="1.2"/><circle cx="422.2" cy="599.07" r="1.2"/><circle cx="422.6" cy="597.11" r="1.2"/><circle cx="422.9" cy="594.99" r="1.2"/><circle cx="423.2" cy="592.69" r="1.2"/><circle cx="423.6" cy="590.21" r="1.2"/><circle cx="423.9" cy="587.55" r="1.2"/><circle cx="424.3" cy="584.70" r="1.2"/><circle cx="424.6" cy="581.66" r="1.2"/><circle cx="424.9" cy="578.44" r="1.2"/><circle cx="425.3" cy="575.04" r="1.2"/><circle cx="425.6" cy="571.46" r="1.2"/><circle cx="425.9" cy="567.71" r="1.2"/><circle cx="426.3" cy="563.80" r="1.2"/><circle cx="426.6" cy="559.74" r="1.2"/><circle cx="427" cy="555.55" r="1.2"/><circle cx="427.3" cy="551.24" r="1.2"/><circle cx="427.6" cy="546.84" r="1.2"/><circle cx="428" cy="542.36" r="1.2"/><circle cx="428.3" cy="537.82" r="1.2"/><circle cx="428.6" cy="533.26" r="1.2"/><circle cx="429" cy="528.70" r="1.2"/><circle cx="429.3" cy="524.17" r="1.2"/><circle cx="429.7" cy="519.70" r="1.2"/><circle cx="430" cy="515.31" r="1.2"/><circle cx="430.3" cy="511.05" r="1.2"/><circle cx="430.7" cy="506.95" r="1.2"/><circle cx="431" cy="503.03" r="1.2"/><circle cx="431.4" cy="499.32" r="1.2"/><circle cx="431.7" cy="495.87" r="1.2"/><circle cx="432" cy="492.69" r="1.2"/><circle cx="432.4" cy="489.81" r="1.2"/><circle cx="432.7" cy="487.27" r="1.2"/><circle cx="433" cy="485.07" r="1.2"/><circle cx="433.4" cy="483.25" r="1.2"/><circle cx="433.7" cy="481.81" r="1.2"/><circle cx="434" cy="480.78" r="1.2"/><circle cx="434.4" cy="480.15" r="1.2"/><circle cx="434.7" cy="479.95" r="1.2"/><circle cx="435.1" cy="480.15" r="1.2"/><circle cx="435.4" cy="480.78" r="1.2"/><circle cx="435.7" cy="481.81" r="1.2"/><circle cx="436.1" cy="483.25" r="1.2"/><circle cx="436.4" cy="485.07" r="1.2"/><circle cx="436.8" cy="487.27" r="1.2"/><circle cx="437.1" cy="489.81" r="1.2"/><circle cx="437.4" cy="492.69" r="1.2"/><circle cx="437.8" cy="495.87" r="1.2"/><circle cx="438.1" cy="499.32" r="1.2"/><circle cx="438.4" cy="503.03" r="1.2"/><circle cx="438.8" cy="506.95" r="1.2"/><circle cx="439.1" cy="511.05" r="1.2"/><circle cx="439.4" cy="515.31" r="1.2"/><circle cx="439.8" cy="519.70" r="1.2"/><circle cx="440.1" cy="524.17" r="1.2"/><circle cx="440.5" cy="528.70" r="1.2"/><circle cx="440.8" cy="533.26" r="1.2"/><circle cx="441.1" cy="537.82" r="1.2"/><circle cx="441.5" cy="542.36" r="1.2"/><circle cx="441.8" cy="546.84" r="1.2"/><circle cx="442.1" cy="551.24" r="1.2"/><circle cx="442.5" cy="555.55" r="1.2"/><circle cx="442.8" cy="559.74" r="1.2"/><circle cx="443.2" cy="563.80" r="1.2"/><circle cx="443.5" cy="567.71" r="1.2"/><circle cx="443.8" cy="571.46" r="1.2"/><circle cx="444.2" cy="575.04" r="1.2"/><circle cx="444.5" cy="578.44" r="1.2"/><circle cx="444.8" cy="581.66" r="1.2"/><circle cx="445.2" cy="584.70" r="1.2"/><circle cx="445.5" cy="587.55" r="1.2"/><circle cx="445.9" cy="590.21" r="1.2"/><circle cx="446.2" cy="592.69" r="1.2"/><circle cx="446.5" cy="594.99" r="1.2"/><circle cx="446.9" cy="597.11" r="1.2"/><circle cx="447.2" cy="599.07" r="1.2"/><circle cx="447.5" cy="600.86" r="1.2"/><circle cx="447.9" cy="602.49" r="1.2"/><circle cx="448.2" cy="603.98" r="1.2"/><circle cx="448.6" cy="605.33" r="1.2"/><circle cx="448.9" cy="606.54" r="1.2"/><circle cx="449.2" cy="607.64" r="1.2"/><circle cx="449.6" cy="608.62" r="1.2"/><circle cx="449.9" cy="609.50" r="1.2"/><circle cx="450.2" cy="610.28" r="1.2"/><circle cx="450.6" cy="610.97" r="1.2"/><circle cx="450.9" cy="611.58" r="1.2"/><circle cx="451.3" cy="612.12" r="1.2"/><circle cx="451.6" cy="612.59" r="1.2"/><circle cx="451.9" cy="613.00" r="1.2"/><circle cx="452.3" cy="613.36" r="1.2"/><circle cx="452.6" cy="613.67" r="1.2"/><circle cx="452.9" cy="613.94" r="1.2"/><circle cx="453.3" cy="614.18" r="1.2"/><circle cx="453.6" cy="614.38" r="1.2"/><circle cx="454" cy="614.55" r="1.2"/><circle cx="454.3" cy="614.70" r="1.2"/><circle cx="454.6" cy="614.82" r="1.2"/><circle cx="455" cy="614.93" r="1.2"/><circle cx="455.3" cy="615.02" r="1.2"/><circle cx="455.6" cy="615.09" r="1.2"/><circle cx="456" cy="615.15" r="1.2"/><circle cx="456.3" cy="615.21" r="1.2"/><circle cx="456.7" cy="615.25" r="1.2"/><circle cx="457" cy="615.29" r="1.2"/><circle cx="457.3" cy="615.32" r="1.2"/><circle cx="457.7" cy="615.34" r="1.2"/><circle cx="458" cy="615.36" r="1.2"/><circle cx="458.4" cy="615.38" r="1.2"/><circle cx="458.7" cy="615.39" r="1.2"/><circle cx="459" cy="615.40" r="1.2"/><circle cx="459.4" cy="615.41" r="1.2"/><circle cx="459.7" cy="615.42" r="1.2"/><circle cx="460" cy="615.43" r="1.2"/><circle cx="460.4" cy="615.43" r="1.2"/><circle cx="460.7" cy="615.44" r="1.2"/><circle cx="461.1" cy="615.44" r="1.2"/><circle cx="461.4" cy="615.44" r="1.2"/><circle cx="461.7" cy="615.44" r="1.2"/><circle cx="462.1" cy="615.44" r="1.2"/><circle cx="462.4" cy="615.45" r="1.2"/><circle cx="462.7" cy="615.45" r="1.2"/><circle cx="463.1" cy="615.45" r="1.2"/><circle cx="463.4" cy="615.45" r="1.2"/><circle cx="463.8" cy="615.45" r="1.2"/><circle cx="464.1" cy="615.45" r="1.2"/><circle cx="464.4" cy="615.45" r="1.2"/><circle cx="464.8" cy="615.45" r="1.2"/><circle cx="465.1" cy="615.45" r="1.2"/><circle cx="465.4" cy="615.45" r="1.2"/><circle cx="465.8" cy="615.45" r="1.2"/><circle cx="466.1" cy="615.45" r="1.2"/><circle cx="466.5" cy="615.45" r="1.2"/><circle cx="466.8" cy="615.45" r="1.2"/><circle cx="467.1" cy="615.45" r="1.2"/><circle cx="467.5" cy="615.45" r="1.2"/><circle cx="467.8" cy="615.45" r="1.2"/><circle cx="468.1" cy="615.45" r="1.2"/><circle cx="468.5" cy="615.45" r="1.2"/><circle cx="468.8" cy="615.45" r="1.2"/><circle cx="469.1" cy="615.45" r="1.2"/><circle cx="469.5" cy="615.45" r="1.2"/><circle cx="469.8" cy="615.45" r="1.2"/><circle cx="470.2" cy="615.45" r="1.2"/><circle cx="470.5" cy="615.45" r="1.2"/><circle cx="470.8" cy="615.45" r="1.2"/><circle cx="471.2" cy="615.45" r="1.2"/><circle cx="471.5" cy="615.45" r="1.2"/><circle cx="471.9" cy="615.45" r="1.2"/><circle cx="472.2" cy="615.45" r="1.2"/><circle cx="472.5" cy="615.45" r="1.2"/><circle cx="472.9" cy="615.45" r="1.2"/><circle cx="473.2" cy="615.45" r="1.2"/><circle cx="473.5" cy="615.45" r="1.2"/><circle cx="473.9" cy="615.45" r="1.2"/><circle cx="474.2" cy="615.45" r="1.2"/><circle cx="474.6" cy="615.45" r="1.2"/><circle cx="474.9" cy="615.45" r="1.2"/><circle cx="475.2" cy="615.45" r="1.2"/><circle cx="475.6" cy="615.45" r="1.2"/><circle cx="475.9" cy="615.45" r="1.2"/><circle cx="476.2" cy="615.45" r="1.2"/><circle cx="476.6" cy="615.45" r="1.2"/><circle cx="476.9" cy="615.45" r="1.2"/><circle cx="477.2" cy="615.45" r="1.2"/><circle cx="477.6" cy="615.45" r="1.2"/><circle cx="477.9" cy="615.45" r="1.2"/><circle cx="478.3" cy="615.45" r="1.2"/><circle cx="478.6" cy="615.45" r="1.2"/><circle cx="478.9" cy="615.45" r="1.2"/><circle cx="479.3" cy="615.45" r="1.2"/><circle cx="479.6" cy="615.45" r="1.2"/><circle cx="480" cy="615.45" r="1.2"/><circle cx="480.3" cy="615.45" r="1.2"/><circle cx="480.6" cy="615.45" r="1.2"/><circle cx="481" cy="615.45" r="1.2"/><circle cx="481.3" cy="615.45" r="1.2"/><circle cx="481.6" cy="615.45" r="1.2"/><circle cx="482" cy="615.45" r="1.2"/><circle cx="482.3" cy="615.45" r="1.2"/><circle cx="482.6" cy="615.45" r="1.2"/><circle cx="483" cy="615.45" r="1.2"/><circle cx="483.3" cy="615.45" r="1.2"/><circle cx="483.7" cy="615.45" r="1.2"/><circle cx="484" cy="615.45" r="1.2"/><circle cx="484.3" cy="615.45" r="1.2"/><circle cx="484.7" cy="615.45" r="1.2"/><circle cx="485" cy="615.45" r="1.2"/><circle cx="485.4" cy="615.45" r="1.2"/><circle cx="485.7" cy="615.45" r="1.2"/><circle cx="486" cy="615.45" r="1.2"/><circle cx="486.4" cy="615.45" r="1.2"/><circle cx="486.7" cy="615.45" r="1.2"/><circle cx="487" cy="615.45" r="1.2"/><circle cx="487.4" cy="615.45" r="1.2"/><circle cx="487.7" cy="615.45" r="1.2"/><circle cx="488.1" cy="615.45" r="1.2"/><circle cx="488.4" cy="615.45" r="1.2"/><circle cx="488.7" cy="615.45" r="1.2"/><circle cx="489.1" cy="615.45" r="1.2"/><circle cx="489.4" cy="615.45" r="1.2"/><circle cx="489.7" cy="615.45" r="1.2"/><circle cx="490.1" cy="615.45" r="1.2"/><circle cx="490.4" cy="615.45" r="1.2"/><circle cx="490.8" cy="615.45" r="1.2"/><circle cx="491.1" cy="615.45" r="1.2"/><circle cx="491.4" cy="615.45" r="1.2"/><circle cx="491.8" cy="615.45" r="1.2"/><circle cx="492.1" cy="615.45" r="1.2"/><circle cx="492.4" cy="615.45" r="1.2"/><circle cx="492.8" cy="615.45" r="1.2"/><circle cx="493.1" cy="615.45" r="1.2"/><circle cx="493.5" cy="615.45" r="1.2"/><circle cx="493.8" cy="615.45" r="1.2"/><circle cx="494.1" cy="615.45" r="1.2"/><circle cx="494.5" cy="615.45" r="1.2"/><circle cx="494.8" cy="615.45" r="1.2"/><circle cx="495.1" cy="615.45" r="1.2"/><circle cx="495.5" cy="615.45" r="1.2"/><circle cx="495.8" cy="615.45" r="1.2"/><circle cx="496.2" cy="615.45" r="1.2"/><circle cx="496.5" cy="615.45" r="1.2"/><circle cx="496.8" cy="615.45" r="1.2"/><circle cx="497.2" cy="615.45" r="1.2"/><circle cx="497.5" cy="615.45" r="1.2"/><circle cx="497.8" cy="615.45" r="1.2"/><circle cx="498.2" cy="615.45" r="1.2"/><circle cx="498.5" cy="615.45" r="1.2"/><circle cx="498.9" cy="615.45" r="1.2"/><circle cx="499.2" cy="615.45" r="1.2"/><circle cx="499.5" cy="615.45" r="1.2"/><circle cx="499.9" cy="615.45" r="1.2"/><circle cx="500.2" cy="615.45" r="1.2"/><circle cx="500.5" cy="615.45" r="1.2"/><circle cx="500.9" cy="615.45" r="1.2"/><circle cx="501.2" cy="615.45" r="1.2"/><circle cx="501.6" cy="615.45" r="1.2"/><circle cx="501.9" cy="615.45" r="1.2"/><circle cx="502.2" cy="615.45" r="1.2"/><circle cx="502.6" cy="615.45" r="1.2"/><circle cx="502.9" cy="615.45" r="1.2"/><circle cx="503.2" cy="615.45" r="1.2"/><circle cx="503.6" cy="615.45" r="1.2"/><circle cx="503.9" cy="615.45" r="1.2"/><circle cx="504.2" cy="615.45" r="1.2"/><circle cx="504.6" cy="615.45" r="1.2"/><circle cx="504.9" cy="615.45" r="1.2"/><circle cx="505.3" cy="615.45" r="1.2"/><circle cx="505.6" cy="615.45" r="1.2"/><circle cx="505.9" cy="615.45" r="1.2"/><circle cx="506.3" cy="615.45" r="1.2"/><circle cx="506.6" cy="615.45" r="1.2"/><circle cx="506.9" cy="615.45" r="1.2"/><circle cx="507.3" cy="615.45" r="1.2"/><circle cx="507.6" cy="615.45" r="1.2"/><circle cx="508" cy="615.45" r="1.2"/><circle cx="508.3" cy="615.45" r="1.2"/><circle cx="508.6" cy="615.45" r="1.2"/><circle cx="509" cy="615.45" r="1.2"/><circle cx="509.3" cy="615.45" r="1.2"/><circle cx="509.6" cy="615.45" r="1.2"/><circle cx="510" cy="615.45" r="1.2"/><circle cx="510.3" cy="615.45" r="1.2"/><circle cx="510.7" cy="615.45" r="1.2"/><circle cx="511" cy="615.45" r="1.2"/><circle cx="511.3" cy="615.45" r="1.2"/><circle cx="511.7" cy="615.45" r="1.2"/><circle cx="512" cy="615.45" r="1.2"/><circle cx="512.4" cy="615.45" r="1.2"/><circle cx="512.7" cy="615.45" r="1.2"/><circle cx="513" cy="615.45" r="1.2"/><circle cx="513.4" cy="615.45" r="1.2"/><circle cx="513.7" cy="615.45" r="1.2"/><circle cx="514" cy="615.45" r="1.2"/><circle cx="514.4" cy="615.45" r="1.2"/><circle cx="514.7" cy="615.45" r="1.2"/><circle cx="515" cy="615.45" r="1.2"/><circle cx="515.4" cy="615.45" r="1.2"/><circle cx="515.7" cy="615.45" r="1.2"/><circle cx="516.1" cy="615.45" r="1.2"/><circle cx="516.4" cy="615.45" r="1.2"/><circle cx="516.7" cy="615.45" r="1.2"/><circle cx="517.1" cy="615.45" r="1.2"/><circle cx="517.4" cy="615.45" r="1.2"/><circle cx="517.8" cy="615.45" r="1.2"/><circle cx="518.1" cy="615.45" r="1.2"/><circle cx="518.4" cy="615.45" r="1.2"/></g>
<path d="M335.5 615.45L336.9 615.45L338.2 615.45L339.6 615.45L340.9 615.45L342.2 615.45L343.6 615.45L344.9 615.45L346.3 615.45L347.7 615.45L349 615.45L350.4 615.45L351.7 615.45L353.1 615.45L354.4 615.45L355.8 615.45L357.1 615.45L358.4 615.45L359.8 615.45L361.1 615.45L362.5 615.45L363.9 615.45L365.2 615.45L366.6 615.45L367.9 615.45L369.2 615.45L370.6 615.45L371.9 615.45L373.3 615.45L374.6 615.45L376 615.45L377.4 615.45L378.7 615.45L380.1 615.45L381.4 615.45L382.8 615.45L384.1 615.45L385.4 615.45L386.8 615.45L388.2 615.45L389.5 615.45L390.9 615.45L392.2 615.45L393.6 615.45L394.9 615.45L396.2 615.45L397.6 615.45L399 615.45L400.3 615.45L401.7 615.45L403 615.45L404.4 615.45L405.7 615.45L407 615.45L408.4 615.44L409.8 615.42L411.1 615.38L412.4 615.29L413.8 615.09L415.1 614.70L416.5 613.94L417.9 612.59" fill="none" stroke="#064a55" stroke-width="2.3" stroke-opacity="0.72"/>
<path d="M451.6 612.59L452.9 613.94L454.3 614.70L455.6 615.09L457 615.29L458.4 615.38L459.7 615.42L461.1 615.44L462.4 615.45L463.8 615.45L465.1 615.45L466.5 615.45L467.8 615.45L469.1 615.45L470.5 615.45L471.9 615.45L473.2 615.45L474.6 615.45L475.9 615.45L477.2 615.45L478.6 615.45L479.9 615.45L481.3 615.45L482.6 615.45L484 615.45L485.4 615.45L486.7 615.45L488 615.45L489.4 615.45L490.8 615.45L492.1 615.45L493.4 615.45L494.8 615.45L496.1 615.45L497.5 615.45L498.9 615.45L500.2 615.45L501.6 615.45L502.9 615.45L504.2 615.45L505.6 615.45L506.9 615.45L508.3 615.45L509.6 615.45L511 615.45L512.3 615.45L513.7 615.45L515 615.45L516.4 615.45L517.8 615.45" fill="none" stroke="#064a55" stroke-width="2.3" stroke-opacity="0.72"/>
<path d="M335.5 615.45L336.2 615.45L336.9 615.45L337.5 615.45L338.2 615.45L338.9 615.45L339.6 615.45L340.2 615.45L340.9 615.45L341.6 615.45L342.2 615.45L342.9 615.45L343.6 615.45L344.3 615.45L344.9 615.45L345.6 615.45L346.3 615.45L347 615.45L347.7 615.45L348.3 615.45L349 615.45L349.7 615.45L350.4 615.45L351 615.45L351.7 615.45L352.4 615.45L353.1 615.45L353.7 615.45L354.4 615.45L355.1 615.45L355.8 615.45L356.4 615.45L357.1 615.45L357.8 615.45L358.4 615.45L359.1 615.45L359.8 615.45L360.5 615.45L361.1 615.45L361.8 615.45L362.5 615.45L363.2 615.45L363.9 615.45L364.5 615.45L365.2 615.45L365.9 615.45L366.6 615.45L367.2 615.45L367.9 615.45L368.6 615.45L369.2 615.45L369.9 615.45L370.6 615.45L371.3 615.45L371.9 615.45L372.6 615.45L373.3 615.45L374 615.45L374.6 615.45L375.3 615.45L376 615.45L376.7 615.45L377.4 615.45L378 615.45L378.7 615.45L379.4 615.45L380.1 615.45L380.7 615.45L381.4 615.45L382.1 615.45L382.8 615.45L383.4 615.45L384.1 615.45L384.8 615.45L385.4 615.45L386.1 615.45L386.8 615.45L387.5 615.45L388.2 615.45L388.8 615.45L389.5 615.45L390.2 615.45L390.9 615.45L391.5 615.45L392.2 615.45L392.9 615.45L393.6 615.45L394.2 615.45L394.9 615.45L395.6 615.45L396.2 615.45L396.9 615.45L397.6 615.45L398.3 615.45L399 615.45L399.6 615.45L400.3 615.45L401 615.45L401.7 615.45L402.3 615.45L403 615.45L403.7 615.45L404.4 615.45L405 615.45L405.7 615.45L406.4 615.45L407 615.45L407.7 615.44L408.4 615.44L409.1 615.43L409.8 615.42L410.4 615.40L411.1 615.38L411.8 615.34L412.4 615.29L413.1 615.21L413.8 615.09L414.5 614.93L415.1 614.70L415.8 614.38L416.5 613.94L417.2 613.36L417.9 612.59L418.5 611.58L419.2 610.28L419.9 608.62L420.6 606.54L421.2 603.98L421.9 600.86L422.6 597.11L423.2 592.69L423.9 587.55L424.6 581.66L425.3 575.04L425.9 567.71L426.6 559.74L427.3 551.24L428 542.36L428.6 533.26L429.3 524.17L430 515.31L430.7 506.95L431.4 499.32L432 492.69L432.7 487.27L433.4 483.25L434 480.78L434.7 479.95L435.4 480.78L436.1 483.25L436.8 487.27L437.4 492.69L438.1 499.32L438.8 506.95L439.4 515.31L440.1 524.17L440.8 533.26L441.5 542.36L442.1 551.24L442.8 559.74L443.5 567.71L444.2 575.04L444.8 581.66L445.5 587.55L446.2 592.69L446.9 597.11L447.5 600.86L448.2 603.98L448.9 606.54L449.6 608.62L450.2 610.28L450.9 611.58L451.6 612.59L452.3 613.36L452.9 613.94L453.6 614.38L454.3 614.70L455 614.93L455.6 615.09L456.3 615.21L457 615.29L457.7 615.34L458.4 615.38L459 615.40L459.7 615.42L460.4 615.43L461.1 615.44L461.7 615.44L462.4 615.45L463.1 615.45L463.8 615.45L464.4 615.45L465.1 615.45L465.8 615.45L466.5 615.45L467.1 615.45L467.8 615.45L468.5 615.45L469.1 615.45L469.8 615.45L470.5 615.45L471.2 615.45L471.9 615.45L472.5 615.45L473.2 615.45L473.9 615.45L474.6 615.45L475.2 615.45L475.9 615.45L476.6 615.45L477.2 615.45L477.9 615.45L478.6 615.45L479.3 615.45L480 615.45L480.6 615.45L481.3 615.45L482 615.45L482.6 615.45L483.3 615.45L484 615.45L484.7 615.45L485.4 615.45L486 615.45L486.7 615.45L487.4 615.45L488.1 615.45L488.7 615.45L489.4 615.45L490.1 615.45L490.8 615.45L491.4 615.45L492.1 615.45L492.8 615.45L493.5 615.45L494.1 615.45L494.8 615.45L495.5 615.45L496.2 615.45L496.8 615.45L497.5 615.45L498.2 615.45L498.9 615.45L499.5 615.45L500.2 615.45L500.9 615.45L501.6 615.45L502.2 615.45L502.9 615.45L503.6 615.45L504.2 615.45L504.9 615.45L505.6 615.45L506.3 615.45L506.9 615.45L507.6 615.45L508.3 615.45L509 615.45L509.6 615.45L510.3 615.45L511 615.45L511.7 615.45L512.4 615.45L513 615.45L513.7 615.45L514.4 615.45L515 615.45L515.7 615.45L516.4 615.45L517.1 615.45L517.8 615.45L518.4 615.45" fill="none" stroke="#2a2af0" stroke-width="0.65" stroke-opacity="1" stroke-dasharray="2.5 1.5 0.8 1.5"/>
<rect class="bd" x="326" y="473" width="199.5" height="149.5"/>
<path class="tm" d="M335.5 622.5v3.5M403 622.5v3.5M470.5 622.5v3.5M326 615.5h-3.5M326 582.4h-3.5M326 549.4h-3.5M326 516.3h-3.5M326 483.3h-3.5"/>
<text class="tk" text-anchor="middle" x="335.5" y="636">0.2</text>
<text class="tk" text-anchor="middle" x="403" y="636">0.3</text>
<text class="tk" text-anchor="middle" x="470.5" y="636">0.4</text>
<text class="tk" text-anchor="end" x="319.4" y="619.4">0.0000</text>
<text class="tk" text-anchor="end" x="319.4" y="586.3">0.0025</text>
<text class="tk" text-anchor="end" x="319.4" y="553.2">0.0050</text>
<text class="tk" text-anchor="end" x="319.4" y="520.2">0.0075</text>
<text class="tk" text-anchor="end" x="319.4" y="487.2">0.0100</text>
<text class="ar" text-anchor="middle" x="426.5" y="648.5">ρ</text>
<text class="ax" text-anchor="middle" transform="translate(278.5 548.6) rotate(-90)">P</text>
</g>
<text class="cap" text-anchor="middle" x="107.7" y="210.5">(a) Tree.</text>
<text class="cap" text-anchor="middle" x="396" y="210.5">(b) Tree: SDP.</text>
<text class="cap" text-anchor="middle" x="110.3" y="460">(c) Configuration model network.</text>
<text class="cap" text-anchor="middle" x="394.5" y="460">(d) Configuration model network: TDA.</text>
<text class="cap" text-anchor="middle" x="107.5" y="682">(e) Corporate ownership network.</text>
<text class="cap" text-anchor="middle" x="394.5" y="682">(f) Corporate ownership network: TDA.</text>
</svg>
</body></html>
